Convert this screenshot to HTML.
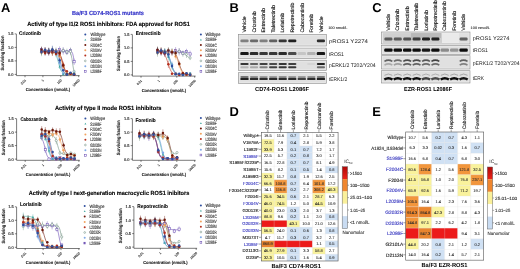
<!DOCTYPE html><html><head><meta charset="utf-8"><style>html,body{margin:0;padding:0;background:#fff;overflow:hidden;}svg{display:block}text{font-family:'Liberation Sans', Arial, Helvetica, sans-serif;text-rendering:geometricPrecision;}</style></head><body>
<svg width="520" height="269" viewBox="0 0 520 269">
<defs><filter id="bl" x="-20%" y="-50%" width="140%" height="200%"><feGaussianBlur stdDeviation="0.6"/></filter><filter id="bl2" x="-20%" y="-50%" width="140%" height="200%"><feGaussianBlur stdDeviation="0.35"/></filter></defs>
<rect width="520" height="269" fill="#fff"/>
<text x="1.00" y="11.80" font-size="12.9" font-weight="bold" fill="#000" text-anchor="start">A</text>
<text x="72.00" y="14.60" font-size="5.9" font-weight="bold" fill="#3434c8" text-anchor="start" textLength="72" lengthAdjust="spacingAndGlyphs" stroke="#3434c8" stroke-width="0.15">Ba/F3 CD74-ROS1 mutants</text>
<text x="27.30" y="26.00" font-size="6.0" font-weight="bold" fill="#000" text-anchor="start" textLength="162.5" lengthAdjust="spacingAndGlyphs" stroke="#000" stroke-width="0.12">Activity of type I1/2 ROS1 inhibitors: FDA approved for ROS1</text>
<text x="55.00" y="109.60" font-size="6.0" font-weight="bold" fill="#000" text-anchor="start" textLength="106.5" lengthAdjust="spacingAndGlyphs" stroke="#000" stroke-width="0.12">Activity of type II mode ROS1 inhibitors</text>
<text x="28.80" y="195.40" font-size="6.0" font-weight="bold" fill="#000" text-anchor="start" textLength="160.5" lengthAdjust="spacingAndGlyphs" stroke="#000" stroke-width="0.12">Activity of type I next-generation macrocyclic ROS1 inibitors</text>
<text x="19.00" y="34.80" font-size="5.3" font-weight="bold" fill="#000" text-anchor="start" textLength="22" lengthAdjust="spacingAndGlyphs" stroke="#000" stroke-width="0.08">Crizotinib</text>
<path d="M16.4 34.099999999999994 V75.6 H79.6" fill="none" stroke="#333" stroke-width="0.65"/>
<path d="M14.7 74.40H16.4" stroke="#111" stroke-width="0.55"/>
<text x="13.40" y="75.80" font-size="3.9" font-weight="normal" fill="#222" text-anchor="end" stroke="#222" stroke-width="0.15">0.0</text>
<path d="M14.7 60.90H16.4" stroke="#111" stroke-width="0.55"/>
<text x="13.40" y="62.30" font-size="3.9" font-weight="normal" fill="#222" text-anchor="end" stroke="#222" stroke-width="0.15">0.5</text>
<path d="M14.7 47.40H16.4" stroke="#111" stroke-width="0.55"/>
<text x="13.40" y="48.80" font-size="3.9" font-weight="normal" fill="#222" text-anchor="end" stroke="#222" stroke-width="0.15">1.0</text>
<path d="M14.7 33.90H16.4" stroke="#111" stroke-width="0.55"/>
<text x="13.40" y="35.30" font-size="3.9" font-weight="normal" fill="#222" text-anchor="end" stroke="#222" stroke-width="0.15">1.5</text>
<text transform="translate(4.40,53.10) rotate(-90)" font-size="4.6" font-weight="bold" text-anchor="middle" fill="#111" stroke="#111" stroke-width="0.1" textLength="35" lengthAdjust="spacingAndGlyphs">Surviving fraction</text>
<path d="M25.00 75.6V77.19999999999999" stroke="#111" stroke-width="0.55"/>
<text transform="translate(26.20,80.6) rotate(-45)" font-size="3.1" text-anchor="end" fill="#333" stroke="#333" stroke-width="0.1">0.01</text>
<path d="M42.90 75.6V77.19999999999999" stroke="#111" stroke-width="0.55"/>
<text transform="translate(44.10,80.6) rotate(-45)" font-size="3.1" text-anchor="end" fill="#333" stroke="#333" stroke-width="0.1">1</text>
<path d="M60.80 75.6V77.19999999999999" stroke="#111" stroke-width="0.55"/>
<text transform="translate(62.00,80.6) rotate(-45)" font-size="3.1" text-anchor="end" fill="#333" stroke="#333" stroke-width="0.1">100</text>
<path d="M78.70 75.6V77.19999999999999" stroke="#111" stroke-width="0.55"/>
<text transform="translate(79.90,80.6) rotate(-45)" font-size="3.1" text-anchor="end" fill="#333" stroke="#333" stroke-width="0.1">10000</text>
<text x="47.90" y="91.00" font-size="4.4" font-weight="bold" fill="#111" text-anchor="middle" textLength="44.5" lengthAdjust="spacingAndGlyphs" stroke="#111" stroke-width="0.08">Concentration (nmol/L)</text>
<path d="M41.5 50.6 L42.3 50.6 L43.1 50.6 L43.9 50.6 L44.7 50.6 L45.5 50.6 L46.3 50.6 L47.1 50.6 L47.9 50.6 L48.7 50.6 L49.5 50.7 L50.3 50.7 L51.1 50.7 L51.9 50.7 L52.7 50.8 L53.5 50.9 L54.3 51.0 L55.1 51.3 L55.9 51.7 L56.7 52.4 L57.5 53.4 L58.3 55.0 L59.1 57.3 L59.9 60.1 L60.7 63.2 L61.5 66.2 L62.3 68.7 L63.1 70.6 L63.9 71.9 L64.7 72.8 L65.5 73.3 L66.3 73.6 L67.1 73.8 L67.9 74.0 L68.7 74.0 L69.5 74.1 L70.3 74.1 L71.1 74.1 L71.9 74.1 L72.7 74.1 L73.5 74.1 L74.1 74.1" fill="none" stroke="#2f4f9f" stroke-width="0.6"/>
<path d="M41.5 51.2 L42.3 51.2 L43.1 51.2 L43.9 51.2 L44.7 51.2 L45.5 51.2 L46.3 51.2 L47.1 51.2 L47.9 51.2 L48.7 51.2 L49.5 51.2 L50.3 51.3 L51.1 51.3 L51.9 51.5 L52.7 51.7 L53.5 52.0 L54.3 52.5 L55.1 53.3 L55.9 54.6 L56.7 56.5 L57.5 59.0 L58.3 61.9 L59.1 64.9 L59.9 67.7 L60.7 69.8 L61.5 71.4 L62.3 72.4 L63.1 73.1 L63.9 73.5 L64.7 73.8 L65.5 73.9 L66.3 74.0 L67.1 74.1 L67.9 74.1 L68.7 74.1 L69.5 74.1 L70.3 74.1 L71.1 74.1 L71.9 74.1 L72.7 74.1 L73.5 74.1 L74.1 74.1" fill="none" stroke="#3fa7a0" stroke-width="0.6"/>
<path d="M41.5 51.2 L42.3 51.2 L43.1 51.2 L43.9 51.2 L44.7 51.2 L45.5 51.2 L46.3 51.2 L47.1 51.2 L47.9 51.2 L48.7 51.2 L49.5 51.2 L50.3 51.2 L51.1 51.2 L51.9 51.2 L52.7 51.2 L53.5 51.2 L54.3 51.3 L55.1 51.3 L55.9 51.5 L56.7 51.7 L57.5 52.0 L58.3 52.5 L59.1 53.3 L59.9 54.6 L60.7 56.5 L61.5 59.0 L62.3 61.9 L63.1 64.9 L63.9 67.7 L64.7 69.8 L65.5 71.4 L66.3 72.4 L67.1 73.1 L67.9 73.5 L68.7 73.8 L69.5 73.9 L70.3 74.0 L71.1 74.1 L71.9 74.1 L72.7 74.1 L73.5 74.1 L74.1 74.1" fill="none" stroke="#6e1a0c" stroke-width="0.6"/>
<path d="M41.5 51.7 L42.3 51.7 L43.1 51.7 L43.9 51.7 L44.7 51.7 L45.5 51.7 L46.3 51.7 L47.1 51.7 L47.9 51.7 L48.7 51.7 L49.5 51.7 L50.3 51.7 L51.1 51.7 L51.9 51.7 L52.7 51.8 L53.5 51.8 L54.3 51.9 L55.1 51.9 L55.9 52.1 L56.7 52.4 L57.5 52.8 L58.3 53.5 L59.1 54.6 L59.9 56.2 L60.7 58.4 L61.5 61.1 L62.3 64.0 L63.1 66.9 L63.9 69.2 L64.7 71.0 L65.5 72.1 L66.3 72.9 L67.1 73.4 L67.9 73.7 L68.7 73.9 L69.5 74.0 L70.3 74.0 L71.1 74.1 L71.9 74.1 L72.7 74.1 L73.5 74.1 L74.1 74.1" fill="none" stroke="#f2a35e" stroke-width="0.6"/>
<path d="M41.5 52.3 L42.3 52.3 L43.1 52.3 L43.9 52.3 L44.7 52.3 L45.5 52.3 L46.3 52.3 L47.1 52.3 L47.9 52.3 L48.7 52.3 L49.5 52.3 L50.3 52.3 L51.1 52.3 L51.9 52.3 L52.7 52.3 L53.5 52.3 L54.3 52.3 L55.1 52.4 L55.9 52.5 L56.7 52.6 L57.5 52.8 L58.3 53.2 L59.1 53.8 L59.9 54.7 L60.7 56.1 L61.5 58.1 L62.3 60.7 L63.1 63.6 L63.9 66.4 L64.7 68.8 L65.5 70.7 L66.3 71.9 L67.1 72.8 L67.9 73.3 L68.7 73.7 L69.5 73.8 L70.3 74.0 L71.1 74.0 L71.9 74.1 L72.7 74.1 L73.5 74.1 L74.1 74.1" fill="none" stroke="#b5301e" stroke-width="0.6"/>
<path d="M41.5 51.2 L42.3 51.2 L43.1 51.2 L43.9 51.2 L44.7 51.2 L45.5 51.2 L46.3 51.2 L47.1 51.2 L47.9 51.2 L48.7 51.2 L49.5 51.2 L50.3 51.2 L51.1 51.2 L51.9 51.2 L52.7 51.2 L53.5 51.2 L54.3 51.2 L55.1 51.2 L55.9 51.2 L56.7 51.2 L57.5 51.2 L58.3 51.2 L59.1 51.2 L59.9 51.2 L60.7 51.2 L61.5 51.2 L62.3 51.2 L63.1 51.2 L63.9 51.2 L64.7 51.2 L65.5 51.2 L66.3 51.2 L67.1 51.2 L67.9 51.3 L68.7 51.4 L69.5 51.7 L70.3 52.6 L71.1 54.6 L71.9 58.5 L72.7 64.1 L73.5 69.0 L74.1 71.4" fill="none" stroke="#6f9080" stroke-width="0.6"/>
<path d="M41.5 50.6 L42.3 50.6 L43.1 50.6 L43.9 50.6 L44.7 50.6 L45.5 50.6 L46.3 50.6 L47.1 50.6 L47.9 50.7 L48.7 50.7 L49.5 50.7 L50.3 50.7 L51.1 50.7 L51.9 50.8 L52.7 50.9 L53.5 51.1 L54.3 51.4 L55.1 51.8 L55.9 52.6 L56.7 53.8 L57.5 55.5 L58.3 57.9 L59.1 60.8 L59.9 63.9 L60.7 66.8 L61.5 69.2 L62.3 71.0 L63.1 72.2 L63.9 72.9 L64.7 73.4 L65.5 73.7 L66.3 73.9 L67.1 74.0 L67.9 74.0 L68.7 74.1 L69.5 74.1 L70.3 74.1 L71.1 74.1 L71.9 74.1 L72.7 74.1 L73.5 74.1 L74.1 74.1" fill="none" stroke="#7ea8e6" stroke-width="0.6"/>
<path d="M41.5 50.9 L42.3 50.9 L43.1 50.9 L43.9 50.9 L44.7 50.9 L45.5 50.9 L46.3 50.9 L47.1 50.9 L47.9 50.9 L48.7 50.9 L49.5 50.9 L50.3 50.9 L51.1 50.9 L51.9 50.9 L52.7 50.9 L53.5 50.9 L54.3 50.9 L55.1 50.9 L55.9 50.9 L56.7 50.9 L57.5 50.9 L58.3 50.9 L59.1 50.9 L59.9 50.9 L60.7 50.9 L61.5 50.9 L62.3 50.9 L63.1 50.9 L63.9 50.9 L64.7 50.9 L65.5 50.9 L66.3 50.9 L67.1 50.9 L67.9 50.9 L68.7 50.9 L69.5 51.0 L70.3 51.1 L71.1 51.3 L71.9 52.0 L72.7 53.7 L73.5 57.2 L74.1 61.1" fill="none" stroke="#6b4eb3" stroke-width="0.6"/>
<path d="M41.5 46.9V52.3" stroke="#6b4eb3" stroke-width="0.4"/>
<rect x="40.40" y="48.46" width="2.20" height="2.20" fill="#fff" stroke="#6b4eb3" stroke-width="0.55"/>
<path d="M45.1 47.7V54.1" stroke="#6b4eb3" stroke-width="0.4"/>
<rect x="44.02" y="49.81" width="2.20" height="2.20" fill="#fff" stroke="#6b4eb3" stroke-width="0.55"/>
<path d="M48.7 48.6V56.0" stroke="#6b4eb3" stroke-width="0.4"/>
<rect x="47.64" y="51.16" width="2.20" height="2.20" fill="#fff" stroke="#6b4eb3" stroke-width="0.55"/>
<path d="M52.4 48.0V52.4" stroke="#6b4eb3" stroke-width="0.4"/>
<rect x="51.27" y="49.14" width="2.20" height="2.20" fill="#fff" stroke="#6b4eb3" stroke-width="0.55"/>
<path d="M56.0 48.9V54.3" stroke="#6b4eb3" stroke-width="0.4"/>
<rect x="54.89" y="50.49" width="2.20" height="2.20" fill="#fff" stroke="#6b4eb3" stroke-width="0.55"/>
<path d="M59.6 46.4V52.8" stroke="#6b4eb3" stroke-width="0.4"/>
<rect x="58.51" y="48.46" width="2.20" height="2.20" fill="#fff" stroke="#6b4eb3" stroke-width="0.55"/>
<path d="M63.2 47.2V54.6" stroke="#6b4eb3" stroke-width="0.4"/>
<rect x="62.13" y="49.81" width="2.20" height="2.20" fill="#fff" stroke="#6b4eb3" stroke-width="0.55"/>
<path d="M66.9 50.1V54.5" stroke="#6b4eb3" stroke-width="0.4"/>
<rect x="65.76" y="51.16" width="2.20" height="2.20" fill="#fff" stroke="#6b4eb3" stroke-width="0.55"/>
<path d="M70.5 47.7V53.1" stroke="#6b4eb3" stroke-width="0.4"/>
<rect x="69.38" y="49.33" width="2.20" height="2.20" fill="#fff" stroke="#6b4eb3" stroke-width="0.55"/>
<path d="M74.1 58.6V65.0" stroke="#6b4eb3" stroke-width="0.4"/>
<rect x="73.00" y="60.65" width="2.20" height="2.20" fill="#fff" stroke="#6b4eb3" stroke-width="0.55"/>
<path d="M41.5 48.8V56.2" stroke="#6f9080" stroke-width="0.4"/>
<circle cx="41.50" cy="52.53" r="1.10" fill="#fff" stroke="#6f9080" stroke-width="0.55"/>
<path d="M45.1 48.3V52.7" stroke="#6f9080" stroke-width="0.4"/>
<circle cx="45.12" cy="50.51" r="1.10" fill="#fff" stroke="#6f9080" stroke-width="0.55"/>
<path d="M48.7 49.2V54.6" stroke="#6f9080" stroke-width="0.4"/>
<circle cx="48.74" cy="51.86" r="1.10" fill="#fff" stroke="#6f9080" stroke-width="0.55"/>
<path d="M52.4 46.6V53.0" stroke="#6f9080" stroke-width="0.4"/>
<circle cx="52.37" cy="49.83" r="1.10" fill="#fff" stroke="#6f9080" stroke-width="0.55"/>
<path d="M56.0 47.5V54.9" stroke="#6f9080" stroke-width="0.4"/>
<circle cx="55.99" cy="51.18" r="1.10" fill="#fff" stroke="#6f9080" stroke-width="0.55"/>
<path d="M59.6 50.3V54.7" stroke="#6f9080" stroke-width="0.4"/>
<circle cx="59.61" cy="52.53" r="1.10" fill="#fff" stroke="#6f9080" stroke-width="0.55"/>
<path d="M63.2 47.8V53.2" stroke="#6f9080" stroke-width="0.4"/>
<circle cx="63.23" cy="50.51" r="1.10" fill="#fff" stroke="#6f9080" stroke-width="0.55"/>
<path d="M66.9 48.7V55.1" stroke="#6f9080" stroke-width="0.4"/>
<circle cx="66.86" cy="51.87" r="1.10" fill="#fff" stroke="#6f9080" stroke-width="0.55"/>
<path d="M70.5 47.8V55.2" stroke="#6f9080" stroke-width="0.4"/>
<circle cx="70.48" cy="51.53" r="1.10" fill="#fff" stroke="#6f9080" stroke-width="0.55"/>
<circle cx="74.10" cy="71.39" r="1.10" fill="#fff" stroke="#6f9080" stroke-width="0.55"/>
<path d="M41.5 47.4V53.8" stroke="#7ea8e6" stroke-width="0.4"/>
<circle cx="41.50" cy="50.64" r="1.25" fill="#7ea8e6"/>
<path d="M45.1 48.3V55.7" stroke="#7ea8e6" stroke-width="0.4"/>
<circle cx="45.12" cy="51.99" r="1.25" fill="#7ea8e6"/>
<path d="M48.7 47.8V52.2" stroke="#7ea8e6" stroke-width="0.4"/>
<circle cx="48.74" cy="49.98" r="1.25" fill="#7ea8e6"/>
<path d="M52.4 48.8V54.2" stroke="#7ea8e6" stroke-width="0.4"/>
<circle cx="52.37" cy="51.52" r="1.25" fill="#7ea8e6"/>
<path d="M56.0 48.2V54.6" stroke="#7ea8e6" stroke-width="0.4"/>
<circle cx="55.99" cy="51.35" r="1.25" fill="#7ea8e6"/>
<path d="M59.6 59.1V66.5" stroke="#7ea8e6" stroke-width="0.4"/>
<circle cx="59.61" cy="62.82" r="1.25" fill="#7ea8e6"/>
<circle cx="63.23" cy="73.68" r="1.25" fill="#7ea8e6"/>
<circle cx="66.86" cy="73.28" r="1.25" fill="#7ea8e6"/>
<circle cx="70.48" cy="74.40" r="1.25" fill="#7ea8e6"/>
<circle cx="74.10" cy="72.78" r="1.25" fill="#7ea8e6"/>
<path d="M41.5 49.7V55.1" stroke="#f2a35e" stroke-width="0.4"/>
<circle cx="41.50" cy="52.40" r="1.25" fill="#f2a35e"/>
<path d="M45.1 47.2V53.6" stroke="#f2a35e" stroke-width="0.4"/>
<circle cx="45.12" cy="50.37" r="1.25" fill="#f2a35e"/>
<path d="M48.7 48.0V55.4" stroke="#f2a35e" stroke-width="0.4"/>
<circle cx="48.74" cy="51.72" r="1.25" fill="#f2a35e"/>
<path d="M52.4 50.9V55.3" stroke="#f2a35e" stroke-width="0.4"/>
<circle cx="52.37" cy="53.11" r="1.25" fill="#f2a35e"/>
<path d="M56.0 48.7V54.1" stroke="#f2a35e" stroke-width="0.4"/>
<circle cx="55.99" cy="51.45" r="1.25" fill="#f2a35e"/>
<path d="M59.6 53.0V59.4" stroke="#f2a35e" stroke-width="0.4"/>
<circle cx="59.61" cy="56.18" r="1.25" fill="#f2a35e"/>
<path d="M63.2 62.2V69.6" stroke="#f2a35e" stroke-width="0.4"/>
<circle cx="63.23" cy="65.94" r="1.25" fill="#f2a35e"/>
<circle cx="66.86" cy="73.28" r="1.25" fill="#f2a35e"/>
<circle cx="70.48" cy="74.40" r="1.25" fill="#f2a35e"/>
<circle cx="74.10" cy="73.45" r="1.25" fill="#f2a35e"/>
<path d="M41.5 47.5V54.9" stroke="#3fa7a0" stroke-width="0.4"/>
<path d="M41.50 49.88L42.70 52.08L40.30 52.08Z" fill="#3fa7a0"/>
<path d="M45.1 50.3V54.7" stroke="#3fa7a0" stroke-width="0.4"/>
<path d="M45.12 51.23L46.32 53.43L43.92 53.43Z" fill="#3fa7a0"/>
<path d="M48.7 47.8V53.2" stroke="#3fa7a0" stroke-width="0.4"/>
<path d="M48.74 49.24L49.94 51.44L47.54 51.44Z" fill="#3fa7a0"/>
<path d="M52.4 49.0V55.4" stroke="#3fa7a0" stroke-width="0.4"/>
<path d="M52.37 50.93L53.57 53.13L51.17 53.13Z" fill="#3fa7a0"/>
<path d="M56.0 49.8V57.2" stroke="#3fa7a0" stroke-width="0.4"/>
<path d="M55.99 52.15L57.19 54.35L54.79 54.35Z" fill="#3fa7a0"/>
<path d="M59.6 64.5V68.9" stroke="#3fa7a0" stroke-width="0.4"/>
<path d="M59.61 65.42L60.81 67.62L58.41 67.62Z" fill="#3fa7a0"/>
<path d="M63.23 73.10L64.43 75.30L62.03 75.30Z" fill="#3fa7a0"/>
<path d="M66.86 72.07L68.06 74.27L65.66 74.27Z" fill="#3fa7a0"/>
<path d="M70.48 73.10L71.68 75.30L69.28 75.30Z" fill="#3fa7a0"/>
<path d="M74.10 71.48L75.30 73.68L72.90 73.68Z" fill="#3fa7a0"/>
<path d="M41.5 49.4V53.8" stroke="#b5301e" stroke-width="0.4"/>
<circle cx="41.50" cy="51.59" r="1.25" fill="#b5301e"/>
<path d="M45.1 50.2V55.6" stroke="#b5301e" stroke-width="0.4"/>
<circle cx="45.12" cy="52.94" r="1.25" fill="#b5301e"/>
<path d="M48.7 47.7V54.1" stroke="#b5301e" stroke-width="0.4"/>
<circle cx="48.74" cy="50.91" r="1.25" fill="#b5301e"/>
<path d="M52.4 48.6V56.0" stroke="#b5301e" stroke-width="0.4"/>
<circle cx="52.37" cy="52.28" r="1.25" fill="#b5301e"/>
<path d="M56.0 51.6V56.0" stroke="#b5301e" stroke-width="0.4"/>
<circle cx="55.99" cy="53.81" r="1.25" fill="#b5301e"/>
<path d="M59.6 51.0V56.4" stroke="#b5301e" stroke-width="0.4"/>
<circle cx="59.61" cy="53.65" r="1.25" fill="#b5301e"/>
<path d="M63.2 61.5V67.9" stroke="#b5301e" stroke-width="0.4"/>
<circle cx="63.23" cy="64.72" r="1.25" fill="#b5301e"/>
<circle cx="66.86" cy="71.23" r="1.25" fill="#b5301e"/>
<circle cx="70.48" cy="73.98" r="1.25" fill="#b5301e"/>
<circle cx="74.10" cy="74.40" r="1.25" fill="#b5301e"/>
<path d="M41.5 46.6V53.0" stroke="#6e1a0c" stroke-width="0.4"/>
<circle cx="41.50" cy="49.83" r="1.25" fill="#6e1a0c"/>
<path d="M45.1 47.5V54.9" stroke="#6e1a0c" stroke-width="0.4"/>
<circle cx="45.12" cy="51.18" r="1.25" fill="#6e1a0c"/>
<path d="M48.7 50.3V54.7" stroke="#6e1a0c" stroke-width="0.4"/>
<circle cx="48.74" cy="52.53" r="1.25" fill="#6e1a0c"/>
<path d="M52.4 47.8V53.2" stroke="#6e1a0c" stroke-width="0.4"/>
<circle cx="52.37" cy="50.53" r="1.25" fill="#6e1a0c"/>
<path d="M56.0 49.0V55.4" stroke="#6e1a0c" stroke-width="0.4"/>
<circle cx="55.99" cy="52.15" r="1.25" fill="#6e1a0c"/>
<path d="M59.6 49.0V56.4" stroke="#6e1a0c" stroke-width="0.4"/>
<circle cx="59.61" cy="52.75" r="1.25" fill="#6e1a0c"/>
<path d="M63.2 63.2V67.6" stroke="#6e1a0c" stroke-width="0.4"/>
<circle cx="63.23" cy="65.41" r="1.25" fill="#6e1a0c"/>
<circle cx="66.86" cy="74.29" r="1.25" fill="#6e1a0c"/>
<circle cx="70.48" cy="73.34" r="1.25" fill="#6e1a0c"/>
<circle cx="74.10" cy="74.40" r="1.25" fill="#6e1a0c"/>
<path d="M41.5 49.8V54.2" stroke="#2f4f9f" stroke-width="0.4"/>
<circle cx="41.50" cy="51.99" r="1.25" fill="#2f4f9f"/>
<path d="M45.1 47.3V52.7" stroke="#2f4f9f" stroke-width="0.4"/>
<circle cx="45.12" cy="49.97" r="1.25" fill="#2f4f9f"/>
<path d="M48.7 48.1V54.5" stroke="#2f4f9f" stroke-width="0.4"/>
<circle cx="48.74" cy="51.32" r="1.25" fill="#2f4f9f"/>
<path d="M52.4 45.7V53.1" stroke="#2f4f9f" stroke-width="0.4"/>
<circle cx="52.37" cy="49.39" r="1.25" fill="#2f4f9f"/>
<path d="M56.0 49.5V53.9" stroke="#2f4f9f" stroke-width="0.4"/>
<circle cx="55.99" cy="51.75" r="1.25" fill="#2f4f9f"/>
<path d="M59.6 57.7V63.1" stroke="#2f4f9f" stroke-width="0.4"/>
<circle cx="59.61" cy="60.35" r="1.25" fill="#2f4f9f"/>
<circle cx="63.23" cy="70.19" r="1.25" fill="#2f4f9f"/>
<circle cx="66.86" cy="74.40" r="1.25" fill="#2f4f9f"/>
<circle cx="70.48" cy="72.75" r="1.25" fill="#2f4f9f"/>
<circle cx="74.10" cy="74.13" r="1.25" fill="#2f4f9f"/>
<circle cx="85.30" cy="34.40" r="1.00" fill="#2f4f9f"/>
<text x="90.40" y="36.10" font-size="4.8" font-weight="normal" fill="#2a2a2a" text-anchor="start" textLength="15.04" lengthAdjust="spacingAndGlyphs" stroke="#2a2a2a" stroke-width="0.12">Wildtype</text>
<path d="M85.30 38.66L86.26 40.42L84.34 40.42Z" fill="#3fa7a0"/>
<text x="90.40" y="41.40" font-size="4.8" font-weight="normal" fill="#2a2a2a" text-anchor="start" textLength="11.28" lengthAdjust="spacingAndGlyphs" stroke="#2a2a2a" stroke-width="0.12">S1986F</text>
<circle cx="85.30" cy="45.00" r="1.00" fill="#6e1a0c"/>
<text x="90.40" y="46.70" font-size="4.8" font-weight="normal" fill="#2a2a2a" text-anchor="start" textLength="11.28" lengthAdjust="spacingAndGlyphs" stroke="#2a2a2a" stroke-width="0.12">F2004C</text>
<circle cx="85.30" cy="50.30" r="1.00" fill="#f2a35e"/>
<text x="90.40" y="52.00" font-size="4.8" font-weight="normal" fill="#2a2a2a" text-anchor="start" textLength="11.28" lengthAdjust="spacingAndGlyphs" stroke="#2a2a2a" stroke-width="0.12">F2004V</text>
<circle cx="85.30" cy="55.60" r="1.00" fill="#b5301e"/>
<text x="90.40" y="57.30" font-size="4.8" font-weight="normal" fill="#2a2a2a" text-anchor="start" textLength="11.28" lengthAdjust="spacingAndGlyphs" stroke="#2a2a2a" stroke-width="0.12">L2026M</text>
<circle cx="85.30" cy="60.90" r="0.88" fill="#fff" stroke="#6f9080" stroke-width="0.55"/>
<text x="90.40" y="62.60" font-size="4.8" font-weight="normal" fill="#2a2a2a" text-anchor="start" textLength="11.28" lengthAdjust="spacingAndGlyphs" stroke="#2a2a2a" stroke-width="0.12">G2032R</text>
<circle cx="85.30" cy="66.20" r="1.00" fill="#7ea8e6"/>
<text x="90.40" y="67.90" font-size="4.8" font-weight="normal" fill="#2a2a2a" text-anchor="start" textLength="11.28" lengthAdjust="spacingAndGlyphs" stroke="#2a2a2a" stroke-width="0.12">D2033N</text>
<rect x="84.42" y="70.62" width="1.76" height="1.76" fill="#fff" stroke="#6b4eb3" stroke-width="0.55"/>
<text x="90.40" y="73.20" font-size="4.8" font-weight="normal" fill="#2a2a2a" text-anchor="start" textLength="11.28" lengthAdjust="spacingAndGlyphs" stroke="#2a2a2a" stroke-width="0.12">L2086F</text>
<text x="135.80" y="35.20" font-size="5.3" font-weight="bold" fill="#000" text-anchor="start" textLength="24.8" lengthAdjust="spacingAndGlyphs" stroke="#000" stroke-width="0.08">Entrectinib</text>
<path d="M132.4 34.599999999999994 V76.1 H195.60000000000002" fill="none" stroke="#333" stroke-width="0.65"/>
<path d="M130.70000000000002 74.90H132.4" stroke="#111" stroke-width="0.55"/>
<text x="129.40" y="76.30" font-size="3.9" font-weight="normal" fill="#222" text-anchor="end" stroke="#222" stroke-width="0.15">0.0</text>
<path d="M130.70000000000002 61.40H132.4" stroke="#111" stroke-width="0.55"/>
<text x="129.40" y="62.80" font-size="3.9" font-weight="normal" fill="#222" text-anchor="end" stroke="#222" stroke-width="0.15">0.5</text>
<path d="M130.70000000000002 47.90H132.4" stroke="#111" stroke-width="0.55"/>
<text x="129.40" y="49.30" font-size="3.9" font-weight="normal" fill="#222" text-anchor="end" stroke="#222" stroke-width="0.15">1.0</text>
<path d="M130.70000000000002 34.40H132.4" stroke="#111" stroke-width="0.55"/>
<text x="129.40" y="35.80" font-size="3.9" font-weight="normal" fill="#222" text-anchor="end" stroke="#222" stroke-width="0.15">1.5</text>
<text transform="translate(120.40,53.60) rotate(-90)" font-size="4.6" font-weight="bold" text-anchor="middle" fill="#111" stroke="#111" stroke-width="0.1" textLength="35" lengthAdjust="spacingAndGlyphs">Surviving fraction</text>
<path d="M141.00 76.1V77.69999999999999" stroke="#111" stroke-width="0.55"/>
<text transform="translate(142.20,81.1) rotate(-45)" font-size="3.1" text-anchor="end" fill="#333" stroke="#333" stroke-width="0.1">0.01</text>
<path d="M158.90 76.1V77.69999999999999" stroke="#111" stroke-width="0.55"/>
<text transform="translate(160.10,81.1) rotate(-45)" font-size="3.1" text-anchor="end" fill="#333" stroke="#333" stroke-width="0.1">1</text>
<path d="M176.80 76.1V77.69999999999999" stroke="#111" stroke-width="0.55"/>
<text transform="translate(178.00,81.1) rotate(-45)" font-size="3.1" text-anchor="end" fill="#333" stroke="#333" stroke-width="0.1">100</text>
<path d="M194.70 76.1V77.69999999999999" stroke="#111" stroke-width="0.55"/>
<text transform="translate(195.90,81.1) rotate(-45)" font-size="3.1" text-anchor="end" fill="#333" stroke="#333" stroke-width="0.1">10000</text>
<text x="163.90" y="91.50" font-size="4.4" font-weight="bold" fill="#111" text-anchor="middle" textLength="44.5" lengthAdjust="spacingAndGlyphs" stroke="#111" stroke-width="0.08">Concentration (nmol/L)</text>
<path d="M157.5 51.2 L158.3 51.2 L159.1 51.2 L159.9 51.2 L160.7 51.2 L161.5 51.3 L162.3 51.3 L163.1 51.4 L163.9 51.6 L164.7 51.8 L165.5 52.2 L166.3 52.7 L167.1 53.6 L167.9 54.7 L168.7 56.3 L169.5 58.3 L170.3 60.6 L171.1 63.2 L171.9 65.8 L172.7 68.1 L173.5 69.9 L174.3 71.4 L175.1 72.4 L175.9 73.2 L176.7 73.7 L177.5 74.0 L178.3 74.2 L179.1 74.4 L179.9 74.5 L180.7 74.5 L181.5 74.6 L182.3 74.6 L183.1 74.6 L183.9 74.6 L184.7 74.6 L185.5 74.6 L186.3 74.6 L187.1 74.6 L187.9 74.6 L188.7 74.6 L189.5 74.6 L190.1 74.6" fill="none" stroke="#2f4f9f" stroke-width="0.6"/>
<path d="M157.5 50.6 L158.3 50.6 L159.1 50.6 L159.9 50.7 L160.7 50.7 L161.5 50.8 L162.3 50.8 L163.1 51.0 L163.9 51.2 L164.7 51.5 L165.5 52.0 L166.3 52.7 L167.1 53.8 L167.9 55.2 L168.7 57.1 L169.5 59.4 L170.3 61.9 L171.1 64.6 L171.9 67.1 L172.7 69.2 L173.5 70.8 L174.3 72.0 L175.1 72.9 L175.9 73.5 L176.7 73.9 L177.5 74.1 L178.3 74.3 L179.1 74.4 L179.9 74.5 L180.7 74.5 L181.5 74.6 L182.3 74.6 L183.1 74.6 L183.9 74.6 L184.7 74.6 L185.5 74.6 L186.3 74.6 L187.1 74.6 L187.9 74.6 L188.7 74.6 L189.5 74.6 L190.1 74.6" fill="none" stroke="#3fa7a0" stroke-width="0.6"/>
<path d="M157.5 51.1 L158.3 51.1 L159.1 51.1 L159.9 51.1 L160.7 51.1 L161.5 51.1 L162.3 51.1 L163.1 51.1 L163.9 51.1 L164.7 51.1 L165.5 51.2 L166.3 51.2 L167.1 51.2 L167.9 51.2 L168.7 51.2 L169.5 51.3 L170.3 51.3 L171.1 51.4 L171.9 51.6 L172.7 51.8 L173.5 52.2 L174.3 52.7 L175.1 53.6 L175.9 54.7 L176.7 56.3 L177.5 58.3 L178.3 60.6 L179.1 63.2 L179.9 65.8 L180.7 68.1 L181.5 69.9 L182.3 71.4 L183.1 72.4 L183.9 73.2 L184.7 73.7 L185.5 74.0 L186.3 74.2 L187.1 74.4 L187.9 74.5 L188.7 74.5 L189.5 74.6 L190.1 74.6" fill="none" stroke="#6e1a0c" stroke-width="0.6"/>
<path d="M157.5 52.0 L158.3 52.0 L159.1 52.0 L159.9 52.0 L160.7 52.0 L161.5 52.0 L162.3 52.0 L163.1 52.0 L163.9 52.0 L164.7 52.0 L165.5 52.0 L166.3 52.0 L167.1 52.0 L167.9 52.0 L168.7 52.0 L169.5 52.1 L170.3 52.2 L171.1 52.3 L171.9 52.5 L172.7 52.8 L173.5 53.3 L174.3 54.0 L175.1 54.9 L175.9 56.3 L176.7 58.0 L177.5 60.2 L178.3 62.7 L179.1 65.2 L179.9 67.5 L180.7 69.5 L181.5 71.0 L182.3 72.2 L183.1 73.0 L183.9 73.6 L184.7 73.9 L185.5 74.2 L186.3 74.3 L187.1 74.4 L187.9 74.5 L188.7 74.6 L189.5 74.6 L190.1 74.6" fill="none" stroke="#f2a35e" stroke-width="0.6"/>
<path d="M157.5 51.7 L158.3 51.8 L159.1 51.8 L159.9 51.9 L160.7 52.1 L161.5 52.3 L162.3 52.6 L163.1 53.1 L163.9 53.8 L164.7 54.8 L165.5 56.3 L166.3 58.1 L167.1 60.3 L167.9 62.8 L168.7 65.4 L169.5 67.7 L170.3 69.6 L171.1 71.2 L171.9 72.3 L172.7 73.1 L173.5 73.6 L174.3 74.0 L175.1 74.2 L175.9 74.3 L176.7 74.4 L177.5 74.5 L178.3 74.6 L179.1 74.6 L179.9 74.6 L180.7 74.6 L181.5 74.6 L182.3 74.6 L183.1 74.6 L183.9 74.6 L184.7 74.6 L185.5 74.6 L186.3 74.6 L187.1 74.6 L187.9 74.6 L188.7 74.6 L189.5 74.6 L190.1 74.6" fill="none" stroke="#b5301e" stroke-width="0.6"/>
<path d="M157.5 51.7 L158.3 51.7 L159.1 51.7 L159.9 51.7 L160.7 51.7 L161.5 51.7 L162.3 51.7 L163.1 51.7 L163.9 51.7 L164.7 51.7 L165.5 51.7 L166.3 51.7 L167.1 51.7 L167.9 51.7 L168.7 51.7 L169.5 51.7 L170.3 51.7 L171.1 51.7 L171.9 51.7 L172.7 51.7 L173.5 51.7 L174.3 51.7 L175.1 51.7 L175.9 51.7 L176.7 51.7 L177.5 51.8 L178.3 51.8 L179.1 51.9 L179.9 52.0 L180.7 52.1 L181.5 52.3 L182.3 52.6 L183.1 53.0 L183.9 53.5 L184.7 54.1 L185.5 54.8 L186.3 55.5 L187.1 56.1 L187.9 56.7 L188.7 57.3 L189.5 57.7 L190.1 57.9" fill="none" stroke="#6f9080" stroke-width="0.6"/>
<path d="M157.5 50.6 L158.3 50.6 L159.1 50.6 L159.9 50.7 L160.7 50.7 L161.5 50.7 L162.3 50.8 L163.1 50.9 L163.9 51.1 L164.7 51.3 L165.5 51.7 L166.3 52.2 L167.1 53.1 L167.9 54.2 L168.7 55.8 L169.5 57.9 L170.3 60.3 L171.1 62.9 L171.9 65.6 L172.7 67.9 L173.5 69.8 L174.3 71.3 L175.1 72.4 L175.9 73.1 L176.7 73.7 L177.5 74.0 L178.3 74.2 L179.1 74.4 L179.9 74.5 L180.7 74.5 L181.5 74.6 L182.3 74.6 L183.1 74.6 L183.9 74.6 L184.7 74.6 L185.5 74.6 L186.3 74.6 L187.1 74.6 L187.9 74.6 L188.7 74.6 L189.5 74.6 L190.1 74.6" fill="none" stroke="#7ea8e6" stroke-width="0.6"/>
<path d="M157.5 51.7 L158.3 51.7 L159.1 51.7 L159.9 51.7 L160.7 51.7 L161.5 51.7 L162.3 51.7 L163.1 51.7 L163.9 51.7 L164.7 51.7 L165.5 51.7 L166.3 51.7 L167.1 51.7 L167.9 51.7 L168.7 51.7 L169.5 51.7 L170.3 51.7 L171.1 51.7 L171.9 51.7 L172.7 51.7 L173.5 51.7 L174.3 51.7 L175.1 51.7 L175.9 51.7 L176.7 51.7 L177.5 51.7 L178.3 51.7 L179.1 51.7 L179.9 51.7 L180.7 51.8 L181.5 51.8 L182.3 51.8 L183.1 51.9 L183.9 51.9 L184.7 52.0 L185.5 52.1 L186.3 52.2 L187.1 52.3 L187.9 52.5 L188.7 52.7 L189.5 53.0 L190.1 53.3" fill="none" stroke="#6b4eb3" stroke-width="0.6"/>
<path d="M157.5 47.6V53.0" stroke="#6b4eb3" stroke-width="0.4"/>
<rect x="156.40" y="49.23" width="2.20" height="2.20" fill="#fff" stroke="#6b4eb3" stroke-width="0.55"/>
<path d="M161.1 48.5V54.9" stroke="#6b4eb3" stroke-width="0.4"/>
<rect x="160.02" y="50.58" width="2.20" height="2.20" fill="#fff" stroke="#6b4eb3" stroke-width="0.55"/>
<path d="M164.7 49.3V56.7" stroke="#6b4eb3" stroke-width="0.4"/>
<rect x="163.64" y="51.93" width="2.20" height="2.20" fill="#fff" stroke="#6b4eb3" stroke-width="0.55"/>
<path d="M168.4 48.8V53.2" stroke="#6b4eb3" stroke-width="0.4"/>
<rect x="167.27" y="49.91" width="2.20" height="2.20" fill="#fff" stroke="#6b4eb3" stroke-width="0.55"/>
<path d="M172.0 49.7V55.1" stroke="#6b4eb3" stroke-width="0.4"/>
<rect x="170.89" y="51.26" width="2.20" height="2.20" fill="#fff" stroke="#6b4eb3" stroke-width="0.55"/>
<path d="M175.6 47.1V53.5" stroke="#6b4eb3" stroke-width="0.4"/>
<rect x="174.51" y="49.25" width="2.20" height="2.20" fill="#fff" stroke="#6b4eb3" stroke-width="0.55"/>
<path d="M179.2 48.0V55.4" stroke="#6b4eb3" stroke-width="0.4"/>
<rect x="178.13" y="50.63" width="2.20" height="2.20" fill="#fff" stroke="#6b4eb3" stroke-width="0.55"/>
<path d="M182.9 51.0V55.4" stroke="#6b4eb3" stroke-width="0.4"/>
<rect x="181.76" y="52.10" width="2.20" height="2.20" fill="#fff" stroke="#6b4eb3" stroke-width="0.55"/>
<path d="M186.5 48.8V54.2" stroke="#6b4eb3" stroke-width="0.4"/>
<rect x="185.38" y="50.44" width="2.20" height="2.20" fill="#fff" stroke="#6b4eb3" stroke-width="0.55"/>
<path d="M190.1 50.7V57.1" stroke="#6b4eb3" stroke-width="0.4"/>
<rect x="189.00" y="52.84" width="2.20" height="2.20" fill="#fff" stroke="#6b4eb3" stroke-width="0.55"/>
<path d="M157.5 49.3V56.7" stroke="#6f9080" stroke-width="0.4"/>
<circle cx="157.50" cy="53.03" r="1.10" fill="#fff" stroke="#6f9080" stroke-width="0.55"/>
<path d="M161.1 48.8V53.2" stroke="#6f9080" stroke-width="0.4"/>
<circle cx="161.12" cy="51.01" r="1.10" fill="#fff" stroke="#6f9080" stroke-width="0.55"/>
<path d="M164.7 49.7V55.1" stroke="#6f9080" stroke-width="0.4"/>
<circle cx="164.74" cy="52.36" r="1.10" fill="#fff" stroke="#6f9080" stroke-width="0.55"/>
<path d="M168.4 47.1V53.5" stroke="#6f9080" stroke-width="0.4"/>
<circle cx="168.37" cy="50.33" r="1.10" fill="#fff" stroke="#6f9080" stroke-width="0.55"/>
<path d="M172.0 48.0V55.4" stroke="#6f9080" stroke-width="0.4"/>
<circle cx="171.99" cy="51.69" r="1.10" fill="#fff" stroke="#6f9080" stroke-width="0.55"/>
<path d="M175.6 50.9V55.3" stroke="#6f9080" stroke-width="0.4"/>
<circle cx="175.61" cy="53.07" r="1.10" fill="#fff" stroke="#6f9080" stroke-width="0.55"/>
<path d="M179.2 48.5V53.9" stroke="#6f9080" stroke-width="0.4"/>
<circle cx="179.23" cy="51.24" r="1.10" fill="#fff" stroke="#6f9080" stroke-width="0.55"/>
<path d="M182.9 50.4V56.8" stroke="#6f9080" stroke-width="0.4"/>
<circle cx="182.86" cy="53.56" r="1.10" fill="#fff" stroke="#6f9080" stroke-width="0.55"/>
<path d="M186.5 50.6V58.0" stroke="#6f9080" stroke-width="0.4"/>
<circle cx="186.48" cy="54.26" r="1.10" fill="#fff" stroke="#6f9080" stroke-width="0.55"/>
<path d="M190.1 55.7V60.1" stroke="#6f9080" stroke-width="0.4"/>
<circle cx="190.10" cy="57.90" r="1.10" fill="#fff" stroke="#6f9080" stroke-width="0.55"/>
<path d="M157.5 47.4V53.8" stroke="#7ea8e6" stroke-width="0.4"/>
<circle cx="157.50" cy="50.61" r="1.25" fill="#7ea8e6"/>
<path d="M161.1 48.3V55.7" stroke="#7ea8e6" stroke-width="0.4"/>
<circle cx="161.12" cy="52.05" r="1.25" fill="#7ea8e6"/>
<path d="M164.7 48.4V52.8" stroke="#7ea8e6" stroke-width="0.4"/>
<circle cx="164.74" cy="50.65" r="1.25" fill="#7ea8e6"/>
<path d="M168.4 53.1V58.5" stroke="#7ea8e6" stroke-width="0.4"/>
<circle cx="168.37" cy="55.79" r="1.25" fill="#7ea8e6"/>
<path d="M172.0 61.3V67.7" stroke="#7ea8e6" stroke-width="0.4"/>
<circle cx="171.99" cy="64.48" r="1.25" fill="#7ea8e6"/>
<circle cx="175.61" cy="72.91" r="1.25" fill="#7ea8e6"/>
<circle cx="179.23" cy="74.90" r="1.25" fill="#7ea8e6"/>
<circle cx="182.86" cy="73.92" r="1.25" fill="#7ea8e6"/>
<circle cx="186.48" cy="74.90" r="1.25" fill="#7ea8e6"/>
<circle cx="190.10" cy="73.28" r="1.25" fill="#7ea8e6"/>
<path d="M157.5 49.9V55.3" stroke="#f2a35e" stroke-width="0.4"/>
<circle cx="157.50" cy="52.63" r="1.25" fill="#f2a35e"/>
<path d="M161.1 47.4V53.8" stroke="#f2a35e" stroke-width="0.4"/>
<circle cx="161.12" cy="50.60" r="1.25" fill="#f2a35e"/>
<path d="M164.7 48.3V55.7" stroke="#f2a35e" stroke-width="0.4"/>
<circle cx="164.74" cy="51.96" r="1.25" fill="#f2a35e"/>
<path d="M168.4 51.2V55.6" stroke="#f2a35e" stroke-width="0.4"/>
<circle cx="168.37" cy="53.38" r="1.25" fill="#f2a35e"/>
<path d="M172.0 49.2V54.6" stroke="#f2a35e" stroke-width="0.4"/>
<circle cx="171.99" cy="51.87" r="1.25" fill="#f2a35e"/>
<path d="M175.6 53.2V59.6" stroke="#f2a35e" stroke-width="0.4"/>
<circle cx="175.61" cy="56.42" r="1.25" fill="#f2a35e"/>
<path d="M179.2 60.5V67.9" stroke="#f2a35e" stroke-width="0.4"/>
<circle cx="179.23" cy="64.22" r="1.25" fill="#f2a35e"/>
<circle cx="182.86" cy="72.78" r="1.25" fill="#f2a35e"/>
<circle cx="186.48" cy="74.90" r="1.25" fill="#f2a35e"/>
<circle cx="190.10" cy="73.92" r="1.25" fill="#f2a35e"/>
<path d="M157.5 46.9V54.3" stroke="#3fa7a0" stroke-width="0.4"/>
<path d="M157.50 49.32L158.70 51.52L156.30 51.52Z" fill="#3fa7a0"/>
<path d="M161.1 49.9V54.3" stroke="#3fa7a0" stroke-width="0.4"/>
<path d="M161.12 50.78L162.32 52.98L159.92 52.98Z" fill="#3fa7a0"/>
<path d="M164.7 48.2V53.6" stroke="#3fa7a0" stroke-width="0.4"/>
<path d="M164.74 49.57L165.94 51.77L163.54 51.77Z" fill="#3fa7a0"/>
<path d="M168.4 53.7V60.1" stroke="#3fa7a0" stroke-width="0.4"/>
<path d="M168.37 55.60L169.57 57.80L167.17 57.80Z" fill="#3fa7a0"/>
<path d="M172.0 62.3V69.7" stroke="#3fa7a0" stroke-width="0.4"/>
<path d="M171.99 64.67L173.19 66.87L170.79 66.87Z" fill="#3fa7a0"/>
<path d="M175.61 72.00L176.81 74.20L174.41 74.20Z" fill="#3fa7a0"/>
<path d="M179.23 73.60L180.43 75.80L178.03 75.80Z" fill="#3fa7a0"/>
<path d="M182.86 72.63L184.06 74.83L181.66 74.83Z" fill="#3fa7a0"/>
<path d="M186.48 73.60L187.68 75.80L185.28 75.80Z" fill="#3fa7a0"/>
<path d="M190.10 71.98L191.30 74.18L188.90 74.18Z" fill="#3fa7a0"/>
<path d="M157.5 48.9V53.3" stroke="#b5301e" stroke-width="0.4"/>
<circle cx="157.50" cy="51.07" r="1.25" fill="#b5301e"/>
<path d="M161.1 50.1V55.5" stroke="#b5301e" stroke-width="0.4"/>
<circle cx="161.12" cy="52.85" r="1.25" fill="#b5301e"/>
<path d="M164.7 50.4V56.8" stroke="#b5301e" stroke-width="0.4"/>
<circle cx="164.74" cy="53.56" r="1.25" fill="#b5301e"/>
<path d="M168.4 60.6V68.0" stroke="#b5301e" stroke-width="0.4"/>
<circle cx="168.37" cy="64.32" r="1.25" fill="#b5301e"/>
<circle cx="171.99" cy="73.72" r="1.25" fill="#b5301e"/>
<circle cx="175.61" cy="73.63" r="1.25" fill="#b5301e"/>
<circle cx="179.23" cy="74.90" r="1.25" fill="#b5301e"/>
<circle cx="182.86" cy="73.27" r="1.25" fill="#b5301e"/>
<circle cx="186.48" cy="74.63" r="1.25" fill="#b5301e"/>
<circle cx="190.10" cy="74.90" r="1.25" fill="#b5301e"/>
<path d="M157.5 46.6V53.0" stroke="#6e1a0c" stroke-width="0.4"/>
<circle cx="157.50" cy="49.79" r="1.25" fill="#6e1a0c"/>
<path d="M161.1 47.4V54.8" stroke="#6e1a0c" stroke-width="0.4"/>
<circle cx="161.12" cy="51.14" r="1.25" fill="#6e1a0c"/>
<path d="M164.7 50.3V54.7" stroke="#6e1a0c" stroke-width="0.4"/>
<circle cx="164.74" cy="52.50" r="1.25" fill="#6e1a0c"/>
<path d="M168.4 47.8V53.2" stroke="#6e1a0c" stroke-width="0.4"/>
<circle cx="168.37" cy="50.53" r="1.25" fill="#6e1a0c"/>
<path d="M172.0 49.1V55.5" stroke="#6e1a0c" stroke-width="0.4"/>
<circle cx="171.99" cy="52.28" r="1.25" fill="#6e1a0c"/>
<path d="M175.6 49.2V56.6" stroke="#6e1a0c" stroke-width="0.4"/>
<circle cx="175.61" cy="52.89" r="1.25" fill="#6e1a0c"/>
<path d="M179.2 61.4V65.8" stroke="#6e1a0c" stroke-width="0.4"/>
<circle cx="179.23" cy="63.65" r="1.25" fill="#6e1a0c"/>
<circle cx="182.86" cy="73.51" r="1.25" fill="#6e1a0c"/>
<circle cx="186.48" cy="73.59" r="1.25" fill="#6e1a0c"/>
<circle cx="190.10" cy="74.90" r="1.25" fill="#6e1a0c"/>
<path d="M157.5 50.3V54.7" stroke="#2f4f9f" stroke-width="0.4"/>
<circle cx="157.50" cy="52.50" r="1.25" fill="#2f4f9f"/>
<path d="M161.1 47.9V53.3" stroke="#2f4f9f" stroke-width="0.4"/>
<circle cx="161.12" cy="50.56" r="1.25" fill="#2f4f9f"/>
<path d="M164.7 49.3V55.7" stroke="#2f4f9f" stroke-width="0.4"/>
<circle cx="164.74" cy="52.52" r="1.25" fill="#2f4f9f"/>
<path d="M168.4 50.5V57.9" stroke="#2f4f9f" stroke-width="0.4"/>
<circle cx="168.37" cy="54.21" r="1.25" fill="#2f4f9f"/>
<path d="M172.0 63.8V68.2" stroke="#2f4f9f" stroke-width="0.4"/>
<circle cx="171.99" cy="66.03" r="1.25" fill="#2f4f9f"/>
<circle cx="175.61" cy="74.30" r="1.25" fill="#2f4f9f"/>
<circle cx="179.23" cy="73.72" r="1.25" fill="#2f4f9f"/>
<circle cx="182.86" cy="74.90" r="1.25" fill="#2f4f9f"/>
<circle cx="186.48" cy="73.28" r="1.25" fill="#2f4f9f"/>
<circle cx="190.10" cy="74.63" r="1.25" fill="#2f4f9f"/>
<circle cx="200.90" cy="34.40" r="1.00" fill="#2f4f9f"/>
<text x="205.40" y="36.10" font-size="4.8" font-weight="normal" fill="#2a2a2a" text-anchor="start" textLength="15.04" lengthAdjust="spacingAndGlyphs" stroke="#2a2a2a" stroke-width="0.12">Wildtype</text>
<path d="M200.90 38.66L201.86 40.42L199.94 40.42Z" fill="#3fa7a0"/>
<text x="205.40" y="41.40" font-size="4.8" font-weight="normal" fill="#2a2a2a" text-anchor="start" textLength="11.28" lengthAdjust="spacingAndGlyphs" stroke="#2a2a2a" stroke-width="0.12">S1986F</text>
<circle cx="200.90" cy="45.00" r="1.00" fill="#6e1a0c"/>
<text x="205.40" y="46.70" font-size="4.8" font-weight="normal" fill="#2a2a2a" text-anchor="start" textLength="11.28" lengthAdjust="spacingAndGlyphs" stroke="#2a2a2a" stroke-width="0.12">F2004C</text>
<circle cx="200.90" cy="50.30" r="1.00" fill="#f2a35e"/>
<text x="205.40" y="52.00" font-size="4.8" font-weight="normal" fill="#2a2a2a" text-anchor="start" textLength="11.28" lengthAdjust="spacingAndGlyphs" stroke="#2a2a2a" stroke-width="0.12">F2004V</text>
<circle cx="200.90" cy="55.60" r="1.00" fill="#b5301e"/>
<text x="205.40" y="57.30" font-size="4.8" font-weight="normal" fill="#2a2a2a" text-anchor="start" textLength="11.28" lengthAdjust="spacingAndGlyphs" stroke="#2a2a2a" stroke-width="0.12">L2026M</text>
<circle cx="200.90" cy="60.90" r="0.88" fill="#fff" stroke="#6f9080" stroke-width="0.55"/>
<text x="205.40" y="62.60" font-size="4.8" font-weight="normal" fill="#2a2a2a" text-anchor="start" textLength="11.28" lengthAdjust="spacingAndGlyphs" stroke="#2a2a2a" stroke-width="0.12">G2032R</text>
<circle cx="200.90" cy="66.20" r="1.00" fill="#7ea8e6"/>
<text x="205.40" y="67.90" font-size="4.8" font-weight="normal" fill="#2a2a2a" text-anchor="start" textLength="11.28" lengthAdjust="spacingAndGlyphs" stroke="#2a2a2a" stroke-width="0.12">D2033N</text>
<rect x="200.02" y="70.62" width="1.76" height="1.76" fill="#fff" stroke="#6b4eb3" stroke-width="0.55"/>
<text x="205.40" y="73.20" font-size="4.8" font-weight="normal" fill="#2a2a2a" text-anchor="start" textLength="11.28" lengthAdjust="spacingAndGlyphs" stroke="#2a2a2a" stroke-width="0.12">L2086F</text>
<text x="20.50" y="120.60" font-size="5.3" font-weight="bold" fill="#000" text-anchor="start" textLength="27" lengthAdjust="spacingAndGlyphs" stroke="#000" stroke-width="0.08">Cabozantinib</text>
<path d="M16.6 118.80000000000001 V160.3 H79.80000000000001" fill="none" stroke="#333" stroke-width="0.65"/>
<path d="M14.900000000000002 159.10H16.6" stroke="#111" stroke-width="0.55"/>
<text x="13.60" y="160.50" font-size="3.9" font-weight="normal" fill="#222" text-anchor="end" stroke="#222" stroke-width="0.15">0.0</text>
<path d="M14.900000000000002 145.60H16.6" stroke="#111" stroke-width="0.55"/>
<text x="13.60" y="147.00" font-size="3.9" font-weight="normal" fill="#222" text-anchor="end" stroke="#222" stroke-width="0.15">0.5</text>
<path d="M14.900000000000002 132.10H16.6" stroke="#111" stroke-width="0.55"/>
<text x="13.60" y="133.50" font-size="3.9" font-weight="normal" fill="#222" text-anchor="end" stroke="#222" stroke-width="0.15">1.0</text>
<path d="M14.900000000000002 118.60H16.6" stroke="#111" stroke-width="0.55"/>
<text x="13.60" y="120.00" font-size="3.9" font-weight="normal" fill="#222" text-anchor="end" stroke="#222" stroke-width="0.15">1.5</text>
<text transform="translate(4.60,137.80) rotate(-90)" font-size="4.6" font-weight="bold" text-anchor="middle" fill="#111" stroke="#111" stroke-width="0.1" textLength="35" lengthAdjust="spacingAndGlyphs">Surviving fraction</text>
<path d="M25.20 160.3V161.9" stroke="#111" stroke-width="0.55"/>
<text transform="translate(26.40,165.3) rotate(-45)" font-size="3.1" text-anchor="end" fill="#333" stroke="#333" stroke-width="0.1">0.01</text>
<path d="M43.10 160.3V161.9" stroke="#111" stroke-width="0.55"/>
<text transform="translate(44.30,165.3) rotate(-45)" font-size="3.1" text-anchor="end" fill="#333" stroke="#333" stroke-width="0.1">1</text>
<path d="M61.00 160.3V161.9" stroke="#111" stroke-width="0.55"/>
<text transform="translate(62.20,165.3) rotate(-45)" font-size="3.1" text-anchor="end" fill="#333" stroke="#333" stroke-width="0.1">100</text>
<path d="M78.90 160.3V161.9" stroke="#111" stroke-width="0.55"/>
<text transform="translate(80.10,165.3) rotate(-45)" font-size="3.1" text-anchor="end" fill="#333" stroke="#333" stroke-width="0.1">10000</text>
<text x="48.10" y="175.70" font-size="4.4" font-weight="bold" fill="#111" text-anchor="middle" textLength="44.5" lengthAdjust="spacingAndGlyphs" stroke="#111" stroke-width="0.08">Concentration (nmol/L)</text>
<path d="M41.7 134.3 L42.5 134.3 L43.3 134.3 L44.1 134.4 L44.9 134.5 L45.7 134.7 L46.5 135.0 L47.3 135.6 L48.1 136.6 L48.9 138.3 L49.7 140.9 L50.5 144.2 L51.3 148.0 L52.1 151.5 L52.9 154.2 L53.7 156.1 L54.5 157.3 L55.3 158.0 L56.1 158.4 L56.9 158.6 L57.7 158.7 L58.5 158.8 L59.3 158.8 L60.1 158.8 L60.9 158.8 L61.7 158.8 L62.5 158.8 L63.3 158.8 L64.1 158.8 L64.9 158.8 L65.7 158.8 L66.5 158.8 L67.3 158.8 L68.1 158.8 L68.9 158.8 L69.7 158.8 L70.5 158.8 L71.3 158.8 L72.1 158.8 L72.9 158.8 L73.7 158.8 L74.5 158.8 L74.5 158.8" fill="none" stroke="#2f4f9f" stroke-width="0.6"/>
<path d="M41.7 135.0 L42.5 135.1 L43.3 135.4 L44.1 135.9 L44.9 136.8 L45.7 138.3 L46.5 140.6 L47.3 143.7 L48.1 147.3 L48.9 150.8 L49.7 153.7 L50.5 155.8 L51.3 157.1 L52.1 157.8 L52.9 158.3 L53.7 158.5 L54.5 158.7 L55.3 158.7 L56.1 158.8 L56.9 158.8 L57.7 158.8 L58.5 158.8 L59.3 158.8 L60.1 158.8 L60.9 158.8 L61.7 158.8 L62.5 158.8 L63.3 158.8 L64.1 158.8 L64.9 158.8 L65.7 158.8 L66.5 158.8 L67.3 158.8 L68.1 158.8 L68.9 158.8 L69.7 158.8 L70.5 158.8 L71.3 158.8 L72.1 158.8 L72.9 158.8 L73.7 158.8 L74.5 158.8 L74.5 158.8" fill="none" stroke="#3fa7a0" stroke-width="0.6"/>
<path d="M41.7 130.8 L42.5 130.8 L43.3 130.8 L44.1 130.8 L44.9 130.8 L45.7 130.8 L46.5 130.8 L47.3 130.8 L48.1 130.8 L48.9 130.8 L49.7 130.8 L50.5 130.8 L51.3 130.8 L52.1 130.8 L52.9 130.8 L53.7 130.8 L54.5 130.8 L55.3 130.8 L56.1 130.9 L56.9 131.1 L57.7 131.3 L58.5 131.7 L59.3 132.3 L60.1 133.4 L60.9 135.1 L61.7 137.6 L62.5 140.6 L63.3 144.0 L64.1 147.3 L64.9 149.9 L65.7 151.7 L66.5 153.0 L67.3 153.7 L68.1 154.2 L68.9 154.4 L69.7 154.6 L70.5 154.7 L71.3 154.7 L72.1 154.7 L72.9 154.8 L73.7 154.8 L74.5 154.8 L74.5 154.8" fill="none" stroke="#6e1a0c" stroke-width="0.6"/>
<path d="M41.7 133.5 L42.5 133.5 L43.3 133.5 L44.1 133.5 L44.9 133.5 L45.7 133.5 L46.5 133.5 L47.3 133.5 L48.1 133.5 L48.9 133.5 L49.7 133.5 L50.5 133.5 L51.3 133.5 L52.1 133.5 L52.9 133.5 L53.7 133.5 L54.5 133.6 L55.3 133.7 L56.1 133.9 L56.9 134.3 L57.7 134.8 L58.5 135.8 L59.3 137.3 L60.1 139.5 L60.9 142.3 L61.7 145.5 L62.5 148.5 L63.3 151.0 L64.1 152.8 L64.9 154.0 L65.7 154.8 L66.5 155.2 L67.3 155.5 L68.1 155.7 L68.9 155.7 L69.7 155.8 L70.5 155.8 L71.3 155.8 L72.1 155.8 L72.9 155.9 L73.7 155.9 L74.5 155.9 L74.5 155.9" fill="none" stroke="#f2a35e" stroke-width="0.6"/>
<path d="M41.7 134.8 L42.5 134.9 L43.3 134.9 L44.1 135.1 L44.9 135.3 L45.7 135.6 L46.5 136.3 L47.3 137.5 L48.1 139.3 L48.9 142.0 L49.7 145.4 L50.5 149.1 L51.3 152.4 L52.1 154.8 L52.9 156.5 L53.7 157.5 L54.5 158.1 L55.3 158.4 L56.1 158.6 L56.9 158.7 L57.7 158.8 L58.5 158.8 L59.3 158.8 L60.1 158.8 L60.9 158.8 L61.7 158.8 L62.5 158.8 L63.3 158.8 L64.1 158.8 L64.9 158.8 L65.7 158.8 L66.5 158.8 L67.3 158.8 L68.1 158.8 L68.9 158.8 L69.7 158.8 L70.5 158.8 L71.3 158.8 L72.1 158.8 L72.9 158.8 L73.7 158.8 L74.5 158.8 L74.5 158.8" fill="none" stroke="#b5301e" stroke-width="0.6"/>
<path d="M41.7 135.3 L42.5 135.3 L43.3 135.3 L44.1 135.3 L44.9 135.3 L45.7 135.3 L46.5 135.3 L47.3 135.3 L48.1 135.4 L48.9 135.4 L49.7 135.4 L50.5 135.4 L51.3 135.5 L52.1 135.6 L52.9 135.9 L53.7 136.3 L54.5 137.1 L55.3 138.3 L56.1 140.1 L56.9 142.6 L57.7 145.5 L58.5 148.3 L59.3 150.5 L60.1 152.0 L60.9 153.0 L61.7 153.5 L62.5 153.8 L63.3 154.0 L64.1 154.1 L64.9 154.2 L65.7 154.2 L66.5 154.2 L67.3 154.2 L68.1 154.2 L68.9 154.2 L69.7 154.2 L70.5 154.2 L71.3 154.2 L72.1 154.2 L72.9 154.2 L73.7 154.2 L74.5 154.2 L74.5 154.2" fill="none" stroke="#6f9080" stroke-width="0.6"/>
<path d="M41.7 133.6 L42.5 133.7 L43.3 133.9 L44.1 134.3 L44.9 134.9 L45.7 136.1 L46.5 137.9 L47.3 140.7 L48.1 144.2 L48.9 148.1 L49.7 151.6 L50.5 154.3 L51.3 156.2 L52.1 157.3 L52.9 158.0 L53.7 158.4 L54.5 158.6 L55.3 158.7 L56.1 158.8 L56.9 158.8 L57.7 158.8 L58.5 158.8 L59.3 158.8 L60.1 158.8 L60.9 158.8 L61.7 158.8 L62.5 158.8 L63.3 158.8 L64.1 158.8 L64.9 158.8 L65.7 158.8 L66.5 158.8 L67.3 158.8 L68.1 158.8 L68.9 158.8 L69.7 158.8 L70.5 158.8 L71.3 158.8 L72.1 158.8 L72.9 158.8 L73.7 158.8 L74.5 158.8 L74.5 158.8" fill="none" stroke="#7ea8e6" stroke-width="0.6"/>
<path d="M41.7 138.8 L42.5 139.9 L43.3 141.7 L44.1 144.3 L44.9 147.7 L45.7 151.2 L46.5 154.1 L47.3 156.1 L48.1 157.3 L48.9 158.0 L49.7 158.4 L50.5 158.6 L51.3 158.7 L52.1 158.8 L52.9 158.8 L53.7 158.8 L54.5 158.8 L55.3 158.8 L56.1 158.8 L56.9 158.8 L57.7 158.8 L58.5 158.8 L59.3 158.8 L60.1 158.8 L60.9 158.8 L61.7 158.8 L62.5 158.8 L63.3 158.8 L64.1 158.8 L64.9 158.8 L65.7 158.8 L66.5 158.8 L67.3 158.8 L68.1 158.8 L68.9 158.8 L69.7 158.8 L70.5 158.8 L71.3 158.8 L72.1 158.8 L72.9 158.8 L73.7 158.8 L74.5 158.8 L74.5 158.8" fill="none" stroke="#6b4eb3" stroke-width="0.6"/>
<path d="M41.7 134.7V140.1" stroke="#6b4eb3" stroke-width="0.4"/>
<rect x="40.60" y="136.33" width="2.20" height="2.20" fill="#fff" stroke="#6b4eb3" stroke-width="0.55"/>
<path d="M45.3 146.5V152.9" stroke="#6b4eb3" stroke-width="0.4"/>
<rect x="44.24" y="148.59" width="2.20" height="2.20" fill="#fff" stroke="#6b4eb3" stroke-width="0.55"/>
<rect x="47.89" y="158.00" width="2.20" height="2.20" fill="#fff" stroke="#6b4eb3" stroke-width="0.55"/>
<rect x="51.53" y="157.02" width="2.20" height="2.20" fill="#fff" stroke="#6b4eb3" stroke-width="0.55"/>
<rect x="55.18" y="158.00" width="2.20" height="2.20" fill="#fff" stroke="#6b4eb3" stroke-width="0.55"/>
<rect x="58.82" y="156.38" width="2.20" height="2.20" fill="#fff" stroke="#6b4eb3" stroke-width="0.55"/>
<rect x="62.47" y="157.73" width="2.20" height="2.20" fill="#fff" stroke="#6b4eb3" stroke-width="0.55"/>
<rect x="66.11" y="158.00" width="2.20" height="2.20" fill="#fff" stroke="#6b4eb3" stroke-width="0.55"/>
<rect x="69.76" y="157.05" width="2.20" height="2.20" fill="#fff" stroke="#6b4eb3" stroke-width="0.55"/>
<rect x="73.40" y="158.00" width="2.20" height="2.20" fill="#fff" stroke="#6b4eb3" stroke-width="0.55"/>
<path d="M41.7 133.0V140.4" stroke="#6f9080" stroke-width="0.4"/>
<circle cx="41.70" cy="136.69" r="1.10" fill="#fff" stroke="#6f9080" stroke-width="0.55"/>
<path d="M45.3 132.5V136.9" stroke="#6f9080" stroke-width="0.4"/>
<circle cx="45.34" cy="134.67" r="1.10" fill="#fff" stroke="#6f9080" stroke-width="0.55"/>
<path d="M49.0 133.3V138.7" stroke="#6f9080" stroke-width="0.4"/>
<circle cx="48.99" cy="136.04" r="1.10" fill="#fff" stroke="#6f9080" stroke-width="0.55"/>
<path d="M52.6 131.2V137.6" stroke="#6f9080" stroke-width="0.4"/>
<circle cx="52.63" cy="134.43" r="1.10" fill="#fff" stroke="#6f9080" stroke-width="0.55"/>
<path d="M56.3 136.9V144.3" stroke="#6f9080" stroke-width="0.4"/>
<circle cx="56.28" cy="140.65" r="1.10" fill="#fff" stroke="#6f9080" stroke-width="0.55"/>
<path d="M59.9 150.9V155.3" stroke="#6f9080" stroke-width="0.4"/>
<circle cx="59.92" cy="153.05" r="1.10" fill="#fff" stroke="#6f9080" stroke-width="0.55"/>
<circle cx="63.57" cy="153.39" r="1.10" fill="#fff" stroke="#6f9080" stroke-width="0.55"/>
<circle cx="67.21" cy="154.90" r="1.10" fill="#fff" stroke="#6f9080" stroke-width="0.55"/>
<circle cx="70.86" cy="152.89" r="1.10" fill="#fff" stroke="#6f9080" stroke-width="0.55"/>
<circle cx="74.50" cy="154.24" r="1.10" fill="#fff" stroke="#6f9080" stroke-width="0.55"/>
<path d="M41.7 130.4V136.8" stroke="#7ea8e6" stroke-width="0.4"/>
<circle cx="41.70" cy="133.59" r="1.25" fill="#7ea8e6"/>
<path d="M45.3 133.2V140.6" stroke="#7ea8e6" stroke-width="0.4"/>
<circle cx="45.34" cy="136.86" r="1.25" fill="#7ea8e6"/>
<path d="M49.0 145.6V150.0" stroke="#7ea8e6" stroke-width="0.4"/>
<circle cx="48.99" cy="147.82" r="1.25" fill="#7ea8e6"/>
<circle cx="52.63" cy="158.49" r="1.25" fill="#7ea8e6"/>
<circle cx="56.28" cy="157.42" r="1.25" fill="#7ea8e6"/>
<circle cx="59.92" cy="158.83" r="1.25" fill="#7ea8e6"/>
<circle cx="63.57" cy="159.10" r="1.25" fill="#7ea8e6"/>
<circle cx="67.21" cy="158.15" r="1.25" fill="#7ea8e6"/>
<circle cx="70.86" cy="159.10" r="1.25" fill="#7ea8e6"/>
<circle cx="74.50" cy="157.48" r="1.25" fill="#7ea8e6"/>
<path d="M41.7 131.4V136.8" stroke="#f2a35e" stroke-width="0.4"/>
<circle cx="41.70" cy="134.13" r="1.25" fill="#f2a35e"/>
<path d="M45.3 128.9V135.3" stroke="#f2a35e" stroke-width="0.4"/>
<circle cx="45.34" cy="132.10" r="1.25" fill="#f2a35e"/>
<path d="M49.0 129.8V137.2" stroke="#f2a35e" stroke-width="0.4"/>
<circle cx="48.99" cy="133.45" r="1.25" fill="#f2a35e"/>
<path d="M52.6 132.6V137.0" stroke="#f2a35e" stroke-width="0.4"/>
<circle cx="52.63" cy="134.84" r="1.25" fill="#f2a35e"/>
<path d="M56.3 130.6V136.0" stroke="#f2a35e" stroke-width="0.4"/>
<circle cx="56.28" cy="133.30" r="1.25" fill="#f2a35e"/>
<path d="M59.9 136.4V142.8" stroke="#f2a35e" stroke-width="0.4"/>
<circle cx="59.92" cy="139.61" r="1.25" fill="#f2a35e"/>
<path d="M63.6 146.6V154.0" stroke="#f2a35e" stroke-width="0.4"/>
<circle cx="63.57" cy="150.34" r="1.25" fill="#f2a35e"/>
<circle cx="67.21" cy="155.49" r="1.25" fill="#f2a35e"/>
<circle cx="70.86" cy="157.18" r="1.25" fill="#f2a35e"/>
<circle cx="74.50" cy="155.18" r="1.25" fill="#f2a35e"/>
<path d="M41.7 131.3V138.7" stroke="#3fa7a0" stroke-width="0.4"/>
<path d="M41.70 133.69L42.90 135.89L40.50 135.89Z" fill="#3fa7a0"/>
<path d="M45.3 136.7V141.1" stroke="#3fa7a0" stroke-width="0.4"/>
<path d="M45.34 137.61L46.54 139.81L44.14 139.81Z" fill="#3fa7a0"/>
<path d="M49.0 147.8V153.2" stroke="#3fa7a0" stroke-width="0.4"/>
<path d="M48.99 149.20L50.19 151.40L47.79 151.40Z" fill="#3fa7a0"/>
<path d="M52.63 157.54L53.83 159.74L51.43 159.74Z" fill="#3fa7a0"/>
<path d="M56.28 156.14L57.48 158.34L55.08 158.34Z" fill="#3fa7a0"/>
<path d="M59.92 157.53L61.12 159.73L58.72 159.73Z" fill="#3fa7a0"/>
<path d="M63.57 157.80L64.77 160.00L62.37 160.00Z" fill="#3fa7a0"/>
<path d="M67.21 156.85L68.41 159.05L66.01 159.05Z" fill="#3fa7a0"/>
<path d="M70.86 157.80L72.06 160.00L69.66 160.00Z" fill="#3fa7a0"/>
<path d="M74.50 156.18L75.70 158.38L73.30 158.38Z" fill="#3fa7a0"/>
<path d="M41.7 132.0V136.4" stroke="#b5301e" stroke-width="0.4"/>
<circle cx="41.70" cy="134.17" r="1.25" fill="#b5301e"/>
<path d="M45.3 133.4V138.8" stroke="#b5301e" stroke-width="0.4"/>
<circle cx="45.34" cy="136.13" r="1.25" fill="#b5301e"/>
<path d="M49.0 137.8V144.2" stroke="#b5301e" stroke-width="0.4"/>
<circle cx="48.99" cy="141.01" r="1.25" fill="#b5301e"/>
<circle cx="52.63" cy="156.03" r="1.25" fill="#b5301e"/>
<circle cx="56.28" cy="159.10" r="1.25" fill="#b5301e"/>
<circle cx="59.92" cy="158.14" r="1.25" fill="#b5301e"/>
<circle cx="63.57" cy="159.10" r="1.25" fill="#b5301e"/>
<circle cx="67.21" cy="157.48" r="1.25" fill="#b5301e"/>
<circle cx="70.86" cy="158.83" r="1.25" fill="#b5301e"/>
<circle cx="74.50" cy="159.10" r="1.25" fill="#b5301e"/>
<path d="M41.7 126.2V132.6" stroke="#6e1a0c" stroke-width="0.4"/>
<circle cx="41.70" cy="129.40" r="1.25" fill="#6e1a0c"/>
<path d="M45.3 127.1V134.5" stroke="#6e1a0c" stroke-width="0.4"/>
<circle cx="45.34" cy="130.75" r="1.25" fill="#6e1a0c"/>
<path d="M49.0 129.9V134.3" stroke="#6e1a0c" stroke-width="0.4"/>
<circle cx="48.99" cy="132.10" r="1.25" fill="#6e1a0c"/>
<path d="M52.6 127.4V132.8" stroke="#6e1a0c" stroke-width="0.4"/>
<circle cx="52.63" cy="130.09" r="1.25" fill="#6e1a0c"/>
<path d="M56.3 128.4V134.8" stroke="#6e1a0c" stroke-width="0.4"/>
<circle cx="56.28" cy="131.62" r="1.25" fill="#6e1a0c"/>
<path d="M59.9 128.1V135.5" stroke="#6e1a0c" stroke-width="0.4"/>
<circle cx="59.92" cy="131.80" r="1.25" fill="#6e1a0c"/>
<path d="M63.6 143.0V147.4" stroke="#6e1a0c" stroke-width="0.4"/>
<circle cx="63.57" cy="145.16" r="1.25" fill="#6e1a0c"/>
<circle cx="67.21" cy="155.00" r="1.25" fill="#6e1a0c"/>
<circle cx="70.86" cy="154.02" r="1.25" fill="#6e1a0c"/>
<circle cx="74.50" cy="155.45" r="1.25" fill="#6e1a0c"/>
<path d="M41.7 133.4V137.8" stroke="#2f4f9f" stroke-width="0.4"/>
<circle cx="41.70" cy="135.63" r="1.25" fill="#2f4f9f"/>
<path d="M45.3 131.2V136.6" stroke="#2f4f9f" stroke-width="0.4"/>
<circle cx="45.34" cy="133.90" r="1.25" fill="#2f4f9f"/>
<path d="M49.0 136.0V142.4" stroke="#2f4f9f" stroke-width="0.4"/>
<circle cx="48.99" cy="139.25" r="1.25" fill="#2f4f9f"/>
<circle cx="52.63" cy="152.04" r="1.25" fill="#2f4f9f"/>
<circle cx="56.28" cy="158.41" r="1.25" fill="#2f4f9f"/>
<circle cx="59.92" cy="159.10" r="1.25" fill="#2f4f9f"/>
<circle cx="63.57" cy="158.15" r="1.25" fill="#2f4f9f"/>
<circle cx="67.21" cy="159.10" r="1.25" fill="#2f4f9f"/>
<circle cx="70.86" cy="157.48" r="1.25" fill="#2f4f9f"/>
<circle cx="74.50" cy="158.83" r="1.25" fill="#2f4f9f"/>
<circle cx="85.40" cy="118.50" r="1.00" fill="#2f4f9f"/>
<text x="90.20" y="120.20" font-size="4.8" font-weight="normal" fill="#2a2a2a" text-anchor="start" textLength="15.04" lengthAdjust="spacingAndGlyphs" stroke="#2a2a2a" stroke-width="0.12">Wildtype</text>
<path d="M85.40 122.76L86.36 124.52L84.44 124.52Z" fill="#3fa7a0"/>
<text x="90.20" y="125.50" font-size="4.8" font-weight="normal" fill="#2a2a2a" text-anchor="start" textLength="11.28" lengthAdjust="spacingAndGlyphs" stroke="#2a2a2a" stroke-width="0.12">S1986F</text>
<circle cx="85.40" cy="129.10" r="1.00" fill="#6e1a0c"/>
<text x="90.20" y="130.80" font-size="4.8" font-weight="normal" fill="#2a2a2a" text-anchor="start" textLength="11.28" lengthAdjust="spacingAndGlyphs" stroke="#2a2a2a" stroke-width="0.12">F2004C</text>
<circle cx="85.40" cy="134.40" r="1.00" fill="#f2a35e"/>
<text x="90.20" y="136.10" font-size="4.8" font-weight="normal" fill="#2a2a2a" text-anchor="start" textLength="11.28" lengthAdjust="spacingAndGlyphs" stroke="#2a2a2a" stroke-width="0.12">F2004V</text>
<circle cx="85.40" cy="139.70" r="1.00" fill="#b5301e"/>
<text x="90.20" y="141.40" font-size="4.8" font-weight="normal" fill="#2a2a2a" text-anchor="start" textLength="11.28" lengthAdjust="spacingAndGlyphs" stroke="#2a2a2a" stroke-width="0.12">L2026M</text>
<circle cx="85.40" cy="145.00" r="0.88" fill="#fff" stroke="#6f9080" stroke-width="0.55"/>
<text x="90.20" y="146.70" font-size="4.8" font-weight="normal" fill="#2a2a2a" text-anchor="start" textLength="11.28" lengthAdjust="spacingAndGlyphs" stroke="#2a2a2a" stroke-width="0.12">G2032R</text>
<circle cx="85.40" cy="150.30" r="1.00" fill="#7ea8e6"/>
<text x="90.20" y="152.00" font-size="4.8" font-weight="normal" fill="#2a2a2a" text-anchor="start" textLength="11.28" lengthAdjust="spacingAndGlyphs" stroke="#2a2a2a" stroke-width="0.12">D2033N</text>
<rect x="84.52" y="154.72" width="1.76" height="1.76" fill="#fff" stroke="#6b4eb3" stroke-width="0.55"/>
<text x="90.20" y="157.30" font-size="4.8" font-weight="normal" fill="#2a2a2a" text-anchor="start" textLength="11.28" lengthAdjust="spacingAndGlyphs" stroke="#2a2a2a" stroke-width="0.12">L2086F</text>
<text x="135.40" y="121.50" font-size="5.3" font-weight="bold" fill="#000" text-anchor="start" textLength="20.4" lengthAdjust="spacingAndGlyphs" stroke="#000" stroke-width="0.08">Foretinib</text>
<path d="M132.4 118.80000000000001 V160.3 H195.60000000000002" fill="none" stroke="#333" stroke-width="0.65"/>
<path d="M130.70000000000002 159.10H132.4" stroke="#111" stroke-width="0.55"/>
<text x="129.40" y="160.50" font-size="3.9" font-weight="normal" fill="#222" text-anchor="end" stroke="#222" stroke-width="0.15">0.0</text>
<path d="M130.70000000000002 145.60H132.4" stroke="#111" stroke-width="0.55"/>
<text x="129.40" y="147.00" font-size="3.9" font-weight="normal" fill="#222" text-anchor="end" stroke="#222" stroke-width="0.15">0.5</text>
<path d="M130.70000000000002 132.10H132.4" stroke="#111" stroke-width="0.55"/>
<text x="129.40" y="133.50" font-size="3.9" font-weight="normal" fill="#222" text-anchor="end" stroke="#222" stroke-width="0.15">1.0</text>
<path d="M130.70000000000002 118.60H132.4" stroke="#111" stroke-width="0.55"/>
<text x="129.40" y="120.00" font-size="3.9" font-weight="normal" fill="#222" text-anchor="end" stroke="#222" stroke-width="0.15">1.5</text>
<text transform="translate(120.40,137.80) rotate(-90)" font-size="4.6" font-weight="bold" text-anchor="middle" fill="#111" stroke="#111" stroke-width="0.1" textLength="35" lengthAdjust="spacingAndGlyphs">Surviving fraction</text>
<path d="M141.00 160.3V161.9" stroke="#111" stroke-width="0.55"/>
<text transform="translate(142.20,165.3) rotate(-45)" font-size="3.1" text-anchor="end" fill="#333" stroke="#333" stroke-width="0.1">0.01</text>
<path d="M158.90 160.3V161.9" stroke="#111" stroke-width="0.55"/>
<text transform="translate(160.10,165.3) rotate(-45)" font-size="3.1" text-anchor="end" fill="#333" stroke="#333" stroke-width="0.1">1</text>
<path d="M176.80 160.3V161.9" stroke="#111" stroke-width="0.55"/>
<text transform="translate(178.00,165.3) rotate(-45)" font-size="3.1" text-anchor="end" fill="#333" stroke="#333" stroke-width="0.1">100</text>
<path d="M194.70 160.3V161.9" stroke="#111" stroke-width="0.55"/>
<text transform="translate(195.90,165.3) rotate(-45)" font-size="3.1" text-anchor="end" fill="#333" stroke="#333" stroke-width="0.1">10000</text>
<text x="163.90" y="175.70" font-size="4.4" font-weight="bold" fill="#111" text-anchor="middle" textLength="44.5" lengthAdjust="spacingAndGlyphs" stroke="#111" stroke-width="0.08">Concentration (nmol/L)</text>
<path d="M139.5 134.8 L140.3 134.8 L141.1 134.8 L141.9 134.8 L142.7 134.8 L143.5 134.8 L144.3 134.8 L145.1 134.8 L145.9 134.8 L146.7 134.8 L147.5 134.8 L148.3 134.8 L149.1 134.8 L149.9 134.9 L150.7 134.9 L151.5 135.0 L152.3 135.2 L153.1 135.6 L153.9 136.2 L154.7 137.3 L155.5 139.0 L156.3 141.6 L157.1 145.0 L157.9 148.6 L158.7 152.0 L159.5 154.6 L160.3 156.3 L161.1 157.4 L161.9 158.0 L162.7 158.4 L163.5 158.6 L164.3 158.7 L165.1 158.8 L165.9 158.8 L166.7 158.8 L167.5 158.8 L168.3 158.8 L169.1 158.8 L169.9 158.8 L170.7 158.8 L171.5 158.8 L172.3 158.8 L173.1 158.8 L173.9 158.8 L174.7 158.8 L175.5 158.8 L176.3 158.8 L177.0 158.8" fill="none" stroke="#2f4f9f" stroke-width="0.6"/>
<path d="M139.5 135.3 L140.3 135.3 L141.1 135.3 L141.9 135.3 L142.7 135.3 L143.5 135.3 L144.3 135.3 L145.1 135.3 L145.9 135.3 L146.7 135.3 L147.5 135.3 L148.3 135.3 L149.1 135.3 L149.9 135.3 L150.7 135.3 L151.5 135.4 L152.3 135.4 L153.1 135.4 L153.9 135.4 L154.7 135.5 L155.5 135.7 L156.3 136.0 L157.1 136.5 L157.9 137.3 L158.7 138.8 L159.5 141.0 L160.3 144.0 L161.1 147.5 L161.9 151.0 L162.7 153.8 L163.5 155.8 L164.3 157.1 L165.1 157.9 L165.9 158.3 L166.7 158.5 L167.5 158.7 L168.3 158.7 L169.1 158.8 L169.9 158.8 L170.7 158.8 L171.5 158.8 L172.3 158.8 L173.1 158.8 L173.9 158.8 L174.7 158.8 L175.5 158.8 L176.3 158.8 L177.0 158.8" fill="none" stroke="#3fa7a0" stroke-width="0.6"/>
<path d="M139.5 134.3 L140.3 134.3 L141.1 134.3 L141.9 134.3 L142.7 134.3 L143.5 134.3 L144.3 134.3 L145.1 134.3 L145.9 134.3 L146.7 134.3 L147.5 134.3 L148.3 134.3 L149.1 134.3 L149.9 134.3 L150.7 134.3 L151.5 134.3 L152.3 134.3 L153.1 134.3 L153.9 134.3 L154.7 134.3 L155.5 134.3 L156.3 134.3 L157.1 134.3 L157.9 134.3 L158.7 134.3 L159.5 134.3 L160.3 134.3 L161.1 134.3 L161.9 134.3 L162.7 134.4 L163.5 134.5 L164.3 134.7 L165.1 135.0 L165.9 135.5 L166.7 136.3 L167.5 137.7 L168.3 139.7 L169.1 142.4 L169.9 145.7 L170.7 149.0 L171.5 152.0 L172.3 154.2 L173.1 155.7 L173.9 156.6 L174.7 157.2 L175.5 157.6 L176.3 157.8 L177.0 157.9" fill="none" stroke="#6e1a0c" stroke-width="0.6"/>
<path d="M139.5 135.9 L140.3 135.9 L141.1 135.9 L141.9 135.9 L142.7 135.9 L143.5 135.9 L144.3 135.9 L145.1 135.9 L145.9 135.9 L146.7 135.9 L147.5 135.9 L148.3 135.9 L149.1 135.9 L149.9 135.9 L150.7 135.9 L151.5 135.9 L152.3 135.9 L153.1 135.9 L153.9 135.9 L154.7 135.9 L155.5 135.9 L156.3 135.9 L157.1 135.9 L157.9 135.9 L158.7 135.9 L159.5 135.9 L160.3 135.9 L161.1 135.9 L161.9 136.0 L162.7 136.1 L163.5 136.2 L164.3 136.4 L165.1 136.8 L165.9 137.5 L166.7 138.6 L167.5 140.2 L168.3 142.6 L169.1 145.5 L169.9 148.7 L170.7 151.6 L171.5 154.0 L172.3 155.6 L173.1 156.7 L173.9 157.4 L174.7 157.8 L175.5 158.0 L176.3 158.1 L177.0 158.2" fill="none" stroke="#f2a35e" stroke-width="0.6"/>
<path d="M139.5 135.3 L140.3 135.3 L141.1 135.3 L141.9 135.3 L142.7 135.3 L143.5 135.3 L144.3 135.3 L145.1 135.3 L145.9 135.3 L146.7 135.3 L147.5 135.4 L148.3 135.4 L149.1 135.4 L149.9 135.4 L150.7 135.5 L151.5 135.6 L152.3 135.8 L153.1 136.1 L153.9 136.7 L154.7 137.8 L155.5 139.5 L156.3 142.0 L157.1 145.3 L157.9 148.9 L158.7 152.2 L159.5 154.7 L160.3 156.4 L161.1 157.4 L161.9 158.1 L162.7 158.4 L163.5 158.6 L164.3 158.7 L165.1 158.8 L165.9 158.8 L166.7 158.8 L167.5 158.8 L168.3 158.8 L169.1 158.8 L169.9 158.8 L170.7 158.8 L171.5 158.8 L172.3 158.8 L173.1 158.8 L173.9 158.8 L174.7 158.8 L175.5 158.8 L176.3 158.8 L177.0 158.8" fill="none" stroke="#b5301e" stroke-width="0.6"/>
<path d="M139.5 135.9 L140.3 135.9 L141.1 135.9 L141.9 135.9 L142.7 135.9 L143.5 135.9 L144.3 135.9 L145.1 135.9 L145.9 135.9 L146.7 135.9 L147.5 135.9 L148.3 135.9 L149.1 135.9 L149.9 135.9 L150.7 135.9 L151.5 135.9 L152.3 135.9 L153.1 135.9 L153.9 135.9 L154.7 135.9 L155.5 135.9 L156.3 135.9 L157.1 135.9 L157.9 135.9 L158.7 135.9 L159.5 135.9 L160.3 135.9 L161.1 135.9 L161.9 136.0 L162.7 136.1 L163.5 136.2 L164.3 136.5 L165.1 136.9 L165.9 137.7 L166.7 138.8 L167.5 140.5 L168.3 142.7 L169.1 145.2 L169.9 147.7 L170.7 149.8 L171.5 151.4 L172.3 152.4 L173.1 153.1 L173.9 153.4 L174.7 153.7 L175.5 153.8 L176.3 153.9 L177.0 153.9" fill="none" stroke="#6f9080" stroke-width="0.6"/>
<path d="M139.5 134.8 L140.3 134.8 L141.1 134.8 L141.9 134.8 L142.7 134.8 L143.5 134.8 L144.3 134.8 L145.1 134.8 L145.9 134.8 L146.7 134.8 L147.5 134.8 L148.3 134.8 L149.1 134.8 L149.9 134.8 L150.7 134.8 L151.5 134.8 L152.3 134.8 L153.1 134.8 L153.9 134.9 L154.7 134.9 L155.5 135.0 L156.3 135.2 L157.1 135.6 L157.9 136.2 L158.7 137.3 L159.5 139.0 L160.3 141.6 L161.1 145.0 L161.9 148.6 L162.7 152.0 L163.5 154.6 L164.3 156.3 L165.1 157.4 L165.9 158.0 L166.7 158.4 L167.5 158.6 L168.3 158.7 L169.1 158.8 L169.9 158.8 L170.7 158.8 L171.5 158.8 L172.3 158.8 L173.1 158.8 L173.9 158.8 L174.7 158.8 L175.5 158.8 L176.3 158.8 L177.0 158.8" fill="none" stroke="#7ea8e6" stroke-width="0.6"/>
<path d="M139.5 135.9 L140.3 135.9 L141.1 135.9 L141.9 135.9 L142.7 135.9 L143.5 135.9 L144.3 135.9 L145.1 135.9 L145.9 135.9 L146.7 135.9 L147.5 135.9 L148.3 135.9 L149.1 135.9 L149.9 135.9 L150.7 136.0 L151.5 136.1 L152.3 136.3 L153.1 136.6 L153.9 137.2 L154.7 138.3 L155.5 139.9 L156.3 142.4 L157.1 145.6 L157.9 149.1 L158.7 152.3 L159.5 154.8 L160.3 156.4 L161.1 157.5 L161.9 158.1 L162.7 158.4 L163.5 158.6 L164.3 158.7 L165.1 158.8 L165.9 158.8 L166.7 158.8 L167.5 158.8 L168.3 158.8 L169.1 158.8 L169.9 158.8 L170.7 158.8 L171.5 158.8 L172.3 158.8 L173.1 158.8 L173.9 158.8 L174.7 158.8 L175.5 158.8 L176.3 158.8 L177.0 158.8" fill="none" stroke="#6b4eb3" stroke-width="0.6"/>
<path d="M139.5 131.8V137.2" stroke="#6b4eb3" stroke-width="0.4"/>
<rect x="138.40" y="133.43" width="2.20" height="2.20" fill="#fff" stroke="#6b4eb3" stroke-width="0.55"/>
<path d="M144.2 132.7V139.1" stroke="#6b4eb3" stroke-width="0.4"/>
<rect x="143.09" y="134.78" width="2.20" height="2.20" fill="#fff" stroke="#6b4eb3" stroke-width="0.55"/>
<path d="M148.9 133.6V141.0" stroke="#6b4eb3" stroke-width="0.4"/>
<rect x="147.78" y="136.16" width="2.20" height="2.20" fill="#fff" stroke="#6b4eb3" stroke-width="0.55"/>
<path d="M153.6 134.1V138.5" stroke="#6b4eb3" stroke-width="0.4"/>
<rect x="152.46" y="135.16" width="2.20" height="2.20" fill="#fff" stroke="#6b4eb3" stroke-width="0.55"/>
<path d="M158.2 148.6V154.0" stroke="#6b4eb3" stroke-width="0.4"/>
<rect x="157.15" y="150.15" width="2.20" height="2.20" fill="#fff" stroke="#6b4eb3" stroke-width="0.55"/>
<rect x="161.84" y="156.04" width="2.20" height="2.20" fill="#fff" stroke="#6b4eb3" stroke-width="0.55"/>
<rect x="166.53" y="157.72" width="2.20" height="2.20" fill="#fff" stroke="#6b4eb3" stroke-width="0.55"/>
<rect x="171.21" y="158.00" width="2.20" height="2.20" fill="#fff" stroke="#6b4eb3" stroke-width="0.55"/>
<rect x="175.90" y="157.05" width="2.20" height="2.20" fill="#fff" stroke="#6b4eb3" stroke-width="0.55"/>
<path d="M139.5 133.5V140.9" stroke="#6f9080" stroke-width="0.4"/>
<circle cx="139.50" cy="137.23" r="1.10" fill="#fff" stroke="#6f9080" stroke-width="0.55"/>
<path d="M144.2 133.0V137.4" stroke="#6f9080" stroke-width="0.4"/>
<circle cx="144.19" cy="135.21" r="1.10" fill="#fff" stroke="#6f9080" stroke-width="0.55"/>
<path d="M148.9 133.9V139.3" stroke="#6f9080" stroke-width="0.4"/>
<circle cx="148.88" cy="136.56" r="1.10" fill="#fff" stroke="#6f9080" stroke-width="0.55"/>
<path d="M153.6 131.3V137.7" stroke="#6f9080" stroke-width="0.4"/>
<circle cx="153.56" cy="134.53" r="1.10" fill="#fff" stroke="#6f9080" stroke-width="0.55"/>
<path d="M158.2 132.2V139.6" stroke="#6f9080" stroke-width="0.4"/>
<circle cx="158.25" cy="135.89" r="1.10" fill="#fff" stroke="#6f9080" stroke-width="0.55"/>
<path d="M162.9 135.3V139.7" stroke="#6f9080" stroke-width="0.4"/>
<circle cx="162.94" cy="137.47" r="1.10" fill="#fff" stroke="#6f9080" stroke-width="0.55"/>
<path d="M167.6 137.4V142.8" stroke="#6f9080" stroke-width="0.4"/>
<circle cx="167.62" cy="140.13" r="1.10" fill="#fff" stroke="#6f9080" stroke-width="0.55"/>
<circle cx="172.31" cy="153.09" r="1.10" fill="#fff" stroke="#6f9080" stroke-width="0.55"/>
<circle cx="177.00" cy="152.56" r="1.10" fill="#fff" stroke="#6f9080" stroke-width="0.55"/>
<path d="M139.5 131.6V138.0" stroke="#7ea8e6" stroke-width="0.4"/>
<circle cx="139.50" cy="134.80" r="1.25" fill="#7ea8e6"/>
<path d="M144.2 132.5V139.9" stroke="#7ea8e6" stroke-width="0.4"/>
<circle cx="144.19" cy="136.15" r="1.25" fill="#7ea8e6"/>
<path d="M148.9 131.9V136.3" stroke="#7ea8e6" stroke-width="0.4"/>
<circle cx="148.88" cy="134.13" r="1.25" fill="#7ea8e6"/>
<path d="M153.6 132.8V138.2" stroke="#7ea8e6" stroke-width="0.4"/>
<circle cx="153.56" cy="135.53" r="1.25" fill="#7ea8e6"/>
<path d="M158.2 132.1V138.5" stroke="#7ea8e6" stroke-width="0.4"/>
<circle cx="158.25" cy="135.27" r="1.25" fill="#7ea8e6"/>
<circle cx="162.94" cy="152.85" r="1.25" fill="#7ea8e6"/>
<circle cx="167.62" cy="159.10" r="1.25" fill="#7ea8e6"/>
<circle cx="172.31" cy="158.15" r="1.25" fill="#7ea8e6"/>
<circle cx="177.00" cy="159.10" r="1.25" fill="#7ea8e6"/>
<path d="M139.5 133.9V139.3" stroke="#f2a35e" stroke-width="0.4"/>
<circle cx="139.50" cy="136.56" r="1.25" fill="#f2a35e"/>
<path d="M144.2 131.3V137.7" stroke="#f2a35e" stroke-width="0.4"/>
<circle cx="144.19" cy="134.53" r="1.25" fill="#f2a35e"/>
<path d="M148.9 132.2V139.6" stroke="#f2a35e" stroke-width="0.4"/>
<circle cx="148.88" cy="135.88" r="1.25" fill="#f2a35e"/>
<path d="M153.6 135.0V139.4" stroke="#f2a35e" stroke-width="0.4"/>
<circle cx="153.56" cy="137.23" r="1.25" fill="#f2a35e"/>
<path d="M158.2 132.5V137.9" stroke="#f2a35e" stroke-width="0.4"/>
<circle cx="158.25" cy="135.21" r="1.25" fill="#f2a35e"/>
<path d="M162.9 133.6V140.0" stroke="#f2a35e" stroke-width="0.4"/>
<circle cx="162.94" cy="136.76" r="1.25" fill="#f2a35e"/>
<path d="M167.6 135.5V142.9" stroke="#f2a35e" stroke-width="0.4"/>
<circle cx="167.62" cy="139.18" r="1.25" fill="#f2a35e"/>
<circle cx="172.31" cy="155.64" r="1.25" fill="#f2a35e"/>
<circle cx="177.00" cy="159.10" r="1.25" fill="#f2a35e"/>
<path d="M139.5 131.6V139.0" stroke="#3fa7a0" stroke-width="0.4"/>
<path d="M139.50 134.04L140.70 136.24L138.30 136.24Z" fill="#3fa7a0"/>
<path d="M144.2 134.5V138.9" stroke="#3fa7a0" stroke-width="0.4"/>
<path d="M144.19 135.39L145.39 137.59L142.99 137.59Z" fill="#3fa7a0"/>
<path d="M148.9 132.0V137.4" stroke="#3fa7a0" stroke-width="0.4"/>
<path d="M148.88 133.37L150.07 135.57L147.68 135.57Z" fill="#3fa7a0"/>
<path d="M153.6 132.9V139.3" stroke="#3fa7a0" stroke-width="0.4"/>
<path d="M153.56 134.79L154.76 136.99L152.36 136.99Z" fill="#3fa7a0"/>
<path d="M158.2 132.8V140.2" stroke="#3fa7a0" stroke-width="0.4"/>
<path d="M158.25 135.22L159.45 137.42L157.05 137.42Z" fill="#3fa7a0"/>
<path d="M162.94 153.21L164.14 155.41L161.74 155.41Z" fill="#3fa7a0"/>
<path d="M167.62 157.80L168.82 160.00L166.43 160.00Z" fill="#3fa7a0"/>
<path d="M172.31 156.85L173.51 159.05L171.11 159.05Z" fill="#3fa7a0"/>
<path d="M177.00 157.80L178.20 160.00L175.80 160.00Z" fill="#3fa7a0"/>
<path d="M139.5 132.5V136.9" stroke="#b5301e" stroke-width="0.4"/>
<circle cx="139.50" cy="134.67" r="1.25" fill="#b5301e"/>
<path d="M144.2 133.3V138.7" stroke="#b5301e" stroke-width="0.4"/>
<circle cx="144.19" cy="136.02" r="1.25" fill="#b5301e"/>
<path d="M148.9 130.8V137.2" stroke="#b5301e" stroke-width="0.4"/>
<circle cx="148.88" cy="134.02" r="1.25" fill="#b5301e"/>
<path d="M153.6 132.7V140.1" stroke="#b5301e" stroke-width="0.4"/>
<circle cx="153.56" cy="136.42" r="1.25" fill="#b5301e"/>
<path d="M158.2 149.5V153.9" stroke="#b5301e" stroke-width="0.4"/>
<circle cx="158.25" cy="151.73" r="1.25" fill="#b5301e"/>
<circle cx="162.94" cy="157.80" r="1.25" fill="#b5301e"/>
<circle cx="167.62" cy="159.10" r="1.25" fill="#b5301e"/>
<circle cx="172.31" cy="157.48" r="1.25" fill="#b5301e"/>
<circle cx="177.00" cy="158.83" r="1.25" fill="#b5301e"/>
<path d="M139.5 129.7V136.1" stroke="#6e1a0c" stroke-width="0.4"/>
<circle cx="139.50" cy="132.91" r="1.25" fill="#6e1a0c"/>
<path d="M144.2 130.6V138.0" stroke="#6e1a0c" stroke-width="0.4"/>
<circle cx="144.19" cy="134.26" r="1.25" fill="#6e1a0c"/>
<path d="M148.9 133.4V137.8" stroke="#6e1a0c" stroke-width="0.4"/>
<circle cx="148.88" cy="135.61" r="1.25" fill="#6e1a0c"/>
<path d="M153.6 130.9V136.3" stroke="#6e1a0c" stroke-width="0.4"/>
<circle cx="153.56" cy="133.59" r="1.25" fill="#6e1a0c"/>
<path d="M158.2 131.7V138.1" stroke="#6e1a0c" stroke-width="0.4"/>
<circle cx="158.25" cy="134.94" r="1.25" fill="#6e1a0c"/>
<path d="M162.9 129.4V136.8" stroke="#6e1a0c" stroke-width="0.4"/>
<circle cx="162.94" cy="133.06" r="1.25" fill="#6e1a0c"/>
<path d="M167.6 135.7V140.1" stroke="#6e1a0c" stroke-width="0.4"/>
<circle cx="167.62" cy="137.94" r="1.25" fill="#6e1a0c"/>
<circle cx="172.31" cy="155.55" r="1.25" fill="#6e1a0c"/>
<circle cx="177.00" cy="157.19" r="1.25" fill="#6e1a0c"/>
<path d="M139.5 134.0V138.4" stroke="#2f4f9f" stroke-width="0.4"/>
<circle cx="139.50" cy="136.15" r="1.25" fill="#2f4f9f"/>
<path d="M144.2 131.4V136.8" stroke="#2f4f9f" stroke-width="0.4"/>
<circle cx="144.19" cy="134.13" r="1.25" fill="#2f4f9f"/>
<path d="M148.9 132.3V138.7" stroke="#2f4f9f" stroke-width="0.4"/>
<circle cx="148.88" cy="135.51" r="1.25" fill="#2f4f9f"/>
<path d="M153.6 130.9V138.3" stroke="#2f4f9f" stroke-width="0.4"/>
<circle cx="153.56" cy="134.56" r="1.25" fill="#2f4f9f"/>
<path d="M158.2 148.0V152.4" stroke="#2f4f9f" stroke-width="0.4"/>
<circle cx="158.25" cy="150.19" r="1.25" fill="#2f4f9f"/>
<circle cx="162.94" cy="159.10" r="1.25" fill="#2f4f9f"/>
<circle cx="167.62" cy="158.15" r="1.25" fill="#2f4f9f"/>
<circle cx="172.31" cy="159.10" r="1.25" fill="#2f4f9f"/>
<circle cx="177.00" cy="157.48" r="1.25" fill="#2f4f9f"/>
<circle cx="200.90" cy="117.90" r="1.00" fill="#2f4f9f"/>
<text x="205.40" y="119.60" font-size="4.8" font-weight="normal" fill="#2a2a2a" text-anchor="start" textLength="15.04" lengthAdjust="spacingAndGlyphs" stroke="#2a2a2a" stroke-width="0.12">Wildtype</text>
<path d="M200.90 122.16L201.86 123.92L199.94 123.92Z" fill="#3fa7a0"/>
<text x="205.40" y="124.90" font-size="4.8" font-weight="normal" fill="#2a2a2a" text-anchor="start" textLength="11.28" lengthAdjust="spacingAndGlyphs" stroke="#2a2a2a" stroke-width="0.12">S1986F</text>
<circle cx="200.90" cy="128.50" r="1.00" fill="#6e1a0c"/>
<text x="205.40" y="130.20" font-size="4.8" font-weight="normal" fill="#2a2a2a" text-anchor="start" textLength="11.28" lengthAdjust="spacingAndGlyphs" stroke="#2a2a2a" stroke-width="0.12">F2004C</text>
<circle cx="200.90" cy="133.80" r="1.00" fill="#f2a35e"/>
<text x="205.40" y="135.50" font-size="4.8" font-weight="normal" fill="#2a2a2a" text-anchor="start" textLength="11.28" lengthAdjust="spacingAndGlyphs" stroke="#2a2a2a" stroke-width="0.12">F2004V</text>
<circle cx="200.90" cy="139.10" r="1.00" fill="#b5301e"/>
<text x="205.40" y="140.80" font-size="4.8" font-weight="normal" fill="#2a2a2a" text-anchor="start" textLength="11.28" lengthAdjust="spacingAndGlyphs" stroke="#2a2a2a" stroke-width="0.12">L2026M</text>
<circle cx="200.90" cy="144.40" r="0.88" fill="#fff" stroke="#6f9080" stroke-width="0.55"/>
<text x="205.40" y="146.10" font-size="4.8" font-weight="normal" fill="#2a2a2a" text-anchor="start" textLength="11.28" lengthAdjust="spacingAndGlyphs" stroke="#2a2a2a" stroke-width="0.12">G2032R</text>
<circle cx="200.90" cy="149.70" r="1.00" fill="#7ea8e6"/>
<text x="205.40" y="151.40" font-size="4.8" font-weight="normal" fill="#2a2a2a" text-anchor="start" textLength="11.28" lengthAdjust="spacingAndGlyphs" stroke="#2a2a2a" stroke-width="0.12">D2033N</text>
<rect x="200.02" y="154.12" width="1.76" height="1.76" fill="#fff" stroke="#6b4eb3" stroke-width="0.55"/>
<text x="205.40" y="156.70" font-size="4.8" font-weight="normal" fill="#2a2a2a" text-anchor="start" textLength="11.28" lengthAdjust="spacingAndGlyphs" stroke="#2a2a2a" stroke-width="0.12">L2086F</text>
<text x="20.00" y="206.10" font-size="5.3" font-weight="bold" fill="#000" text-anchor="start" textLength="21.7" lengthAdjust="spacingAndGlyphs" stroke="#000" stroke-width="0.08">Lorlatinib</text>
<path d="M16.6 207.0 V248.5 H79.80000000000001" fill="none" stroke="#333" stroke-width="0.65"/>
<path d="M14.900000000000002 247.30H16.6" stroke="#111" stroke-width="0.55"/>
<text x="13.60" y="248.70" font-size="3.9" font-weight="normal" fill="#222" text-anchor="end" stroke="#222" stroke-width="0.15">0.0</text>
<path d="M14.900000000000002 233.80H16.6" stroke="#111" stroke-width="0.55"/>
<text x="13.60" y="235.20" font-size="3.9" font-weight="normal" fill="#222" text-anchor="end" stroke="#222" stroke-width="0.15">0.5</text>
<path d="M14.900000000000002 220.30H16.6" stroke="#111" stroke-width="0.55"/>
<text x="13.60" y="221.70" font-size="3.9" font-weight="normal" fill="#222" text-anchor="end" stroke="#222" stroke-width="0.15">1.0</text>
<path d="M14.900000000000002 206.80H16.6" stroke="#111" stroke-width="0.55"/>
<text x="13.60" y="208.20" font-size="3.9" font-weight="normal" fill="#222" text-anchor="end" stroke="#222" stroke-width="0.15">1.5</text>
<text transform="translate(4.60,226.00) rotate(-90)" font-size="4.6" font-weight="bold" text-anchor="middle" fill="#111" stroke="#111" stroke-width="0.1" textLength="35" lengthAdjust="spacingAndGlyphs">Surviving fraction</text>
<path d="M25.20 248.5V250.1" stroke="#111" stroke-width="0.55"/>
<text transform="translate(26.40,253.5) rotate(-45)" font-size="3.1" text-anchor="end" fill="#333" stroke="#333" stroke-width="0.1">0.01</text>
<path d="M43.10 248.5V250.1" stroke="#111" stroke-width="0.55"/>
<text transform="translate(44.30,253.5) rotate(-45)" font-size="3.1" text-anchor="end" fill="#333" stroke="#333" stroke-width="0.1">1</text>
<path d="M61.00 248.5V250.1" stroke="#111" stroke-width="0.55"/>
<text transform="translate(62.20,253.5) rotate(-45)" font-size="3.1" text-anchor="end" fill="#333" stroke="#333" stroke-width="0.1">100</text>
<path d="M78.90 248.5V250.1" stroke="#111" stroke-width="0.55"/>
<text transform="translate(80.10,253.5) rotate(-45)" font-size="3.1" text-anchor="end" fill="#333" stroke="#333" stroke-width="0.1">10000</text>
<text x="48.10" y="263.90" font-size="4.4" font-weight="bold" fill="#111" text-anchor="middle" textLength="44.5" lengthAdjust="spacingAndGlyphs" stroke="#111" stroke-width="0.08">Concentration (nmol/L)</text>
<path d="M23.3 223.6 L24.1 223.6 L24.9 223.6 L25.7 223.6 L26.5 223.6 L27.3 223.6 L28.1 223.7 L28.9 223.7 L29.7 223.8 L30.5 224.0 L31.3 224.2 L32.1 224.5 L32.9 225.0 L33.7 225.8 L34.5 226.8 L35.3 228.1 L36.1 229.9 L36.9 232.0 L37.7 234.4 L38.5 236.8 L39.3 239.2 L40.1 241.2 L40.9 242.8 L41.7 244.1 L42.5 245.0 L43.3 245.7 L44.1 246.1 L44.9 246.4 L45.7 246.6 L46.5 246.8 L47.3 246.9 L48.1 246.9 L48.9 247.0 L49.7 247.0 L50.5 247.0 L51.3 247.0 L52.1 247.0 L52.9 247.0 L53.7 247.0 L54.5 247.0 L55.3 247.0 L56.1 247.0 L56.9 247.0 L57.7 247.0 L58.5 247.0 L59.3 247.0 L60.1 247.0 L60.9 247.0 L61.7 247.0 L61.7 247.0" fill="none" stroke="#2f4f9f" stroke-width="0.6"/>
<path d="M23.3 216.3 L24.1 216.3 L24.9 216.3 L25.7 216.3 L26.5 216.3 L27.3 216.3 L28.1 216.4 L28.9 216.4 L29.7 216.5 L30.5 216.7 L31.3 216.9 L32.1 217.3 L32.9 217.8 L33.7 218.5 L34.5 219.6 L35.3 221.1 L36.1 223.0 L36.9 225.5 L37.7 228.4 L38.5 231.6 L39.3 234.8 L40.1 237.8 L40.9 240.2 L41.7 242.2 L42.5 243.7 L43.3 244.8 L44.1 245.5 L44.9 246.0 L45.7 246.3 L46.5 246.6 L47.3 246.7 L48.1 246.8 L48.9 246.9 L49.7 246.9 L50.5 247.0 L51.3 247.0 L52.1 247.0 L52.9 247.0 L53.7 247.0 L54.5 247.0 L55.3 247.0 L56.1 247.0 L56.9 247.0 L57.7 247.0 L58.5 247.0 L59.3 247.0 L60.1 247.0 L60.9 247.0 L61.7 247.0 L61.7 247.0" fill="none" stroke="#3fa7a0" stroke-width="0.6"/>
<path d="M23.3 219.0 L24.1 219.0 L24.9 219.0 L25.7 219.0 L26.5 219.0 L27.3 219.0 L28.1 219.0 L28.9 219.0 L29.7 219.0 L30.5 219.0 L31.3 219.0 L32.1 219.0 L32.9 219.1 L33.7 219.1 L34.5 219.2 L35.3 219.3 L36.1 219.5 L36.9 219.8 L37.7 220.2 L38.5 220.8 L39.3 221.7 L40.1 223.0 L40.9 224.6 L41.7 226.8 L42.5 229.4 L43.3 232.3 L44.1 235.2 L44.9 237.9 L45.7 240.3 L46.5 242.2 L47.3 243.7 L48.1 244.7 L48.9 245.5 L49.7 246.0 L50.5 246.3 L51.3 246.6 L52.1 246.7 L52.9 246.8 L53.7 246.9 L54.5 246.9 L55.3 247.0 L56.1 247.0 L56.9 247.0 L57.7 247.0 L58.5 247.0 L59.3 247.0 L60.1 247.0 L60.9 247.0 L61.7 247.0 L61.7 247.0" fill="none" stroke="#6e1a0c" stroke-width="0.6"/>
<path d="M23.3 221.7 L24.1 221.7 L24.9 221.7 L25.7 221.7 L26.5 221.7 L27.3 221.7 L28.1 221.7 L28.9 221.7 L29.7 221.8 L30.5 221.8 L31.3 221.9 L32.1 222.0 L32.9 222.2 L33.7 222.5 L34.5 223.0 L35.3 223.6 L36.1 224.5 L36.9 225.8 L37.7 227.5 L38.5 229.6 L39.3 232.0 L40.1 234.7 L40.9 237.3 L41.7 239.7 L42.5 241.7 L43.3 243.2 L44.1 244.4 L44.9 245.2 L45.7 245.8 L46.5 246.2 L47.3 246.5 L48.1 246.7 L48.9 246.8 L49.7 246.9 L50.5 246.9 L51.3 247.0 L52.1 247.0 L52.9 247.0 L53.7 247.0 L54.5 247.0 L55.3 247.0 L56.1 247.0 L56.9 247.0 L57.7 247.0 L58.5 247.0 L59.3 247.0 L60.1 247.0 L60.9 247.0 L61.7 247.0 L61.7 247.0" fill="none" stroke="#f2a35e" stroke-width="0.6"/>
<path d="M23.3 223.0 L24.1 223.0 L24.9 223.0 L25.7 223.0 L26.5 223.0 L27.3 223.1 L28.1 223.1 L28.9 223.1 L29.7 223.2 L30.5 223.3 L31.3 223.4 L32.1 223.6 L32.9 223.9 L33.7 224.4 L34.5 225.1 L35.3 226.0 L36.1 227.3 L36.9 229.0 L37.7 231.1 L38.5 233.4 L39.3 236.0 L40.1 238.4 L40.9 240.6 L41.7 242.4 L42.5 243.7 L43.3 244.8 L44.1 245.5 L44.9 246.0 L45.7 246.3 L46.5 246.6 L47.3 246.7 L48.1 246.8 L48.9 246.9 L49.7 246.9 L50.5 247.0 L51.3 247.0 L52.1 247.0 L52.9 247.0 L53.7 247.0 L54.5 247.0 L55.3 247.0 L56.1 247.0 L56.9 247.0 L57.7 247.0 L58.5 247.0 L59.3 247.0 L60.1 247.0 L60.9 247.0 L61.7 247.0 L61.7 247.0" fill="none" stroke="#b5301e" stroke-width="0.6"/>
<path d="M23.3 225.2 L24.1 225.2 L24.9 225.2 L25.7 225.2 L26.5 225.2 L27.3 225.2 L28.1 225.2 L28.9 225.2 L29.7 225.2 L30.5 225.2 L31.3 225.2 L32.1 225.2 L32.9 225.2 L33.7 225.2 L34.5 225.2 L35.3 225.2 L36.1 225.2 L36.9 225.2 L37.7 225.2 L38.5 225.2 L39.3 225.2 L40.1 225.2 L40.9 225.2 L41.7 225.2 L42.5 225.2 L43.3 225.2 L44.1 225.2 L44.9 225.2 L45.7 225.2 L46.5 225.2 L47.3 225.2 L48.1 225.2 L48.9 225.2 L49.7 225.2 L50.5 225.2 L51.3 225.2 L52.1 225.2 L52.9 225.2 L53.7 225.2 L54.5 225.2 L55.3 225.2 L56.1 225.3 L56.9 225.4 L57.7 225.7 L58.5 226.4 L59.3 227.8 L60.1 230.2 L60.9 233.9 L61.7 238.3 L61.7 238.3" fill="none" stroke="#6f9080" stroke-width="0.6"/>
<path d="M23.3 223.6 L24.1 223.6 L24.9 223.6 L25.7 223.6 L26.5 223.6 L27.3 223.6 L28.1 223.7 L28.9 223.8 L29.7 223.9 L30.5 224.1 L31.3 224.4 L32.1 224.8 L32.9 225.5 L33.7 226.3 L34.5 227.6 L35.3 229.2 L36.1 231.1 L36.9 233.4 L37.7 235.9 L38.5 238.3 L39.3 240.5 L40.1 242.3 L40.9 243.7 L41.7 244.7 L42.5 245.5 L43.3 246.0 L44.1 246.3 L44.9 246.6 L45.7 246.7 L46.5 246.8 L47.3 246.9 L48.1 246.9 L48.9 247.0 L49.7 247.0 L50.5 247.0 L51.3 247.0 L52.1 247.0 L52.9 247.0 L53.7 247.0 L54.5 247.0 L55.3 247.0 L56.1 247.0 L56.9 247.0 L57.7 247.0 L58.5 247.0 L59.3 247.0 L60.1 247.0 L60.9 247.0 L61.7 247.0 L61.7 247.0" fill="none" stroke="#7ea8e6" stroke-width="0.6"/>
<path d="M23.3 225.7 L24.1 225.7 L24.9 225.7 L25.7 225.7 L26.5 225.7 L27.3 225.7 L28.1 225.7 L28.9 225.7 L29.7 225.7 L30.5 225.7 L31.3 225.7 L32.1 225.7 L32.9 225.7 L33.7 225.7 L34.5 225.7 L35.3 225.7 L36.1 225.7 L36.9 225.7 L37.7 225.7 L38.5 225.7 L39.3 225.7 L40.1 225.7 L40.9 225.7 L41.7 225.7 L42.5 225.7 L43.3 225.7 L44.1 225.7 L44.9 225.7 L45.7 225.7 L46.5 225.7 L47.3 225.7 L48.1 225.7 L48.9 225.7 L49.7 225.7 L50.5 225.7 L51.3 225.7 L52.1 225.7 L52.9 225.7 L53.7 225.8 L54.5 225.9 L55.3 226.2 L56.1 226.8 L56.9 228.0 L57.7 230.3 L58.5 233.8 L59.3 238.0 L60.1 241.7 L60.9 244.3 L61.7 245.7 L61.7 245.7" fill="none" stroke="#6b4eb3" stroke-width="0.6"/>
<path d="M23.3 221.7V227.1" stroke="#6b4eb3" stroke-width="0.4"/>
<rect x="22.20" y="223.25" width="2.20" height="2.20" fill="#fff" stroke="#6b4eb3" stroke-width="0.55"/>
<path d="M28.1 222.5V228.9" stroke="#6b4eb3" stroke-width="0.4"/>
<rect x="27.00" y="224.60" width="2.20" height="2.20" fill="#fff" stroke="#6b4eb3" stroke-width="0.55"/>
<path d="M32.9 223.4V230.8" stroke="#6b4eb3" stroke-width="0.4"/>
<rect x="31.80" y="225.95" width="2.20" height="2.20" fill="#fff" stroke="#6b4eb3" stroke-width="0.55"/>
<path d="M37.7 222.8V227.2" stroke="#6b4eb3" stroke-width="0.4"/>
<rect x="36.60" y="223.93" width="2.20" height="2.20" fill="#fff" stroke="#6b4eb3" stroke-width="0.55"/>
<path d="M42.5 223.7V229.1" stroke="#6b4eb3" stroke-width="0.4"/>
<rect x="41.40" y="225.28" width="2.20" height="2.20" fill="#fff" stroke="#6b4eb3" stroke-width="0.55"/>
<path d="M47.3 221.2V227.6" stroke="#6b4eb3" stroke-width="0.4"/>
<rect x="46.20" y="223.25" width="2.20" height="2.20" fill="#fff" stroke="#6b4eb3" stroke-width="0.55"/>
<path d="M52.1 222.0V229.4" stroke="#6b4eb3" stroke-width="0.4"/>
<rect x="51.00" y="224.62" width="2.20" height="2.20" fill="#fff" stroke="#6b4eb3" stroke-width="0.55"/>
<path d="M56.9 227.2V231.6" stroke="#6b4eb3" stroke-width="0.4"/>
<rect x="55.80" y="228.28" width="2.20" height="2.20" fill="#fff" stroke="#6b4eb3" stroke-width="0.55"/>
<rect x="60.60" y="243.91" width="2.20" height="2.20" fill="#fff" stroke="#6b4eb3" stroke-width="0.55"/>
<path d="M23.3 222.8V230.2" stroke="#6f9080" stroke-width="0.4"/>
<circle cx="23.30" cy="226.51" r="1.10" fill="#fff" stroke="#6f9080" stroke-width="0.55"/>
<path d="M28.1 222.3V226.7" stroke="#6f9080" stroke-width="0.4"/>
<circle cx="28.10" cy="224.49" r="1.10" fill="#fff" stroke="#6f9080" stroke-width="0.55"/>
<path d="M32.9 223.1V228.5" stroke="#6f9080" stroke-width="0.4"/>
<circle cx="32.90" cy="225.84" r="1.10" fill="#fff" stroke="#6f9080" stroke-width="0.55"/>
<path d="M37.7 220.6V227.0" stroke="#6f9080" stroke-width="0.4"/>
<circle cx="37.70" cy="223.81" r="1.10" fill="#fff" stroke="#6f9080" stroke-width="0.55"/>
<path d="M42.5 221.5V228.9" stroke="#6f9080" stroke-width="0.4"/>
<circle cx="42.50" cy="225.16" r="1.10" fill="#fff" stroke="#6f9080" stroke-width="0.55"/>
<path d="M47.3 224.3V228.7" stroke="#6f9080" stroke-width="0.4"/>
<circle cx="47.30" cy="226.51" r="1.10" fill="#fff" stroke="#6f9080" stroke-width="0.55"/>
<path d="M52.1 221.8V227.2" stroke="#6f9080" stroke-width="0.4"/>
<circle cx="52.10" cy="224.49" r="1.10" fill="#fff" stroke="#6f9080" stroke-width="0.55"/>
<path d="M56.9 222.9V229.3" stroke="#6f9080" stroke-width="0.4"/>
<circle cx="56.90" cy="226.10" r="1.10" fill="#fff" stroke="#6f9080" stroke-width="0.55"/>
<path d="M61.7 233.2V240.6" stroke="#6f9080" stroke-width="0.4"/>
<circle cx="61.70" cy="236.90" r="1.10" fill="#fff" stroke="#6f9080" stroke-width="0.55"/>
<path d="M23.3 220.4V226.8" stroke="#7ea8e6" stroke-width="0.4"/>
<circle cx="23.30" cy="223.55" r="1.25" fill="#7ea8e6"/>
<path d="M28.1 221.4V228.8" stroke="#7ea8e6" stroke-width="0.4"/>
<circle cx="28.10" cy="225.06" r="1.25" fill="#7ea8e6"/>
<path d="M32.9 222.6V227.0" stroke="#7ea8e6" stroke-width="0.4"/>
<circle cx="32.90" cy="224.78" r="1.25" fill="#7ea8e6"/>
<path d="M37.7 233.9V239.3" stroke="#7ea8e6" stroke-width="0.4"/>
<circle cx="37.70" cy="236.58" r="1.25" fill="#7ea8e6"/>
<circle cx="42.50" cy="244.10" r="1.25" fill="#7ea8e6"/>
<circle cx="47.30" cy="246.90" r="1.25" fill="#7ea8e6"/>
<circle cx="52.10" cy="247.30" r="1.25" fill="#7ea8e6"/>
<circle cx="56.90" cy="246.35" r="1.25" fill="#7ea8e6"/>
<circle cx="61.70" cy="247.30" r="1.25" fill="#7ea8e6"/>
<path d="M23.3 219.6V225.0" stroke="#f2a35e" stroke-width="0.4"/>
<circle cx="23.30" cy="222.33" r="1.25" fill="#f2a35e"/>
<path d="M28.1 217.1V223.5" stroke="#f2a35e" stroke-width="0.4"/>
<circle cx="28.10" cy="220.35" r="1.25" fill="#f2a35e"/>
<path d="M32.9 218.5V225.9" stroke="#f2a35e" stroke-width="0.4"/>
<circle cx="32.90" cy="222.24" r="1.25" fill="#f2a35e"/>
<path d="M37.7 226.6V231.0" stroke="#f2a35e" stroke-width="0.4"/>
<circle cx="37.70" cy="228.83" r="1.25" fill="#f2a35e"/>
<circle cx="42.50" cy="240.99" r="1.25" fill="#f2a35e"/>
<circle cx="47.30" cy="247.17" r="1.25" fill="#f2a35e"/>
<circle cx="52.10" cy="245.64" r="1.25" fill="#f2a35e"/>
<circle cx="56.90" cy="247.03" r="1.25" fill="#f2a35e"/>
<circle cx="61.70" cy="247.30" r="1.25" fill="#f2a35e"/>
<path d="M23.3 212.6V220.0" stroke="#3fa7a0" stroke-width="0.4"/>
<path d="M23.30 214.96L24.50 217.16L22.10 217.16Z" fill="#3fa7a0"/>
<path d="M28.1 215.5V219.9" stroke="#3fa7a0" stroke-width="0.4"/>
<path d="M28.10 216.43L29.30 218.63L26.90 218.63Z" fill="#3fa7a0"/>
<path d="M32.9 214.4V219.8" stroke="#3fa7a0" stroke-width="0.4"/>
<path d="M32.90 215.81L34.10 218.01L31.70 218.01Z" fill="#3fa7a0"/>
<path d="M37.7 225.9V232.3" stroke="#3fa7a0" stroke-width="0.4"/>
<path d="M37.70 227.82L38.90 230.02L36.50 230.02Z" fill="#3fa7a0"/>
<path d="M42.50 241.04L43.70 243.24L41.30 243.24Z" fill="#3fa7a0"/>
<path d="M47.30 245.43L48.50 247.63L46.10 247.63Z" fill="#3fa7a0"/>
<path d="M52.10 246.00L53.30 248.20L50.90 248.20Z" fill="#3fa7a0"/>
<path d="M56.90 245.05L58.10 247.25L55.70 247.25Z" fill="#3fa7a0"/>
<path d="M61.70 246.00L62.90 248.20L60.50 248.20Z" fill="#3fa7a0"/>
<path d="M23.3 220.1V224.5" stroke="#b5301e" stroke-width="0.4"/>
<circle cx="23.30" cy="222.33" r="1.25" fill="#b5301e"/>
<path d="M28.1 221.1V226.5" stroke="#b5301e" stroke-width="0.4"/>
<circle cx="28.10" cy="223.75" r="1.25" fill="#b5301e"/>
<path d="M32.9 219.4V225.8" stroke="#b5301e" stroke-width="0.4"/>
<circle cx="32.90" cy="222.58" r="1.25" fill="#b5301e"/>
<path d="M37.7 227.4V234.8" stroke="#b5301e" stroke-width="0.4"/>
<circle cx="37.70" cy="231.06" r="1.25" fill="#b5301e"/>
<circle cx="42.50" cy="245.09" r="1.25" fill="#b5301e"/>
<circle cx="47.30" cy="246.05" r="1.25" fill="#b5301e"/>
<circle cx="52.10" cy="247.30" r="1.25" fill="#b5301e"/>
<circle cx="56.90" cy="245.68" r="1.25" fill="#b5301e"/>
<circle cx="61.70" cy="247.03" r="1.25" fill="#b5301e"/>
<path d="M23.3 214.4V220.8" stroke="#6e1a0c" stroke-width="0.4"/>
<circle cx="23.30" cy="217.60" r="1.25" fill="#6e1a0c"/>
<path d="M28.1 215.3V222.7" stroke="#6e1a0c" stroke-width="0.4"/>
<circle cx="28.10" cy="218.96" r="1.25" fill="#6e1a0c"/>
<path d="M32.9 218.2V222.6" stroke="#6e1a0c" stroke-width="0.4"/>
<circle cx="32.90" cy="220.41" r="1.25" fill="#6e1a0c"/>
<path d="M37.7 216.8V222.2" stroke="#6e1a0c" stroke-width="0.4"/>
<circle cx="37.70" cy="219.54" r="1.25" fill="#6e1a0c"/>
<path d="M42.5 226.9V233.3" stroke="#6e1a0c" stroke-width="0.4"/>
<circle cx="42.50" cy="230.05" r="1.25" fill="#6e1a0c"/>
<circle cx="47.30" cy="242.33" r="1.25" fill="#6e1a0c"/>
<circle cx="52.10" cy="246.73" r="1.25" fill="#6e1a0c"/>
<circle cx="56.90" cy="247.30" r="1.25" fill="#6e1a0c"/>
<circle cx="61.70" cy="246.35" r="1.25" fill="#6e1a0c"/>
<path d="M23.3 222.7V227.1" stroke="#2f4f9f" stroke-width="0.4"/>
<circle cx="23.30" cy="224.90" r="1.25" fill="#2f4f9f"/>
<path d="M28.1 220.3V225.7" stroke="#2f4f9f" stroke-width="0.4"/>
<circle cx="28.10" cy="222.99" r="1.25" fill="#2f4f9f"/>
<path d="M32.9 222.5V228.9" stroke="#2f4f9f" stroke-width="0.4"/>
<circle cx="32.90" cy="225.72" r="1.25" fill="#2f4f9f"/>
<path d="M37.7 229.3V236.7" stroke="#2f4f9f" stroke-width="0.4"/>
<circle cx="37.70" cy="233.01" r="1.25" fill="#2f4f9f"/>
<circle cx="42.50" cy="245.02" r="1.25" fill="#2f4f9f"/>
<circle cx="47.30" cy="247.30" r="1.25" fill="#2f4f9f"/>
<circle cx="52.10" cy="246.34" r="1.25" fill="#2f4f9f"/>
<circle cx="56.90" cy="247.30" r="1.25" fill="#2f4f9f"/>
<circle cx="61.70" cy="245.68" r="1.25" fill="#2f4f9f"/>
<circle cx="84.70" cy="206.00" r="1.00" fill="#2f4f9f"/>
<text x="89.50" y="207.70" font-size="4.8" font-weight="normal" fill="#2a2a2a" text-anchor="start" textLength="15.04" lengthAdjust="spacingAndGlyphs" stroke="#2a2a2a" stroke-width="0.12">Wildtype</text>
<path d="M84.70 210.26L85.66 212.02L83.74 212.02Z" fill="#3fa7a0"/>
<text x="89.50" y="213.00" font-size="4.8" font-weight="normal" fill="#2a2a2a" text-anchor="start" textLength="11.28" lengthAdjust="spacingAndGlyphs" stroke="#2a2a2a" stroke-width="0.12">S1986F</text>
<circle cx="84.70" cy="216.60" r="1.00" fill="#6e1a0c"/>
<text x="89.50" y="218.30" font-size="4.8" font-weight="normal" fill="#2a2a2a" text-anchor="start" textLength="11.28" lengthAdjust="spacingAndGlyphs" stroke="#2a2a2a" stroke-width="0.12">F2004C</text>
<circle cx="84.70" cy="221.90" r="1.00" fill="#f2a35e"/>
<text x="89.50" y="223.60" font-size="4.8" font-weight="normal" fill="#2a2a2a" text-anchor="start" textLength="11.28" lengthAdjust="spacingAndGlyphs" stroke="#2a2a2a" stroke-width="0.12">F2004V</text>
<circle cx="84.70" cy="227.20" r="1.00" fill="#b5301e"/>
<text x="89.50" y="228.90" font-size="4.8" font-weight="normal" fill="#2a2a2a" text-anchor="start" textLength="11.28" lengthAdjust="spacingAndGlyphs" stroke="#2a2a2a" stroke-width="0.12">L2026M</text>
<circle cx="84.70" cy="232.50" r="0.88" fill="#fff" stroke="#6f9080" stroke-width="0.55"/>
<text x="89.50" y="234.20" font-size="4.8" font-weight="normal" fill="#2a2a2a" text-anchor="start" textLength="11.28" lengthAdjust="spacingAndGlyphs" stroke="#2a2a2a" stroke-width="0.12">G2032R</text>
<circle cx="84.70" cy="237.80" r="1.00" fill="#7ea8e6"/>
<text x="89.50" y="239.50" font-size="4.8" font-weight="normal" fill="#2a2a2a" text-anchor="start" textLength="11.28" lengthAdjust="spacingAndGlyphs" stroke="#2a2a2a" stroke-width="0.12">D2033N</text>
<rect x="83.82" y="242.22" width="1.76" height="1.76" fill="#fff" stroke="#6b4eb3" stroke-width="0.55"/>
<text x="89.50" y="244.80" font-size="4.8" font-weight="normal" fill="#2a2a2a" text-anchor="start" textLength="11.28" lengthAdjust="spacingAndGlyphs" stroke="#2a2a2a" stroke-width="0.12">L2086F</text>
<text x="137.30" y="207.60" font-size="5.3" font-weight="bold" fill="#000" text-anchor="start" textLength="30.7" lengthAdjust="spacingAndGlyphs" stroke="#000" stroke-width="0.08">Repotrectinib</text>
<path d="M133.9 206.8 V248.3 H197.10000000000002" fill="none" stroke="#333" stroke-width="0.65"/>
<path d="M132.20000000000002 247.10H133.9" stroke="#111" stroke-width="0.55"/>
<text x="130.90" y="248.50" font-size="3.9" font-weight="normal" fill="#222" text-anchor="end" stroke="#222" stroke-width="0.15">0.0</text>
<path d="M132.20000000000002 233.60H133.9" stroke="#111" stroke-width="0.55"/>
<text x="130.90" y="235.00" font-size="3.9" font-weight="normal" fill="#222" text-anchor="end" stroke="#222" stroke-width="0.15">0.5</text>
<path d="M132.20000000000002 220.10H133.9" stroke="#111" stroke-width="0.55"/>
<text x="130.90" y="221.50" font-size="3.9" font-weight="normal" fill="#222" text-anchor="end" stroke="#222" stroke-width="0.15">1.0</text>
<path d="M132.20000000000002 206.60H133.9" stroke="#111" stroke-width="0.55"/>
<text x="130.90" y="208.00" font-size="3.9" font-weight="normal" fill="#222" text-anchor="end" stroke="#222" stroke-width="0.15">1.5</text>
<text transform="translate(121.90,225.80) rotate(-90)" font-size="4.6" font-weight="bold" text-anchor="middle" fill="#111" stroke="#111" stroke-width="0.1" textLength="35" lengthAdjust="spacingAndGlyphs">Surviving fraction</text>
<path d="M142.50 248.3V249.9" stroke="#111" stroke-width="0.55"/>
<text transform="translate(143.70,253.3) rotate(-45)" font-size="3.1" text-anchor="end" fill="#333" stroke="#333" stroke-width="0.1">0.01</text>
<path d="M160.40 248.3V249.9" stroke="#111" stroke-width="0.55"/>
<text transform="translate(161.60,253.3) rotate(-45)" font-size="3.1" text-anchor="end" fill="#333" stroke="#333" stroke-width="0.1">1</text>
<path d="M178.30 248.3V249.9" stroke="#111" stroke-width="0.55"/>
<text transform="translate(179.50,253.3) rotate(-45)" font-size="3.1" text-anchor="end" fill="#333" stroke="#333" stroke-width="0.1">100</text>
<path d="M196.20 248.3V249.9" stroke="#111" stroke-width="0.55"/>
<text transform="translate(197.40,253.3) rotate(-45)" font-size="3.1" text-anchor="end" fill="#333" stroke="#333" stroke-width="0.1">10000</text>
<text x="165.40" y="263.70" font-size="4.4" font-weight="bold" fill="#111" text-anchor="middle" textLength="44.5" lengthAdjust="spacingAndGlyphs" stroke="#111" stroke-width="0.08">Concentration (nmol/L)</text>
<path d="M140.5 222.3 L141.3 222.3 L142.1 222.3 L142.9 222.3 L143.7 222.3 L144.5 222.3 L145.3 222.3 L146.1 222.3 L146.9 222.3 L147.7 222.3 L148.5 222.3 L149.3 222.3 L150.1 222.3 L150.9 222.3 L151.7 222.3 L152.5 222.3 L153.3 222.3 L154.1 222.3 L154.9 222.3 L155.7 222.3 L156.5 222.3 L157.3 222.4 L158.1 222.4 L158.9 222.6 L159.7 222.9 L160.5 223.3 L161.3 224.2 L162.1 225.6 L162.9 227.8 L163.7 230.9 L164.5 234.5 L165.3 238.2 L166.1 241.3 L166.9 243.5 L167.7 244.9 L168.5 245.7 L169.3 246.2 L170.1 246.5 L170.9 246.7 L171.7 246.7 L172.5 246.8 L173.3 246.8 L174.1 246.8 L174.9 246.8 L175.7 246.8 L176.5 246.8 L177.3 246.8 L178.1 246.8 L178.9 246.8 L179.1 246.8" fill="none" stroke="#2f4f9f" stroke-width="0.6"/>
<path d="M140.5 222.8 L141.3 222.8 L142.1 222.8 L142.9 222.8 L143.7 222.8 L144.5 222.8 L145.3 222.8 L146.1 222.8 L146.9 222.8 L147.7 222.8 L148.5 222.8 L149.3 222.8 L150.1 222.8 L150.9 222.8 L151.7 222.8 L152.5 222.8 L153.3 222.8 L154.1 222.8 L154.9 222.9 L155.7 222.9 L156.5 223.0 L157.3 223.2 L158.1 223.6 L158.9 224.2 L159.7 225.3 L160.5 227.0 L161.3 229.6 L162.1 233.0 L162.9 236.6 L163.7 240.0 L164.5 242.6 L165.3 244.3 L166.1 245.4 L166.9 246.0 L167.7 246.4 L168.5 246.6 L169.3 246.7 L170.1 246.8 L170.9 246.8 L171.7 246.8 L172.5 246.8 L173.3 246.8 L174.1 246.8 L174.9 246.8 L175.7 246.8 L176.5 246.8 L177.3 246.8 L178.1 246.8 L178.9 246.8 L179.1 246.8" fill="none" stroke="#3fa7a0" stroke-width="0.6"/>
<path d="M140.5 220.1 L141.3 220.1 L142.1 220.1 L142.9 220.1 L143.7 220.1 L144.5 220.1 L145.3 220.1 L146.1 220.1 L146.9 220.1 L147.7 220.1 L148.5 220.1 L149.3 220.1 L150.1 220.1 L150.9 220.1 L151.7 220.1 L152.5 220.1 L153.3 220.1 L154.1 220.1 L154.9 220.1 L155.7 220.1 L156.5 220.1 L157.3 220.1 L158.1 220.1 L158.9 220.1 L159.7 220.1 L160.5 220.1 L161.3 220.2 L162.1 220.2 L162.9 220.3 L163.7 220.5 L164.5 220.9 L165.3 221.6 L166.1 222.7 L166.9 224.5 L167.7 227.3 L168.5 230.9 L169.3 235.0 L170.1 238.8 L170.9 241.8 L171.7 243.9 L172.5 245.1 L173.3 245.9 L174.1 246.3 L174.9 246.5 L175.7 246.7 L176.5 246.7 L177.3 246.8 L178.1 246.8 L178.9 246.8 L179.1 246.8" fill="none" stroke="#6e1a0c" stroke-width="0.6"/>
<path d="M140.5 222.8 L141.3 222.8 L142.1 222.8 L142.9 222.8 L143.7 222.8 L144.5 222.8 L145.3 222.8 L146.1 222.8 L146.9 222.8 L147.7 222.8 L148.5 222.8 L149.3 222.8 L150.1 222.8 L150.9 222.8 L151.7 222.8 L152.5 222.8 L153.3 222.8 L154.1 222.8 L154.9 222.8 L155.7 222.8 L156.5 222.8 L157.3 222.8 L158.1 222.8 L158.9 222.8 L159.7 222.8 L160.5 222.9 L161.3 222.9 L162.1 223.1 L162.9 223.3 L163.7 223.6 L164.5 224.3 L165.3 225.5 L166.1 227.3 L166.9 230.0 L167.7 233.4 L168.5 237.1 L169.3 240.4 L170.1 242.8 L170.9 244.5 L171.7 245.5 L172.5 246.1 L173.3 246.4 L174.1 246.6 L174.9 246.7 L175.7 246.8 L176.5 246.8 L177.3 246.8 L178.1 246.8 L178.9 246.8 L179.1 246.8" fill="none" stroke="#f2a35e" stroke-width="0.6"/>
<path d="M140.5 223.3 L141.3 223.3 L142.1 223.3 L142.9 223.3 L143.7 223.3 L144.5 223.3 L145.3 223.3 L146.1 223.3 L146.9 223.3 L147.7 223.3 L148.5 223.3 L149.3 223.3 L150.1 223.3 L150.9 223.3 L151.7 223.3 L152.5 223.3 L153.3 223.3 L154.1 223.3 L154.9 223.3 L155.7 223.4 L156.5 223.4 L157.3 223.4 L158.1 223.5 L158.9 223.6 L159.7 223.7 L160.5 224.1 L161.3 224.6 L162.1 225.6 L162.9 227.2 L163.7 229.7 L164.5 232.9 L165.3 236.4 L166.1 239.8 L166.9 242.4 L167.7 244.2 L168.5 245.3 L169.3 246.0 L170.1 246.4 L170.9 246.6 L171.7 246.7 L172.5 246.8 L173.3 246.8 L174.1 246.8 L174.9 246.8 L175.7 246.8 L176.5 246.8 L177.3 246.8 L178.1 246.8 L178.9 246.8 L179.1 246.8" fill="none" stroke="#b5301e" stroke-width="0.6"/>
<path d="M140.5 223.3 L141.3 223.3 L142.1 223.3 L142.9 223.3 L143.7 223.3 L144.5 223.3 L145.3 223.3 L146.1 223.3 L146.9 223.3 L147.7 223.3 L148.5 223.3 L149.3 223.3 L150.1 223.3 L150.9 223.3 L151.7 223.3 L152.5 223.3 L153.3 223.3 L154.1 223.3 L154.9 223.3 L155.7 223.3 L156.5 223.3 L157.3 223.3 L158.1 223.3 L158.9 223.4 L159.7 223.4 L160.5 223.4 L161.3 223.5 L162.1 223.5 L162.9 223.7 L163.7 224.0 L164.5 224.6 L165.3 225.5 L166.1 227.0 L166.9 229.2 L167.7 231.9 L168.5 234.9 L169.3 237.6 L170.1 239.6 L170.9 240.9 L171.7 241.7 L172.5 242.2 L173.3 242.5 L174.1 242.6 L174.9 242.7 L175.7 242.7 L176.5 242.8 L177.3 242.8 L178.1 242.8 L178.9 242.8 L179.1 242.8" fill="none" stroke="#6f9080" stroke-width="0.6"/>
<path d="M140.5 222.3 L141.3 222.3 L142.1 222.3 L142.9 222.3 L143.7 222.3 L144.5 222.3 L145.3 222.3 L146.1 222.3 L146.9 222.3 L147.7 222.3 L148.5 222.3 L149.3 222.3 L150.1 222.3 L150.9 222.3 L151.7 222.3 L152.5 222.3 L153.3 222.3 L154.1 222.3 L154.9 222.3 L155.7 222.4 L156.5 222.5 L157.3 222.7 L158.1 223.1 L158.9 223.7 L159.7 224.8 L160.5 226.6 L161.3 229.2 L162.1 232.7 L162.9 236.4 L163.7 239.8 L164.5 242.5 L165.3 244.3 L166.1 245.4 L166.9 246.0 L167.7 246.4 L168.5 246.6 L169.3 246.7 L170.1 246.8 L170.9 246.8 L171.7 246.8 L172.5 246.8 L173.3 246.8 L174.1 246.8 L174.9 246.8 L175.7 246.8 L176.5 246.8 L177.3 246.8 L178.1 246.8 L178.9 246.8 L179.1 246.8" fill="none" stroke="#7ea8e6" stroke-width="0.6"/>
<path d="M140.5 223.9 L141.3 223.9 L142.1 223.9 L142.9 223.9 L143.7 223.9 L144.5 223.9 L145.3 223.9 L146.1 223.9 L146.9 223.9 L147.7 223.9 L148.5 223.9 L149.3 223.9 L150.1 223.9 L150.9 223.9 L151.7 223.9 L152.5 223.9 L153.3 223.9 L154.1 223.9 L154.9 223.9 L155.7 223.9 L156.5 223.9 L157.3 223.9 L158.1 223.9 L158.9 223.9 L159.7 223.9 L160.5 224.0 L161.3 224.0 L162.1 224.1 L162.9 224.3 L163.7 224.6 L164.5 224.9 L165.3 225.4 L166.1 226.0 L166.9 226.8 L167.7 227.5 L168.5 228.1 L169.3 228.7 L170.1 229.1 L170.9 229.3 L171.7 229.5 L172.5 229.6 L173.3 229.7 L174.1 229.8 L174.9 229.8 L175.7 229.8 L176.5 229.8 L177.3 229.8 L178.1 229.8 L178.9 229.8 L179.1 229.8" fill="none" stroke="#6b4eb3" stroke-width="0.6"/>
<path d="M140.5 219.8V225.2" stroke="#6b4eb3" stroke-width="0.4"/>
<rect x="139.40" y="221.43" width="2.20" height="2.20" fill="#fff" stroke="#6b4eb3" stroke-width="0.55"/>
<path d="M145.3 220.7V227.1" stroke="#6b4eb3" stroke-width="0.4"/>
<rect x="144.22" y="222.78" width="2.20" height="2.20" fill="#fff" stroke="#6b4eb3" stroke-width="0.55"/>
<path d="M150.2 221.5V228.9" stroke="#6b4eb3" stroke-width="0.4"/>
<rect x="149.05" y="224.13" width="2.20" height="2.20" fill="#fff" stroke="#6b4eb3" stroke-width="0.55"/>
<path d="M155.0 221.0V225.4" stroke="#6b4eb3" stroke-width="0.4"/>
<rect x="153.88" y="222.11" width="2.20" height="2.20" fill="#fff" stroke="#6b4eb3" stroke-width="0.55"/>
<path d="M159.8 221.9V227.3" stroke="#6b4eb3" stroke-width="0.4"/>
<rect x="158.70" y="223.52" width="2.20" height="2.20" fill="#fff" stroke="#6b4eb3" stroke-width="0.55"/>
<path d="M164.6 220.4V226.8" stroke="#6b4eb3" stroke-width="0.4"/>
<rect x="163.53" y="222.53" width="2.20" height="2.20" fill="#fff" stroke="#6b4eb3" stroke-width="0.55"/>
<path d="M169.4 225.1V232.5" stroke="#6b4eb3" stroke-width="0.4"/>
<rect x="168.35" y="227.66" width="2.20" height="2.20" fill="#fff" stroke="#6b4eb3" stroke-width="0.55"/>
<path d="M174.3 228.9V233.3" stroke="#6b4eb3" stroke-width="0.4"/>
<rect x="173.17" y="230.01" width="2.20" height="2.20" fill="#fff" stroke="#6b4eb3" stroke-width="0.55"/>
<path d="M179.1 226.4V231.8" stroke="#6b4eb3" stroke-width="0.4"/>
<rect x="178.00" y="228.04" width="2.20" height="2.20" fill="#fff" stroke="#6b4eb3" stroke-width="0.55"/>
<path d="M140.5 221.0V228.4" stroke="#6f9080" stroke-width="0.4"/>
<circle cx="140.50" cy="224.69" r="1.10" fill="#fff" stroke="#6f9080" stroke-width="0.55"/>
<path d="M145.3 220.5V224.9" stroke="#6f9080" stroke-width="0.4"/>
<circle cx="145.32" cy="222.67" r="1.10" fill="#fff" stroke="#6f9080" stroke-width="0.55"/>
<path d="M150.2 221.3V226.7" stroke="#6f9080" stroke-width="0.4"/>
<circle cx="150.15" cy="224.02" r="1.10" fill="#fff" stroke="#6f9080" stroke-width="0.55"/>
<path d="M155.0 218.8V225.2" stroke="#6f9080" stroke-width="0.4"/>
<circle cx="154.97" cy="221.99" r="1.10" fill="#fff" stroke="#6f9080" stroke-width="0.55"/>
<path d="M159.8 219.7V227.1" stroke="#6f9080" stroke-width="0.4"/>
<circle cx="159.80" cy="223.38" r="1.10" fill="#fff" stroke="#6f9080" stroke-width="0.55"/>
<path d="M164.6 223.8V228.2" stroke="#6f9080" stroke-width="0.4"/>
<circle cx="164.62" cy="226.04" r="1.10" fill="#fff" stroke="#6f9080" stroke-width="0.55"/>
<path d="M169.4 234.6V240.0" stroke="#6f9080" stroke-width="0.4"/>
<circle cx="169.45" cy="237.31" r="1.10" fill="#fff" stroke="#6f9080" stroke-width="0.55"/>
<circle cx="174.27" cy="243.30" r="1.10" fill="#fff" stroke="#6f9080" stroke-width="0.55"/>
<circle cx="179.10" cy="241.43" r="1.10" fill="#fff" stroke="#6f9080" stroke-width="0.55"/>
<path d="M140.5 219.1V225.5" stroke="#7ea8e6" stroke-width="0.4"/>
<circle cx="140.50" cy="222.26" r="1.25" fill="#7ea8e6"/>
<path d="M145.3 219.9V227.3" stroke="#7ea8e6" stroke-width="0.4"/>
<circle cx="145.32" cy="223.61" r="1.25" fill="#7ea8e6"/>
<path d="M150.2 219.4V223.8" stroke="#7ea8e6" stroke-width="0.4"/>
<circle cx="150.15" cy="221.59" r="1.25" fill="#7ea8e6"/>
<path d="M155.0 220.3V225.7" stroke="#7ea8e6" stroke-width="0.4"/>
<circle cx="154.97" cy="223.01" r="1.25" fill="#7ea8e6"/>
<path d="M159.8 220.4V226.8" stroke="#7ea8e6" stroke-width="0.4"/>
<circle cx="159.80" cy="223.65" r="1.25" fill="#7ea8e6"/>
<circle cx="164.62" cy="242.82" r="1.25" fill="#7ea8e6"/>
<circle cx="169.45" cy="247.10" r="1.25" fill="#7ea8e6"/>
<circle cx="174.27" cy="246.15" r="1.25" fill="#7ea8e6"/>
<circle cx="179.10" cy="247.10" r="1.25" fill="#7ea8e6"/>
<path d="M140.5 220.8V226.2" stroke="#f2a35e" stroke-width="0.4"/>
<circle cx="140.50" cy="223.48" r="1.25" fill="#f2a35e"/>
<path d="M145.3 218.3V224.7" stroke="#f2a35e" stroke-width="0.4"/>
<circle cx="145.32" cy="221.45" r="1.25" fill="#f2a35e"/>
<path d="M150.2 219.1V226.5" stroke="#f2a35e" stroke-width="0.4"/>
<circle cx="150.15" cy="222.80" r="1.25" fill="#f2a35e"/>
<path d="M155.0 222.0V226.4" stroke="#f2a35e" stroke-width="0.4"/>
<circle cx="154.97" cy="224.15" r="1.25" fill="#f2a35e"/>
<path d="M159.8 219.5V224.9" stroke="#f2a35e" stroke-width="0.4"/>
<circle cx="159.80" cy="222.17" r="1.25" fill="#f2a35e"/>
<path d="M164.6 221.9V228.3" stroke="#f2a35e" stroke-width="0.4"/>
<circle cx="164.62" cy="225.14" r="1.25" fill="#f2a35e"/>
<circle cx="169.45" cy="239.55" r="1.25" fill="#f2a35e"/>
<circle cx="174.27" cy="246.64" r="1.25" fill="#f2a35e"/>
<circle cx="179.10" cy="247.10" r="1.25" fill="#f2a35e"/>
<path d="M140.5 219.1V226.5" stroke="#3fa7a0" stroke-width="0.4"/>
<path d="M140.50 221.50L141.70 223.70L139.30 223.70Z" fill="#3fa7a0"/>
<path d="M145.3 222.0V226.4" stroke="#3fa7a0" stroke-width="0.4"/>
<path d="M145.32 222.85L146.52 225.05L144.12 225.05Z" fill="#3fa7a0"/>
<path d="M150.2 219.4V224.8" stroke="#3fa7a0" stroke-width="0.4"/>
<path d="M150.15 220.83L151.35 223.03L148.95 223.03Z" fill="#3fa7a0"/>
<path d="M155.0 220.3V226.7" stroke="#3fa7a0" stroke-width="0.4"/>
<path d="M154.97 222.25L156.17 224.45L153.78 224.45Z" fill="#3fa7a0"/>
<path d="M159.8 220.4V227.8" stroke="#3fa7a0" stroke-width="0.4"/>
<path d="M159.80 222.83L161.00 225.03L158.60 225.03Z" fill="#3fa7a0"/>
<path d="M164.62 241.61L165.82 243.81L163.43 243.81Z" fill="#3fa7a0"/>
<path d="M169.45 245.80L170.65 248.00L168.25 248.00Z" fill="#3fa7a0"/>
<path d="M174.27 244.85L175.47 247.05L173.07 247.05Z" fill="#3fa7a0"/>
<path d="M179.10 245.80L180.30 248.00L177.90 248.00Z" fill="#3fa7a0"/>
<path d="M140.5 220.5V224.9" stroke="#b5301e" stroke-width="0.4"/>
<circle cx="140.50" cy="222.67" r="1.25" fill="#b5301e"/>
<path d="M145.3 221.3V226.7" stroke="#b5301e" stroke-width="0.4"/>
<circle cx="145.32" cy="224.02" r="1.25" fill="#b5301e"/>
<path d="M150.2 218.8V225.2" stroke="#b5301e" stroke-width="0.4"/>
<circle cx="150.15" cy="221.99" r="1.25" fill="#b5301e"/>
<path d="M155.0 219.7V227.1" stroke="#b5301e" stroke-width="0.4"/>
<circle cx="154.97" cy="223.35" r="1.25" fill="#b5301e"/>
<path d="M159.8 222.9V227.3" stroke="#b5301e" stroke-width="0.4"/>
<circle cx="159.80" cy="225.11" r="1.25" fill="#b5301e"/>
<path d="M164.6 230.0V235.4" stroke="#b5301e" stroke-width="0.4"/>
<circle cx="164.62" cy="232.73" r="1.25" fill="#b5301e"/>
<circle cx="169.45" cy="246.76" r="1.25" fill="#b5301e"/>
<circle cx="174.27" cy="245.46" r="1.25" fill="#b5301e"/>
<circle cx="179.10" cy="246.83" r="1.25" fill="#b5301e"/>
<path d="M140.5 215.6V222.0" stroke="#6e1a0c" stroke-width="0.4"/>
<circle cx="140.50" cy="218.75" r="1.25" fill="#6e1a0c"/>
<path d="M145.3 216.4V223.8" stroke="#6e1a0c" stroke-width="0.4"/>
<circle cx="145.32" cy="220.10" r="1.25" fill="#6e1a0c"/>
<path d="M150.2 219.3V223.7" stroke="#6e1a0c" stroke-width="0.4"/>
<circle cx="150.15" cy="221.45" r="1.25" fill="#6e1a0c"/>
<path d="M155.0 216.7V222.1" stroke="#6e1a0c" stroke-width="0.4"/>
<circle cx="154.97" cy="219.43" r="1.25" fill="#6e1a0c"/>
<path d="M159.8 217.6V224.0" stroke="#6e1a0c" stroke-width="0.4"/>
<circle cx="159.80" cy="220.80" r="1.25" fill="#6e1a0c"/>
<path d="M164.6 215.9V223.3" stroke="#6e1a0c" stroke-width="0.4"/>
<circle cx="164.62" cy="219.64" r="1.25" fill="#6e1a0c"/>
<path d="M169.4 233.6V238.0" stroke="#6e1a0c" stroke-width="0.4"/>
<circle cx="169.45" cy="235.76" r="1.25" fill="#6e1a0c"/>
<circle cx="174.27" cy="247.10" r="1.25" fill="#6e1a0c"/>
<circle cx="179.10" cy="246.14" r="1.25" fill="#6e1a0c"/>
<path d="M140.5 221.4V225.8" stroke="#2f4f9f" stroke-width="0.4"/>
<circle cx="140.50" cy="223.61" r="1.25" fill="#2f4f9f"/>
<path d="M145.3 218.9V224.3" stroke="#2f4f9f" stroke-width="0.4"/>
<circle cx="145.32" cy="221.59" r="1.25" fill="#2f4f9f"/>
<path d="M150.2 219.7V226.1" stroke="#2f4f9f" stroke-width="0.4"/>
<circle cx="150.15" cy="222.94" r="1.25" fill="#2f4f9f"/>
<path d="M155.0 217.2V224.6" stroke="#2f4f9f" stroke-width="0.4"/>
<circle cx="154.97" cy="220.93" r="1.25" fill="#2f4f9f"/>
<path d="M159.8 220.7V225.1" stroke="#2f4f9f" stroke-width="0.4"/>
<circle cx="159.80" cy="222.90" r="1.25" fill="#2f4f9f"/>
<path d="M164.6 233.8V239.2" stroke="#2f4f9f" stroke-width="0.4"/>
<circle cx="164.62" cy="236.49" r="1.25" fill="#2f4f9f"/>
<circle cx="169.45" cy="245.62" r="1.25" fill="#2f4f9f"/>
<circle cx="174.27" cy="247.10" r="1.25" fill="#2f4f9f"/>
<circle cx="179.10" cy="245.48" r="1.25" fill="#2f4f9f"/>
<circle cx="200.90" cy="205.50" r="1.00" fill="#2f4f9f"/>
<text x="205.40" y="207.20" font-size="4.8" font-weight="normal" fill="#2a2a2a" text-anchor="start" textLength="15.04" lengthAdjust="spacingAndGlyphs" stroke="#2a2a2a" stroke-width="0.12">Wildtype</text>
<path d="M200.90 209.76L201.86 211.52L199.94 211.52Z" fill="#3fa7a0"/>
<text x="205.40" y="212.50" font-size="4.8" font-weight="normal" fill="#2a2a2a" text-anchor="start" textLength="11.28" lengthAdjust="spacingAndGlyphs" stroke="#2a2a2a" stroke-width="0.12">S1986F</text>
<circle cx="200.90" cy="216.10" r="1.00" fill="#6e1a0c"/>
<text x="205.40" y="217.80" font-size="4.8" font-weight="normal" fill="#2a2a2a" text-anchor="start" textLength="11.28" lengthAdjust="spacingAndGlyphs" stroke="#2a2a2a" stroke-width="0.12">F2004C</text>
<circle cx="200.90" cy="221.40" r="1.00" fill="#f2a35e"/>
<text x="205.40" y="223.10" font-size="4.8" font-weight="normal" fill="#2a2a2a" text-anchor="start" textLength="11.28" lengthAdjust="spacingAndGlyphs" stroke="#2a2a2a" stroke-width="0.12">F2004V</text>
<circle cx="200.90" cy="226.70" r="1.00" fill="#b5301e"/>
<text x="205.40" y="228.40" font-size="4.8" font-weight="normal" fill="#2a2a2a" text-anchor="start" textLength="11.28" lengthAdjust="spacingAndGlyphs" stroke="#2a2a2a" stroke-width="0.12">L2026M</text>
<circle cx="200.90" cy="232.00" r="0.88" fill="#fff" stroke="#6f9080" stroke-width="0.55"/>
<text x="205.40" y="233.70" font-size="4.8" font-weight="normal" fill="#2a2a2a" text-anchor="start" textLength="11.28" lengthAdjust="spacingAndGlyphs" stroke="#2a2a2a" stroke-width="0.12">G2032R</text>
<circle cx="200.90" cy="237.30" r="1.00" fill="#7ea8e6"/>
<text x="205.40" y="239.00" font-size="4.8" font-weight="normal" fill="#2a2a2a" text-anchor="start" textLength="11.28" lengthAdjust="spacingAndGlyphs" stroke="#2a2a2a" stroke-width="0.12">D2033N</text>
<rect x="200.02" y="241.72" width="1.76" height="1.76" fill="#fff" stroke="#6b4eb3" stroke-width="0.55"/>
<text x="205.40" y="244.30" font-size="4.8" font-weight="normal" fill="#2a2a2a" text-anchor="start" textLength="11.28" lengthAdjust="spacingAndGlyphs" stroke="#2a2a2a" stroke-width="0.12">L2086F</text>
<text x="229.40" y="11.80" font-size="12.9" font-weight="bold" fill="#000" text-anchor="start">B</text>
<text transform="translate(246.20,32.6) rotate(-90)" font-size="5.1" fill="#111" stroke="#111" stroke-width="0.14" textLength="16.2" lengthAdjust="spacingAndGlyphs">Vehicle</text>
<text transform="translate(255.75,32.6) rotate(-90)" font-size="5.1" fill="#111" stroke="#111" stroke-width="0.14" textLength="21.3" lengthAdjust="spacingAndGlyphs">Crizotinib</text>
<text transform="translate(265.30,32.6) rotate(-90)" font-size="5.1" fill="#111" stroke="#111" stroke-width="0.14" textLength="24.4" lengthAdjust="spacingAndGlyphs">Entrectinib</text>
<text transform="translate(274.85,32.6) rotate(-90)" font-size="5.1" fill="#111" stroke="#111" stroke-width="0.14" textLength="27.5" lengthAdjust="spacingAndGlyphs">Taletrectinib</text>
<text transform="translate(284.40,32.6) rotate(-90)" font-size="5.1" fill="#111" stroke="#111" stroke-width="0.14" textLength="19.8" lengthAdjust="spacingAndGlyphs">Lorlatinib</text>
<text transform="translate(293.95,32.6) rotate(-90)" font-size="5.1" fill="#111" stroke="#111" stroke-width="0.14" textLength="29.8" lengthAdjust="spacingAndGlyphs">Repotrectinib</text>
<text transform="translate(303.50,32.6) rotate(-90)" font-size="5.1" fill="#111" stroke="#111" stroke-width="0.14" textLength="29.8" lengthAdjust="spacingAndGlyphs">Cabozantinib</text>
<text transform="translate(313.05,32.6) rotate(-90)" font-size="5.1" fill="#111" stroke="#111" stroke-width="0.14" textLength="18.9" lengthAdjust="spacingAndGlyphs">Foretinib</text>
<text transform="translate(322.60,32.6) rotate(-90)" font-size="5.1" fill="#111" stroke="#111" stroke-width="0.14" textLength="16.2" lengthAdjust="spacingAndGlyphs">Vehicle</text>
<text x="328.20" y="28.60" font-size="3.6" font-weight="normal" fill="#222" text-anchor="start" textLength="19.3" lengthAdjust="spacingAndGlyphs" stroke="#222" stroke-width="0.08">100 nmol/L</text>
<rect x="238.3" y="34.3" width="88.20" height="11.70" fill="#e0e0e0" stroke="#8c8c8c" stroke-width="0.6"/>
<rect x="239.3" y="35.3" width="86.20" height="9.70" fill="none" stroke="#ececec" stroke-width="0.5"/>
<rect x="240.40" y="39.50" width="8.20" height="2.80" rx="1.20" fill="#0c0c0c" opacity="0.45" filter="url(#bl)"/>
<rect x="249.95" y="39.50" width="8.20" height="2.80" rx="1.20" fill="#0c0c0c" opacity="0.55" filter="url(#bl)"/>
<rect x="259.50" y="39.50" width="8.20" height="2.80" rx="1.20" fill="#0c0c0c" opacity="0.45" filter="url(#bl)"/>
<rect x="269.05" y="39.50" width="8.20" height="2.80" rx="1.20" fill="#0c0c0c" opacity="0.60" filter="url(#bl)"/>
<rect x="278.60" y="39.50" width="8.20" height="2.80" rx="1.20" fill="#0c0c0c" opacity="0.80" filter="url(#bl)"/>
<rect x="288.15" y="39.50" width="8.20" height="2.80" rx="1.20" fill="#0c0c0c" opacity="0.90" filter="url(#bl)"/>
<rect x="316.80" y="39.50" width="8.20" height="2.80" rx="1.20" fill="#0c0c0c" opacity="0.85" filter="url(#bl)"/>
<rect x="238.3" y="48.1" width="88.20" height="10.50" fill="#e0e0e0" stroke="#8c8c8c" stroke-width="0.6"/>
<rect x="239.3" y="49.1" width="86.20" height="8.50" fill="none" stroke="#ececec" stroke-width="0.5"/>
<rect x="240.30" y="52.10" width="8.40" height="3.00" rx="1.20" fill="#0c0c0c" opacity="0.95" filter="url(#bl)"/>
<rect x="249.85" y="52.10" width="8.40" height="3.00" rx="1.20" fill="#0c0c0c" opacity="0.85" filter="url(#bl)"/>
<rect x="259.40" y="52.10" width="8.40" height="3.00" rx="1.20" fill="#0c0c0c" opacity="0.80" filter="url(#bl)"/>
<rect x="268.95" y="52.10" width="8.40" height="3.00" rx="1.20" fill="#0c0c0c" opacity="0.80" filter="url(#bl)"/>
<rect x="278.50" y="52.10" width="8.40" height="3.00" rx="1.20" fill="#0c0c0c" opacity="0.85" filter="url(#bl)"/>
<rect x="288.05" y="52.10" width="8.40" height="3.00" rx="1.20" fill="#0c0c0c" opacity="0.70" filter="url(#bl)"/>
<rect x="297.60" y="52.10" width="8.40" height="3.00" rx="1.20" fill="#0c0c0c" opacity="0.12" filter="url(#bl)"/>
<rect x="307.15" y="52.10" width="8.40" height="3.00" rx="1.20" fill="#0c0c0c" opacity="0.22" filter="url(#bl)"/>
<rect x="316.70" y="52.10" width="8.40" height="3.00" rx="1.20" fill="#0c0c0c" opacity="0.95" filter="url(#bl)"/>
<rect x="238.3" y="60.2" width="88.20" height="10.30" fill="#e0e0e0" stroke="#8c8c8c" stroke-width="0.6"/>
<rect x="239.3" y="61.2" width="86.20" height="8.30" fill="none" stroke="#ececec" stroke-width="0.5"/>
<rect x="240.40" y="63.00" width="8.20" height="2.00" rx="1.00" fill="#0c0c0c" opacity="0.80" filter="url(#bl)"/>
<rect x="249.95" y="63.00" width="8.20" height="2.00" rx="1.00" fill="#0c0c0c" opacity="0.60" filter="url(#bl)"/>
<rect x="259.50" y="63.00" width="8.20" height="2.00" rx="1.00" fill="#0c0c0c" opacity="0.75" filter="url(#bl)"/>
<rect x="269.05" y="63.00" width="8.20" height="2.00" rx="1.00" fill="#0c0c0c" opacity="0.70" filter="url(#bl)"/>
<rect x="278.60" y="63.00" width="8.20" height="2.00" rx="1.00" fill="#0c0c0c" opacity="0.80" filter="url(#bl)"/>
<rect x="288.15" y="63.00" width="8.20" height="2.00" rx="1.00" fill="#0c0c0c" opacity="0.75" filter="url(#bl)"/>
<rect x="307.25" y="63.00" width="8.20" height="2.00" rx="1.00" fill="#0c0c0c" opacity="0.05" filter="url(#bl)"/>
<rect x="316.80" y="63.00" width="8.20" height="2.00" rx="1.00" fill="#0c0c0c" opacity="0.90" filter="url(#bl)"/>
<rect x="240.40" y="66.30" width="8.20" height="2.00" rx="1.00" fill="#0c0c0c" opacity="0.20" filter="url(#bl)"/>
<rect x="249.95" y="66.30" width="8.20" height="2.00" rx="1.00" fill="#0c0c0c" opacity="0.25" filter="url(#bl)"/>
<rect x="259.50" y="66.30" width="8.20" height="2.00" rx="1.00" fill="#0c0c0c" opacity="0.45" filter="url(#bl)"/>
<rect x="269.05" y="66.30" width="8.20" height="2.00" rx="1.00" fill="#0c0c0c" opacity="0.75" filter="url(#bl)"/>
<rect x="278.60" y="66.30" width="8.20" height="2.00" rx="1.00" fill="#0c0c0c" opacity="0.80" filter="url(#bl)"/>
<rect x="288.15" y="66.30" width="8.20" height="2.00" rx="1.00" fill="#0c0c0c" opacity="0.80" filter="url(#bl)"/>
<rect x="316.80" y="66.30" width="8.20" height="2.00" rx="1.00" fill="#0c0c0c" opacity="0.55" filter="url(#bl)"/>
<rect x="238.3" y="72.7" width="88.20" height="10.60" fill="#e0e0e0" stroke="#8c8c8c" stroke-width="0.6"/>
<rect x="239.3" y="73.7" width="86.20" height="8.60" fill="none" stroke="#ececec" stroke-width="0.5"/>
<rect x="240.40" y="76.00" width="8.20" height="1.80" rx="0.90" fill="#0c0c0c" opacity="0.50" filter="url(#bl)"/>
<rect x="249.95" y="76.00" width="8.20" height="1.80" rx="0.90" fill="#0c0c0c" opacity="0.35" filter="url(#bl)"/>
<rect x="259.50" y="76.00" width="8.20" height="1.80" rx="0.90" fill="#0c0c0c" opacity="0.30" filter="url(#bl)"/>
<rect x="269.05" y="76.00" width="8.20" height="1.80" rx="0.90" fill="#0c0c0c" opacity="0.30" filter="url(#bl)"/>
<rect x="278.60" y="76.00" width="8.20" height="1.80" rx="0.90" fill="#0c0c0c" opacity="0.35" filter="url(#bl)"/>
<rect x="288.15" y="76.00" width="8.20" height="1.80" rx="0.90" fill="#0c0c0c" opacity="0.30" filter="url(#bl)"/>
<rect x="297.70" y="76.00" width="8.20" height="1.80" rx="0.90" fill="#0c0c0c" opacity="0.30" filter="url(#bl)"/>
<rect x="307.25" y="76.00" width="8.20" height="1.80" rx="0.90" fill="#0c0c0c" opacity="0.35" filter="url(#bl)"/>
<rect x="316.80" y="76.00" width="8.20" height="1.80" rx="0.90" fill="#0c0c0c" opacity="0.45" filter="url(#bl)"/>
<rect x="240.30" y="77.70" width="8.40" height="2.40" rx="1.20" fill="#0c0c0c" opacity="0.90" filter="url(#bl)"/>
<rect x="249.85" y="77.70" width="8.40" height="2.40" rx="1.20" fill="#0c0c0c" opacity="0.85" filter="url(#bl)"/>
<rect x="259.40" y="77.70" width="8.40" height="2.40" rx="1.20" fill="#0c0c0c" opacity="0.85" filter="url(#bl)"/>
<rect x="268.95" y="77.70" width="8.40" height="2.40" rx="1.20" fill="#0c0c0c" opacity="0.85" filter="url(#bl)"/>
<rect x="278.50" y="77.70" width="8.40" height="2.40" rx="1.20" fill="#0c0c0c" opacity="0.85" filter="url(#bl)"/>
<rect x="288.05" y="77.70" width="8.40" height="2.40" rx="1.20" fill="#0c0c0c" opacity="0.85" filter="url(#bl)"/>
<rect x="297.60" y="77.70" width="8.40" height="2.40" rx="1.20" fill="#0c0c0c" opacity="0.75" filter="url(#bl)"/>
<rect x="307.15" y="77.70" width="8.40" height="2.40" rx="1.20" fill="#0c0c0c" opacity="0.85" filter="url(#bl)"/>
<rect x="316.70" y="77.70" width="8.40" height="2.40" rx="1.20" fill="#0c0c0c" opacity="0.90" filter="url(#bl)"/>
<text x="328.90" y="43.00" font-size="5.3" font-weight="normal" fill="#1a1a1a" text-anchor="start" textLength="39" lengthAdjust="spacingAndGlyphs">pROS1 Y2274</text>
<text x="328.90" y="55.90" font-size="5.3" font-weight="normal" fill="#1a1a1a" text-anchor="start" textLength="15" lengthAdjust="spacingAndGlyphs">tROS1</text>
<text x="328.90" y="66.50" font-size="5.3" font-weight="normal" fill="#1a1a1a" text-anchor="start" textLength="46.7" lengthAdjust="spacingAndGlyphs">pERK1/2 T202/Y204</text>
<text x="328.90" y="80.50" font-size="5.3" font-weight="normal" fill="#1a1a1a" text-anchor="start" textLength="18.3" lengthAdjust="spacingAndGlyphs">tERK1/2</text>
<text x="255.00" y="91.00" font-size="5.7" font-weight="bold" fill="#000" text-anchor="start" textLength="54" lengthAdjust="spacingAndGlyphs">CD74-ROS1 L2086F</text>
<text x="372.20" y="11.80" font-size="12.9" font-weight="bold" fill="#000" text-anchor="start">C</text>
<text transform="translate(389.90,30.8) rotate(-90)" font-size="5.1" fill="#111" stroke="#111" stroke-width="0.14" textLength="17.1" lengthAdjust="spacingAndGlyphs">Vehicle</text>
<text transform="translate(399.30,30.8) rotate(-90)" font-size="5.1" fill="#111" stroke="#111" stroke-width="0.14" textLength="21.7" lengthAdjust="spacingAndGlyphs">Crizotinib</text>
<text transform="translate(408.70,30.8) rotate(-90)" font-size="5.1" fill="#111" stroke="#111" stroke-width="0.14" textLength="24.4" lengthAdjust="spacingAndGlyphs">Entrectinib</text>
<text transform="translate(418.10,30.8) rotate(-90)" font-size="5.1" fill="#111" stroke="#111" stroke-width="0.14" textLength="28" lengthAdjust="spacingAndGlyphs">Taletrectinib</text>
<text transform="translate(427.50,30.8) rotate(-90)" font-size="5.1" fill="#111" stroke="#111" stroke-width="0.14" textLength="20.7" lengthAdjust="spacingAndGlyphs">Lorlatinib</text>
<text transform="translate(436.90,30.8) rotate(-90)" font-size="5.1" fill="#111" stroke="#111" stroke-width="0.14" textLength="30.5" lengthAdjust="spacingAndGlyphs">Repotrectinib</text>
<text transform="translate(446.30,30.8) rotate(-90)" font-size="5.1" fill="#111" stroke="#111" stroke-width="0.14" textLength="29.5" lengthAdjust="spacingAndGlyphs">Cabozantinib</text>
<text transform="translate(455.70,30.8) rotate(-90)" font-size="5.1" fill="#111" stroke="#111" stroke-width="0.14" textLength="19.9" lengthAdjust="spacingAndGlyphs">Foretinib</text>
<text transform="translate(465.10,30.8) rotate(-90)" font-size="5.1" fill="#111" stroke="#111" stroke-width="0.14" textLength="17.1" lengthAdjust="spacingAndGlyphs">Vehicle</text>
<text x="470.60" y="28.60" font-size="3.6" font-weight="normal" fill="#222" text-anchor="start" textLength="19.3" lengthAdjust="spacingAndGlyphs" stroke="#222" stroke-width="0.08">100 nmol/L</text>
<rect x="381.6" y="32" width="88.40" height="12.00" fill="#e0e0e0" stroke="#8c8c8c" stroke-width="0.6"/>
<rect x="382.6" y="33" width="86.40" height="10.00" fill="none" stroke="#ececec" stroke-width="0.5"/>
<rect x="383" y="33" width="59" height="10" fill="#000" opacity="0.07" filter="url(#bl)"/>
<rect x="411" y="33" width="30" height="5" fill="#000" opacity="0.10" filter="url(#bl)"/>
<rect x="442" y="33" width="17" height="10" fill="#fff" opacity="0.35" filter="url(#bl)"/>
<rect x="384.40" y="37.60" width="8.00" height="2.80" rx="1.20" fill="#0c0c0c" opacity="0.60" filter="url(#bl)"/>
<rect x="393.80" y="37.60" width="8.00" height="2.80" rx="1.20" fill="#0c0c0c" opacity="0.60" filter="url(#bl)"/>
<rect x="403.20" y="37.60" width="8.00" height="2.80" rx="1.20" fill="#0c0c0c" opacity="0.65" filter="url(#bl)"/>
<rect x="412.60" y="37.60" width="8.00" height="2.80" rx="1.20" fill="#0c0c0c" opacity="0.75" filter="url(#bl)"/>
<rect x="422.00" y="37.60" width="8.00" height="2.80" rx="1.20" fill="#0c0c0c" opacity="0.90" filter="url(#bl)"/>
<rect x="431.40" y="37.60" width="8.00" height="2.80" rx="1.20" fill="#0c0c0c" opacity="0.90" filter="url(#bl)"/>
<rect x="459.60" y="37.60" width="8.00" height="2.80" rx="1.20" fill="#0c0c0c" opacity="0.60" filter="url(#bl)"/>
<rect x="381.6" y="45.5" width="88.40" height="9.10" fill="#e0e0e0" stroke="#8c8c8c" stroke-width="0.6"/>
<rect x="382.6" y="46.5" width="86.40" height="7.10" fill="none" stroke="#ececec" stroke-width="0.5"/>
<rect x="384.20" y="48.60" width="8.40" height="3.20" rx="1.20" fill="#0c0c0c" opacity="1.00" filter="url(#bl)"/>
<rect x="393.60" y="48.60" width="8.40" height="3.20" rx="1.20" fill="#0c0c0c" opacity="1.00" filter="url(#bl)"/>
<rect x="403.00" y="48.60" width="8.40" height="3.20" rx="1.20" fill="#0c0c0c" opacity="1.00" filter="url(#bl)"/>
<rect x="412.40" y="48.60" width="8.40" height="3.20" rx="1.20" fill="#0c0c0c" opacity="1.00" filter="url(#bl)"/>
<rect x="421.80" y="48.60" width="8.40" height="3.20" rx="1.20" fill="#0c0c0c" opacity="0.95" filter="url(#bl)"/>
<rect x="431.20" y="48.60" width="8.40" height="3.20" rx="1.20" fill="#0c0c0c" opacity="1.00" filter="url(#bl)"/>
<rect x="440.60" y="48.60" width="8.40" height="3.20" rx="1.20" fill="#0c0c0c" opacity="0.40" filter="url(#bl)"/>
<rect x="450.00" y="48.60" width="8.40" height="3.20" rx="1.20" fill="#0c0c0c" opacity="0.35" filter="url(#bl)"/>
<rect x="459.40" y="48.60" width="8.40" height="3.20" rx="1.20" fill="#0c0c0c" opacity="1.00" filter="url(#bl)"/>
<rect x="381.6" y="55.7" width="88.40" height="13.30" fill="#e0e0e0" stroke="#8c8c8c" stroke-width="0.6"/>
<rect x="382.6" y="56.7" width="86.40" height="11.30" fill="none" stroke="#ececec" stroke-width="0.5"/>
<path d="M384.50 61.40Q388.40 58.80 392.30 61.40" fill="none" stroke="#0c0c0c" stroke-width="1.60" opacity="0.60" filter="url(#bl2)"/>
<path d="M393.90 61.40Q397.80 58.80 401.70 61.40" fill="none" stroke="#0c0c0c" stroke-width="1.60" opacity="0.55" filter="url(#bl2)"/>
<path d="M403.30 61.40Q407.20 58.80 411.10 61.40" fill="none" stroke="#0c0c0c" stroke-width="1.60" opacity="0.70" filter="url(#bl2)"/>
<path d="M412.70 61.40Q416.60 58.80 420.50 61.40" fill="none" stroke="#0c0c0c" stroke-width="1.60" opacity="0.70" filter="url(#bl2)"/>
<path d="M422.10 61.40Q426.00 58.80 429.90 61.40" fill="none" stroke="#0c0c0c" stroke-width="1.60" opacity="0.65" filter="url(#bl2)"/>
<path d="M431.50 61.40Q435.40 58.80 439.30 61.40" fill="none" stroke="#0c0c0c" stroke-width="1.60" opacity="0.75" filter="url(#bl2)"/>
<path d="M459.70 61.40Q463.60 58.80 467.50 61.40" fill="none" stroke="#0c0c0c" stroke-width="1.60" opacity="0.60" filter="url(#bl2)"/>
<path d="M384.50 65.20Q388.40 62.60 392.30 65.20" fill="none" stroke="#0c0c0c" stroke-width="1.60" opacity="0.25" filter="url(#bl2)"/>
<path d="M393.90 65.20Q397.80 62.60 401.70 65.20" fill="none" stroke="#0c0c0c" stroke-width="1.60" opacity="0.30" filter="url(#bl2)"/>
<path d="M403.30 65.20Q407.20 62.60 411.10 65.20" fill="none" stroke="#0c0c0c" stroke-width="1.60" opacity="0.60" filter="url(#bl2)"/>
<path d="M412.70 65.20Q416.60 62.60 420.50 65.20" fill="none" stroke="#0c0c0c" stroke-width="1.60" opacity="0.60" filter="url(#bl2)"/>
<path d="M422.10 65.20Q426.00 62.60 429.90 65.20" fill="none" stroke="#0c0c0c" stroke-width="1.60" opacity="0.55" filter="url(#bl2)"/>
<path d="M431.50 65.20Q435.40 62.60 439.30 65.20" fill="none" stroke="#0c0c0c" stroke-width="1.60" opacity="0.55" filter="url(#bl2)"/>
<path d="M459.70 65.20Q463.60 62.60 467.50 65.20" fill="none" stroke="#0c0c0c" stroke-width="1.60" opacity="0.45" filter="url(#bl2)"/>
<rect x="381.6" y="70.7" width="88.40" height="12.30" fill="#e0e0e0" stroke="#8c8c8c" stroke-width="0.6"/>
<rect x="382.6" y="71.7" width="86.40" height="10.30" fill="none" stroke="#ececec" stroke-width="0.5"/>
<path d="M384.50 75.30Q388.40 72.70 392.30 75.30" fill="none" stroke="#0c0c0c" stroke-width="0.90" opacity="0.30" filter="url(#bl2)"/>
<path d="M393.90 75.30Q397.80 72.70 401.70 75.30" fill="none" stroke="#0c0c0c" stroke-width="0.90" opacity="0.30" filter="url(#bl2)"/>
<path d="M403.30 75.30Q407.20 72.70 411.10 75.30" fill="none" stroke="#0c0c0c" stroke-width="0.90" opacity="0.30" filter="url(#bl2)"/>
<path d="M412.70 75.30Q416.60 72.70 420.50 75.30" fill="none" stroke="#0c0c0c" stroke-width="0.90" opacity="0.30" filter="url(#bl2)"/>
<path d="M422.10 75.30Q426.00 72.70 429.90 75.30" fill="none" stroke="#0c0c0c" stroke-width="0.90" opacity="0.25" filter="url(#bl2)"/>
<path d="M431.50 75.30Q435.40 72.70 439.30 75.30" fill="none" stroke="#0c0c0c" stroke-width="0.90" opacity="0.25" filter="url(#bl2)"/>
<path d="M440.90 75.30Q444.80 72.70 448.70 75.30" fill="none" stroke="#0c0c0c" stroke-width="0.90" opacity="0.30" filter="url(#bl2)"/>
<path d="M450.30 75.30Q454.20 72.70 458.10 75.30" fill="none" stroke="#0c0c0c" stroke-width="0.90" opacity="0.30" filter="url(#bl2)"/>
<path d="M459.70 75.30Q463.60 72.70 467.50 75.30" fill="none" stroke="#0c0c0c" stroke-width="0.90" opacity="0.30" filter="url(#bl2)"/>
<path d="M384.30 79.60Q388.40 77.00 392.50 79.60" fill="none" stroke="#0c0c0c" stroke-width="2.40" opacity="1.00" filter="url(#bl2)"/>
<path d="M393.70 79.60Q397.80 77.00 401.90 79.60" fill="none" stroke="#0c0c0c" stroke-width="2.40" opacity="1.00" filter="url(#bl2)"/>
<path d="M403.10 79.60Q407.20 77.00 411.30 79.60" fill="none" stroke="#0c0c0c" stroke-width="2.40" opacity="1.00" filter="url(#bl2)"/>
<path d="M412.50 79.60Q416.60 77.00 420.70 79.60" fill="none" stroke="#0c0c0c" stroke-width="2.40" opacity="1.00" filter="url(#bl2)"/>
<path d="M421.90 79.60Q426.00 77.00 430.10 79.60" fill="none" stroke="#0c0c0c" stroke-width="2.40" opacity="0.75" filter="url(#bl2)"/>
<path d="M431.30 79.60Q435.40 77.00 439.50 79.60" fill="none" stroke="#0c0c0c" stroke-width="2.40" opacity="0.70" filter="url(#bl2)"/>
<path d="M440.70 79.60Q444.80 77.00 448.90 79.60" fill="none" stroke="#0c0c0c" stroke-width="2.40" opacity="1.00" filter="url(#bl2)"/>
<path d="M450.10 79.60Q454.20 77.00 458.30 79.60" fill="none" stroke="#0c0c0c" stroke-width="2.40" opacity="1.00" filter="url(#bl2)"/>
<path d="M459.50 79.60Q463.60 77.00 467.70 79.60" fill="none" stroke="#0c0c0c" stroke-width="2.40" opacity="0.95" filter="url(#bl2)"/>
<text x="472.70" y="39.50" font-size="5.3" font-weight="normal" fill="#1a1a1a" text-anchor="start" textLength="36.7" lengthAdjust="spacingAndGlyphs">pROS1 Y2274</text>
<text x="472.70" y="52.20" font-size="5.3" font-weight="normal" fill="#1a1a1a" text-anchor="start" textLength="15.1" lengthAdjust="spacingAndGlyphs">tROS1</text>
<text x="472.70" y="64.80" font-size="5.3" font-weight="normal" fill="#1a1a1a" text-anchor="start" textLength="46.8" lengthAdjust="spacingAndGlyphs">pERK1/2 T202/Y204</text>
<text x="472.70" y="79.70" font-size="5.3" font-weight="normal" fill="#1a1a1a" text-anchor="start" textLength="11.3" lengthAdjust="spacingAndGlyphs">tERK</text>
<text x="404.00" y="91.00" font-size="5.7" font-weight="bold" fill="#000" text-anchor="start" textLength="48" lengthAdjust="spacingAndGlyphs">EZR-ROS1 L2086F</text>
<text x="229.50" y="116.30" font-size="12.9" font-weight="bold" fill="#000" text-anchor="start">D</text>
<rect x="261.40" y="132.40" width="12.78" height="6.77" fill="#ffffff"/>
<rect x="274.18" y="132.40" width="12.78" height="6.77" fill="#ffffff"/>
<rect x="286.96" y="132.40" width="12.78" height="6.77" fill="#d0e1f4"/>
<rect x="299.74" y="132.40" width="12.78" height="6.77" fill="#ffffff"/>
<rect x="312.52" y="132.40" width="12.78" height="6.77" fill="#ffffff"/>
<rect x="325.30" y="132.40" width="12.78" height="6.77" fill="#ffffff"/>
<rect x="261.40" y="139.17" width="12.78" height="6.77" fill="#f9f29c"/>
<rect x="274.18" y="139.17" width="12.78" height="6.77" fill="#ffffff"/>
<rect x="286.96" y="139.17" width="12.78" height="6.77" fill="#d0e1f4"/>
<rect x="299.74" y="139.17" width="12.78" height="6.77" fill="#ffffff"/>
<rect x="312.52" y="139.17" width="12.78" height="6.77" fill="#ffffff"/>
<rect x="325.30" y="139.17" width="12.78" height="6.77" fill="#ffffff"/>
<rect x="261.40" y="145.94" width="12.78" height="6.77" fill="#f9f29c"/>
<rect x="274.18" y="145.94" width="12.78" height="6.77" fill="#ffffff"/>
<rect x="286.96" y="145.94" width="12.78" height="6.77" fill="#d0e1f4"/>
<rect x="299.74" y="145.94" width="12.78" height="6.77" fill="#d0e1f4"/>
<rect x="312.52" y="145.94" width="12.78" height="6.77" fill="#ffffff"/>
<rect x="325.30" y="145.94" width="12.78" height="6.77" fill="#ffffff"/>
<rect x="261.40" y="152.70" width="12.78" height="6.77" fill="#ffffff"/>
<rect x="274.18" y="152.70" width="12.78" height="6.77" fill="#ffffff"/>
<rect x="286.96" y="152.70" width="12.78" height="6.77" fill="#d0e1f4"/>
<rect x="299.74" y="152.70" width="12.78" height="6.77" fill="#d0e1f4"/>
<rect x="312.52" y="152.70" width="12.78" height="6.77" fill="#ffffff"/>
<rect x="325.30" y="152.70" width="12.78" height="6.77" fill="#ffffff"/>
<rect x="261.40" y="159.47" width="12.78" height="6.77" fill="#ffffff"/>
<rect x="274.18" y="159.47" width="12.78" height="6.77" fill="#ffffff"/>
<rect x="286.96" y="159.47" width="12.78" height="6.77" fill="#d0e1f4"/>
<rect x="299.74" y="159.47" width="12.78" height="6.77" fill="#d0e1f4"/>
<rect x="312.52" y="159.47" width="12.78" height="6.77" fill="#ffffff"/>
<rect x="325.30" y="159.47" width="12.78" height="6.77" fill="#ffffff"/>
<rect x="261.40" y="166.24" width="12.78" height="6.77" fill="#ffffff"/>
<rect x="274.18" y="166.24" width="12.78" height="6.77" fill="#ffffff"/>
<rect x="286.96" y="166.24" width="12.78" height="6.77" fill="#d0e1f4"/>
<rect x="299.74" y="166.24" width="12.78" height="6.77" fill="#d0e1f4"/>
<rect x="312.52" y="166.24" width="12.78" height="6.77" fill="#ffffff"/>
<rect x="325.30" y="166.24" width="12.78" height="6.77" fill="#d0e1f4"/>
<rect x="261.40" y="173.01" width="12.78" height="6.77" fill="#f9f29c"/>
<rect x="274.18" y="173.01" width="12.78" height="6.77" fill="#ffffff"/>
<rect x="286.96" y="173.01" width="12.78" height="6.77" fill="#d0e1f4"/>
<rect x="299.74" y="173.01" width="12.78" height="6.77" fill="#ffffff"/>
<rect x="312.52" y="173.01" width="12.78" height="6.77" fill="#ffffff"/>
<rect x="325.30" y="173.01" width="12.78" height="6.77" fill="#ffffff"/>
<rect x="261.40" y="179.78" width="12.78" height="6.77" fill="#f9f29c"/>
<rect x="274.18" y="179.78" width="12.78" height="6.77" fill="#f2963c"/>
<rect x="286.96" y="179.78" width="12.78" height="6.77" fill="#d0e1f4"/>
<rect x="299.74" y="179.78" width="12.78" height="6.77" fill="#ffffff"/>
<rect x="312.52" y="179.78" width="12.78" height="6.77" fill="#f2963c"/>
<rect x="325.30" y="179.78" width="12.78" height="6.77" fill="#ffffff"/>
<rect x="261.40" y="186.54" width="12.78" height="6.77" fill="#ffffff"/>
<rect x="274.18" y="186.54" width="12.78" height="6.77" fill="#f2963c"/>
<rect x="286.96" y="186.54" width="12.78" height="6.77" fill="#d0e1f4"/>
<rect x="299.74" y="186.54" width="12.78" height="6.77" fill="#ffffff"/>
<rect x="312.52" y="186.54" width="12.78" height="6.77" fill="#f2963c"/>
<rect x="325.30" y="186.54" width="12.78" height="6.77" fill="#f9f29c"/>
<rect x="261.40" y="193.31" width="12.78" height="6.77" fill="#f9f29c"/>
<rect x="274.18" y="193.31" width="12.78" height="6.77" fill="#f9f29c"/>
<rect x="286.96" y="193.31" width="12.78" height="6.77" fill="#d0e1f4"/>
<rect x="299.74" y="193.31" width="12.78" height="6.77" fill="#ffffff"/>
<rect x="312.52" y="193.31" width="12.78" height="6.77" fill="#f9f29c"/>
<rect x="325.30" y="193.31" width="12.78" height="6.77" fill="#ffffff"/>
<rect x="261.40" y="200.08" width="12.78" height="6.77" fill="#f9f29c"/>
<rect x="274.18" y="200.08" width="12.78" height="6.77" fill="#f9f29c"/>
<rect x="286.96" y="200.08" width="12.78" height="6.77" fill="#ffffff"/>
<rect x="299.74" y="200.08" width="12.78" height="6.77" fill="#ffffff"/>
<rect x="312.52" y="200.08" width="12.78" height="6.77" fill="#f9f29c"/>
<rect x="325.30" y="200.08" width="12.78" height="6.77" fill="#ffffff"/>
<rect x="261.40" y="206.85" width="12.78" height="6.77" fill="#f9f29c"/>
<rect x="274.18" y="206.85" width="12.78" height="6.77" fill="#ffffff"/>
<rect x="286.96" y="206.85" width="12.78" height="6.77" fill="#d0e1f4"/>
<rect x="299.74" y="206.85" width="12.78" height="6.77" fill="#ffffff"/>
<rect x="312.52" y="206.85" width="12.78" height="6.77" fill="#ffffff"/>
<rect x="325.30" y="206.85" width="12.78" height="6.77" fill="#ffffff"/>
<rect x="261.40" y="213.62" width="12.78" height="6.77" fill="#f9f29c"/>
<rect x="274.18" y="213.62" width="12.78" height="6.77" fill="#ffffff"/>
<rect x="286.96" y="213.62" width="12.78" height="6.77" fill="#d0e1f4"/>
<rect x="299.74" y="213.62" width="12.78" height="6.77" fill="#ffffff"/>
<rect x="312.52" y="213.62" width="12.78" height="6.77" fill="#ffffff"/>
<rect x="325.30" y="213.62" width="12.78" height="6.77" fill="#d0e1f4"/>
<rect x="261.40" y="220.38" width="25.56" height="6.77" fill="#ec1a1a"/>
<rect x="286.96" y="220.38" width="12.78" height="6.77" fill="#f9f29c"/>
<rect x="299.74" y="220.38" width="12.78" height="6.77" fill="#ffffff"/>
<rect x="312.52" y="220.38" width="12.78" height="6.77" fill="#ffffff"/>
<rect x="325.30" y="220.38" width="12.78" height="6.77" fill="#ffffff"/>
<rect x="261.40" y="227.15" width="12.78" height="6.77" fill="#f9f29c"/>
<rect x="274.18" y="227.15" width="12.78" height="6.77" fill="#ffffff"/>
<rect x="286.96" y="227.15" width="12.78" height="6.77" fill="#d0e1f4"/>
<rect x="299.74" y="227.15" width="12.78" height="6.77" fill="#d0e1f4"/>
<rect x="312.52" y="227.15" width="12.78" height="6.77" fill="#ffffff"/>
<rect x="325.30" y="227.15" width="12.78" height="6.77" fill="#d0e1f4"/>
<rect x="261.40" y="233.92" width="12.78" height="6.77" fill="#ffffff"/>
<rect x="274.18" y="233.92" width="12.78" height="6.77" fill="#ffffff"/>
<rect x="286.96" y="233.92" width="12.78" height="6.77" fill="#d0e1f4"/>
<rect x="299.74" y="233.92" width="12.78" height="6.77" fill="#d0e1f4"/>
<rect x="312.52" y="233.92" width="12.78" height="6.77" fill="#ffffff"/>
<rect x="325.30" y="233.92" width="12.78" height="6.77" fill="#ffffff"/>
<rect x="261.40" y="240.69" width="12.78" height="6.77" fill="#e8842e"/>
<rect x="274.18" y="240.69" width="38.34" height="6.77" fill="#ec1a1a"/>
<rect x="312.52" y="240.69" width="12.78" height="6.77" fill="#ffffff"/>
<rect x="325.30" y="240.69" width="12.78" height="6.77" fill="#d0e1f4"/>
<rect x="261.40" y="247.46" width="12.78" height="6.77" fill="#f9f29c"/>
<rect x="274.18" y="247.46" width="12.78" height="6.77" fill="#f9f29c"/>
<rect x="286.96" y="247.46" width="12.78" height="6.77" fill="#d0e1f4"/>
<rect x="299.74" y="247.46" width="12.78" height="6.77" fill="#ffffff"/>
<rect x="312.52" y="247.46" width="12.78" height="6.77" fill="#f9f29c"/>
<rect x="325.30" y="247.46" width="12.78" height="6.77" fill="#ffffff"/>
<rect x="261.40" y="254.22" width="12.78" height="6.77" fill="#f9f29c"/>
<rect x="274.18" y="254.22" width="12.78" height="6.77" fill="#ffffff"/>
<rect x="286.96" y="254.22" width="12.78" height="6.77" fill="#d0e1f4"/>
<rect x="299.74" y="254.22" width="12.78" height="6.77" fill="#ffffff"/>
<rect x="312.52" y="254.22" width="12.78" height="6.77" fill="#ffffff"/>
<rect x="325.30" y="254.22" width="12.78" height="6.77" fill="#d0e1f4"/>
<path d="M274.18 132.4V260.99" stroke="#d8d8d8" stroke-width="0.3"/>
<path d="M286.96 132.4V260.99" stroke="#d8d8d8" stroke-width="0.3"/>
<path d="M299.74 132.4V260.99" stroke="#d8d8d8" stroke-width="0.3"/>
<path d="M312.52 132.4V260.99" stroke="#d8d8d8" stroke-width="0.3"/>
<path d="M325.30 132.4V260.99" stroke="#d8d8d8" stroke-width="0.3"/>
<path d="M261.4 139.17H338.08" stroke="#e4e4e4" stroke-width="0.3"/>
<path d="M261.4 145.94H338.08" stroke="#e4e4e4" stroke-width="0.3"/>
<path d="M261.4 152.70H338.08" stroke="#e4e4e4" stroke-width="0.3"/>
<path d="M261.4 159.47H338.08" stroke="#e4e4e4" stroke-width="0.3"/>
<path d="M261.4 166.24H338.08" stroke="#e4e4e4" stroke-width="0.3"/>
<path d="M261.4 173.01H338.08" stroke="#e4e4e4" stroke-width="0.3"/>
<path d="M261.4 179.78H338.08" stroke="#e4e4e4" stroke-width="0.3"/>
<path d="M261.4 186.54H338.08" stroke="#e4e4e4" stroke-width="0.3"/>
<path d="M261.4 193.31H338.08" stroke="#e4e4e4" stroke-width="0.3"/>
<path d="M261.4 200.08H338.08" stroke="#e4e4e4" stroke-width="0.3"/>
<path d="M261.4 206.85H338.08" stroke="#e4e4e4" stroke-width="0.3"/>
<path d="M261.4 213.62H338.08" stroke="#e4e4e4" stroke-width="0.3"/>
<path d="M261.4 220.38H338.08" stroke="#e4e4e4" stroke-width="0.3"/>
<path d="M261.4 227.15H338.08" stroke="#e4e4e4" stroke-width="0.3"/>
<path d="M261.4 233.92H338.08" stroke="#e4e4e4" stroke-width="0.3"/>
<path d="M261.4 240.69H338.08" stroke="#e4e4e4" stroke-width="0.3"/>
<path d="M261.4 247.46H338.08" stroke="#e4e4e4" stroke-width="0.3"/>
<path d="M261.4 254.22H338.08" stroke="#e4e4e4" stroke-width="0.3"/>
<text x="267.79" y="137.18" font-size="4.0" font-weight="normal" fill="#2a2a2a" text-anchor="middle" stroke="#2a2a2a" stroke-width="0.08">19.5</text>
<text x="280.57" y="137.18" font-size="4.0" font-weight="normal" fill="#2a2a2a" text-anchor="middle" stroke="#2a2a2a" stroke-width="0.08">11.6</text>
<text x="293.35" y="137.18" font-size="4.0" font-weight="normal" fill="#2a2a2a" text-anchor="middle" stroke="#2a2a2a" stroke-width="0.08">0.7</text>
<text x="306.13" y="137.18" font-size="4.0" font-weight="normal" fill="#2a2a2a" text-anchor="middle" stroke="#2a2a2a" stroke-width="0.08">2.1</text>
<text x="318.91" y="137.18" font-size="4.0" font-weight="normal" fill="#2a2a2a" text-anchor="middle" stroke="#2a2a2a" stroke-width="0.08">5.5</text>
<text x="331.69" y="137.18" font-size="4.0" font-weight="normal" fill="#2a2a2a" text-anchor="middle" stroke="#2a2a2a" stroke-width="0.08">2.2</text>
<path d="M259.0 135.78H261.4" stroke="#444" stroke-width="0.5"/>
<text x="258.60" y="137.37" font-size="4.4" font-weight="normal" fill="#1e1e1e" text-anchor="end" textLength="15.1" lengthAdjust="spacingAndGlyphs" stroke="#1e1e1e" stroke-width="0.12">Wildtype</text>
<text x="267.79" y="143.95" font-size="4.0" font-weight="normal" fill="#2a2a2a" text-anchor="middle" stroke="#2a2a2a" stroke-width="0.08">72.5</text>
<text x="280.57" y="143.95" font-size="4.0" font-weight="normal" fill="#2a2a2a" text-anchor="middle" stroke="#2a2a2a" stroke-width="0.08">7.9</text>
<text x="293.35" y="143.95" font-size="4.0" font-weight="normal" fill="#2a2a2a" text-anchor="middle" stroke="#2a2a2a" stroke-width="0.08">0.4</text>
<text x="306.13" y="143.95" font-size="4.0" font-weight="normal" fill="#2a2a2a" text-anchor="middle" stroke="#2a2a2a" stroke-width="0.08">2.8</text>
<text x="318.91" y="143.95" font-size="4.0" font-weight="normal" fill="#2a2a2a" text-anchor="middle" stroke="#2a2a2a" stroke-width="0.08">5.9</text>
<text x="331.69" y="143.95" font-size="4.0" font-weight="normal" fill="#2a2a2a" text-anchor="middle" stroke="#2a2a2a" stroke-width="0.08">3.8</text>
<path d="M259.0 142.55H261.4" stroke="#444" stroke-width="0.5"/>
<text x="258.60" y="144.14" font-size="4.4" font-weight="normal" fill="#1e1e1e" text-anchor="end" stroke="#1e1e1e" stroke-width="0.12">V1979A</text>
<text x="267.79" y="150.72" font-size="4.0" font-weight="normal" fill="#2a2a2a" text-anchor="middle" stroke="#2a2a2a" stroke-width="0.08">33.9</text>
<text x="280.57" y="150.72" font-size="4.0" font-weight="normal" fill="#2a2a2a" text-anchor="middle" stroke="#2a2a2a" stroke-width="0.08">5.3</text>
<text x="293.35" y="150.72" font-size="4.0" font-weight="normal" fill="#2a2a2a" text-anchor="middle" stroke="#2a2a2a" stroke-width="0.08">0.1</text>
<text x="306.13" y="150.72" font-size="4.0" font-weight="normal" fill="#2a2a2a" text-anchor="middle" stroke="#2a2a2a" stroke-width="0.08">0.7</text>
<text x="318.91" y="150.72" font-size="4.0" font-weight="normal" fill="#2a2a2a" text-anchor="middle" stroke="#2a2a2a" stroke-width="0.08">7.2</text>
<text x="331.69" y="150.72" font-size="4.0" font-weight="normal" fill="#2a2a2a" text-anchor="middle" stroke="#2a2a2a" stroke-width="0.08">1.7</text>
<path d="M259.0 149.32H261.4" stroke="#444" stroke-width="0.5"/>
<text x="258.60" y="150.90" font-size="4.4" font-weight="normal" fill="#1e1e1e" text-anchor="end" stroke="#1e1e1e" stroke-width="0.12">L1982F</text>
<text x="267.79" y="157.49" font-size="4.0" font-weight="normal" fill="#2a2a2a" text-anchor="middle" stroke="#2a2a2a" stroke-width="0.08">22.5</text>
<text x="280.57" y="157.49" font-size="4.0" font-weight="normal" fill="#2a2a2a" text-anchor="middle" stroke="#2a2a2a" stroke-width="0.08">5.7</text>
<text x="293.35" y="157.49" font-size="4.0" font-weight="normal" fill="#2a2a2a" text-anchor="middle" stroke="#2a2a2a" stroke-width="0.08">0.2</text>
<text x="306.13" y="157.49" font-size="4.0" font-weight="normal" fill="#2a2a2a" text-anchor="middle" stroke="#2a2a2a" stroke-width="0.08">0.8</text>
<text x="318.91" y="157.49" font-size="4.0" font-weight="normal" fill="#2a2a2a" text-anchor="middle" stroke="#2a2a2a" stroke-width="0.08">3.0</text>
<text x="331.69" y="157.49" font-size="4.0" font-weight="normal" fill="#2a2a2a" text-anchor="middle" stroke="#2a2a2a" stroke-width="0.08">1.7</text>
<path d="M259.0 156.09H261.4" stroke="#444" stroke-width="0.5"/>
<text x="258.60" y="157.67" font-size="4.4" font-weight="normal" fill="#3a3ac0" text-anchor="end" stroke="#3a3ac0" stroke-width="0.12">S1986F</text>
<text x="267.79" y="164.26" font-size="4.0" font-weight="normal" fill="#2a2a2a" text-anchor="middle" stroke="#2a2a2a" stroke-width="0.08">16.5</text>
<text x="280.57" y="164.26" font-size="4.0" font-weight="normal" fill="#2a2a2a" text-anchor="middle" stroke="#2a2a2a" stroke-width="0.08">22.8</text>
<text x="293.35" y="164.26" font-size="4.0" font-weight="normal" fill="#2a2a2a" text-anchor="middle" stroke="#2a2a2a" stroke-width="0.08">0.7</text>
<text x="306.13" y="164.26" font-size="4.0" font-weight="normal" fill="#2a2a2a" text-anchor="middle" stroke="#2a2a2a" stroke-width="0.08">0.7</text>
<text x="318.91" y="164.26" font-size="4.0" font-weight="normal" fill="#2a2a2a" text-anchor="middle" stroke="#2a2a2a" stroke-width="0.08">8.1</text>
<text x="331.69" y="164.26" font-size="4.0" font-weight="normal" fill="#2a2a2a" text-anchor="middle" stroke="#2a2a2a" stroke-width="0.08">4.9</text>
<path d="M259.0 162.86H261.4" stroke="#444" stroke-width="0.5"/>
<text x="258.60" y="164.44" font-size="4.4" font-weight="normal" fill="#1e1e1e" text-anchor="end" stroke="#1e1e1e" stroke-width="0.12">S1986F/I2239*</text>
<text x="267.79" y="171.02" font-size="4.0" font-weight="normal" fill="#2a2a2a" text-anchor="middle" stroke="#2a2a2a" stroke-width="0.08">15.6</text>
<text x="280.57" y="171.02" font-size="4.0" font-weight="normal" fill="#2a2a2a" text-anchor="middle" stroke="#2a2a2a" stroke-width="0.08">8.2</text>
<text x="293.35" y="171.02" font-size="4.0" font-weight="normal" fill="#2a2a2a" text-anchor="middle" stroke="#2a2a2a" stroke-width="0.08">0.1</text>
<text x="306.13" y="171.02" font-size="4.0" font-weight="normal" fill="#2a2a2a" text-anchor="middle" stroke="#2a2a2a" stroke-width="0.08">0.5</text>
<text x="318.91" y="171.02" font-size="4.0" font-weight="normal" fill="#2a2a2a" text-anchor="middle" stroke="#2a2a2a" stroke-width="0.08">1.4</text>
<text x="331.69" y="171.02" font-size="4.0" font-weight="normal" fill="#2a2a2a" text-anchor="middle" stroke="#2a2a2a" stroke-width="0.08">0.8</text>
<path d="M259.0 169.62H261.4" stroke="#444" stroke-width="0.5"/>
<text x="258.60" y="171.21" font-size="4.4" font-weight="normal" fill="#1e1e1e" text-anchor="end" stroke="#1e1e1e" stroke-width="0.12">S1986T</text>
<text x="267.79" y="177.79" font-size="4.0" font-weight="normal" fill="#2a2a2a" text-anchor="middle" stroke="#2a2a2a" stroke-width="0.08">32.3</text>
<text x="280.57" y="177.79" font-size="4.0" font-weight="normal" fill="#2a2a2a" text-anchor="middle" stroke="#2a2a2a" stroke-width="0.08">11.7</text>
<text x="293.35" y="177.79" font-size="4.0" font-weight="normal" fill="#2a2a2a" text-anchor="middle" stroke="#2a2a2a" stroke-width="0.08">0.8</text>
<text x="306.13" y="177.79" font-size="4.0" font-weight="normal" fill="#2a2a2a" text-anchor="middle" stroke="#2a2a2a" stroke-width="0.08">1.9</text>
<text x="318.91" y="177.79" font-size="4.0" font-weight="normal" fill="#2a2a2a" text-anchor="middle" stroke="#2a2a2a" stroke-width="0.08">12.6</text>
<text x="331.69" y="177.79" font-size="4.0" font-weight="normal" fill="#2a2a2a" text-anchor="middle" stroke="#2a2a2a" stroke-width="0.08">2.5</text>
<path d="M259.0 176.39H261.4" stroke="#444" stroke-width="0.5"/>
<text x="258.60" y="177.98" font-size="4.4" font-weight="normal" fill="#1e1e1e" text-anchor="end" stroke="#1e1e1e" stroke-width="0.12">A1998G</text>
<text x="267.79" y="184.56" font-size="4.0" font-weight="normal" fill="#2a2a2a" text-anchor="middle" stroke="#2a2a2a" stroke-width="0.08">66.6</text>
<text x="280.57" y="184.56" font-size="4.0" font-weight="normal" fill="#2a2a2a" text-anchor="middle" stroke="#2a2a2a" stroke-width="0.08">108.8</text>
<text x="293.35" y="184.56" font-size="4.0" font-weight="normal" fill="#2a2a2a" text-anchor="middle" stroke="#2a2a2a" stroke-width="0.08">0.7</text>
<text x="306.13" y="184.56" font-size="4.0" font-weight="normal" fill="#2a2a2a" text-anchor="middle" stroke="#2a2a2a" stroke-width="0.08">6.4</text>
<text x="318.91" y="184.56" font-size="4.0" font-weight="normal" fill="#2a2a2a" text-anchor="middle" stroke="#2a2a2a" stroke-width="0.08">101.8</text>
<text x="331.69" y="184.56" font-size="4.0" font-weight="normal" fill="#2a2a2a" text-anchor="middle" stroke="#2a2a2a" stroke-width="0.08">17.2</text>
<path d="M259.0 183.16H261.4" stroke="#444" stroke-width="0.5"/>
<text x="258.60" y="184.74" font-size="4.4" font-weight="normal" fill="#3a3ac0" text-anchor="end" stroke="#3a3ac0" stroke-width="0.12">F2004C</text>
<text x="267.79" y="191.33" font-size="4.0" font-weight="normal" fill="#2a2a2a" text-anchor="middle" stroke="#2a2a2a" stroke-width="0.08">14.1</text>
<text x="280.57" y="191.33" font-size="4.0" font-weight="normal" fill="#2a2a2a" text-anchor="middle" stroke="#2a2a2a" stroke-width="0.08">116.8</text>
<text x="293.35" y="191.33" font-size="4.0" font-weight="normal" fill="#2a2a2a" text-anchor="middle" stroke="#2a2a2a" stroke-width="0.08">0.2</text>
<text x="306.13" y="191.33" font-size="4.0" font-weight="normal" fill="#2a2a2a" text-anchor="middle" stroke="#2a2a2a" stroke-width="0.08">2.7</text>
<text x="318.91" y="191.33" font-size="4.0" font-weight="normal" fill="#2a2a2a" text-anchor="middle" stroke="#2a2a2a" stroke-width="0.08">308.2</text>
<text x="331.69" y="191.33" font-size="4.0" font-weight="normal" fill="#2a2a2a" text-anchor="middle" stroke="#2a2a2a" stroke-width="0.08">40.3</text>
<path d="M259.0 189.93H261.4" stroke="#444" stroke-width="0.5"/>
<text x="258.60" y="191.51" font-size="4.4" font-weight="normal" fill="#1e1e1e" text-anchor="end" stroke="#1e1e1e" stroke-width="0.12">F2004C/I2239*</text>
<text x="267.79" y="198.10" font-size="4.0" font-weight="normal" fill="#2a2a2a" text-anchor="middle" stroke="#2a2a2a" stroke-width="0.08">25.6</text>
<text x="280.57" y="198.10" font-size="4.0" font-weight="normal" fill="#2a2a2a" text-anchor="middle" stroke="#2a2a2a" stroke-width="0.08">34.5</text>
<text x="293.35" y="198.10" font-size="4.0" font-weight="normal" fill="#2a2a2a" text-anchor="middle" stroke="#2a2a2a" stroke-width="0.08">0.6</text>
<text x="306.13" y="198.10" font-size="4.0" font-weight="normal" fill="#2a2a2a" text-anchor="middle" stroke="#2a2a2a" stroke-width="0.08">2.1</text>
<text x="318.91" y="198.10" font-size="4.0" font-weight="normal" fill="#2a2a2a" text-anchor="middle" stroke="#2a2a2a" stroke-width="0.08">28.7</text>
<text x="331.69" y="198.10" font-size="4.0" font-weight="normal" fill="#2a2a2a" text-anchor="middle" stroke="#2a2a2a" stroke-width="0.08">6.3</text>
<path d="M259.0 196.70H261.4" stroke="#444" stroke-width="0.5"/>
<text x="258.60" y="198.28" font-size="4.4" font-weight="normal" fill="#1e1e1e" text-anchor="end" stroke="#1e1e1e" stroke-width="0.12">F2004I</text>
<text x="267.79" y="204.86" font-size="4.0" font-weight="normal" fill="#2a2a2a" text-anchor="middle" stroke="#2a2a2a" stroke-width="0.08">46.0</text>
<text x="280.57" y="204.86" font-size="4.0" font-weight="normal" fill="#2a2a2a" text-anchor="middle" stroke="#2a2a2a" stroke-width="0.08">74.5</text>
<text x="293.35" y="204.86" font-size="4.0" font-weight="normal" fill="#2a2a2a" text-anchor="middle" stroke="#2a2a2a" stroke-width="0.08">1.2</text>
<text x="306.13" y="204.86" font-size="4.0" font-weight="normal" fill="#2a2a2a" text-anchor="middle" stroke="#2a2a2a" stroke-width="0.08">5.0</text>
<text x="318.91" y="204.86" font-size="4.0" font-weight="normal" fill="#2a2a2a" text-anchor="middle" stroke="#2a2a2a" stroke-width="0.08">44.5</text>
<text x="331.69" y="204.86" font-size="4.0" font-weight="normal" fill="#2a2a2a" text-anchor="middle" stroke="#2a2a2a" stroke-width="0.08">10.9</text>
<path d="M259.0 203.46H261.4" stroke="#444" stroke-width="0.5"/>
<text x="258.60" y="205.05" font-size="4.4" font-weight="normal" fill="#3a3ac0" text-anchor="end" stroke="#3a3ac0" stroke-width="0.12">F2004V</text>
<text x="267.79" y="211.63" font-size="4.0" font-weight="normal" fill="#2a2a2a" text-anchor="middle" stroke="#2a2a2a" stroke-width="0.08">40.0</text>
<text x="280.57" y="211.63" font-size="4.0" font-weight="normal" fill="#2a2a2a" text-anchor="middle" stroke="#2a2a2a" stroke-width="0.08">23.0</text>
<text x="293.35" y="211.63" font-size="4.0" font-weight="normal" fill="#2a2a2a" text-anchor="middle" stroke="#2a2a2a" stroke-width="0.08">0.3</text>
<text x="306.13" y="211.63" font-size="4.0" font-weight="normal" fill="#2a2a2a" text-anchor="middle" stroke="#2a2a2a" stroke-width="0.08">2.0</text>
<text x="318.91" y="211.63" font-size="4.0" font-weight="normal" fill="#2a2a2a" text-anchor="middle" stroke="#2a2a2a" stroke-width="0.08">3.7</text>
<text x="331.69" y="211.63" font-size="4.0" font-weight="normal" fill="#2a2a2a" text-anchor="middle" stroke="#2a2a2a" stroke-width="0.08">1.3</text>
<path d="M259.0 210.23H261.4" stroke="#444" stroke-width="0.5"/>
<text x="258.60" y="211.82" font-size="4.4" font-weight="normal" fill="#1e1e1e" text-anchor="end" stroke="#1e1e1e" stroke-width="0.12">G2012K</text>
<text x="267.79" y="218.40" font-size="4.0" font-weight="normal" fill="#2a2a2a" text-anchor="middle" stroke="#2a2a2a" stroke-width="0.08">88.8</text>
<text x="280.57" y="218.40" font-size="4.0" font-weight="normal" fill="#2a2a2a" text-anchor="middle" stroke="#2a2a2a" stroke-width="0.08">9.6</text>
<text x="293.35" y="218.40" font-size="4.0" font-weight="normal" fill="#2a2a2a" text-anchor="middle" stroke="#2a2a2a" stroke-width="0.08">0.2</text>
<text x="306.13" y="218.40" font-size="4.0" font-weight="normal" fill="#2a2a2a" text-anchor="middle" stroke="#2a2a2a" stroke-width="0.08">1.1</text>
<text x="318.91" y="218.40" font-size="4.0" font-weight="normal" fill="#2a2a2a" text-anchor="middle" stroke="#2a2a2a" stroke-width="0.08">2.0</text>
<text x="331.69" y="218.40" font-size="4.0" font-weight="normal" fill="#2a2a2a" text-anchor="middle" stroke="#2a2a2a" stroke-width="0.08">0.8</text>
<path d="M259.0 217.00H261.4" stroke="#444" stroke-width="0.5"/>
<text x="258.60" y="218.58" font-size="4.4" font-weight="normal" fill="#3a3ac0" text-anchor="end" stroke="#3a3ac0" stroke-width="0.12">L2026M</text>
<text x="293.35" y="225.17" font-size="4.0" font-weight="normal" fill="#2a2a2a" text-anchor="middle" stroke="#2a2a2a" stroke-width="0.08">43.1</text>
<text x="306.13" y="225.17" font-size="4.0" font-weight="normal" fill="#2a2a2a" text-anchor="middle" stroke="#2a2a2a" stroke-width="0.08">10.0</text>
<text x="318.91" y="225.17" font-size="4.0" font-weight="normal" fill="#2a2a2a" text-anchor="middle" stroke="#2a2a2a" stroke-width="0.08">21.0</text>
<text x="331.69" y="225.17" font-size="4.0" font-weight="normal" fill="#2a2a2a" text-anchor="middle" stroke="#2a2a2a" stroke-width="0.08">12.6</text>
<path d="M259.0 223.77H261.4" stroke="#444" stroke-width="0.5"/>
<text x="258.60" y="225.35" font-size="4.4" font-weight="normal" fill="#3a3ac0" text-anchor="end" stroke="#3a3ac0" stroke-width="0.12">G2032R</text>
<text x="267.79" y="231.94" font-size="4.0" font-weight="normal" fill="#2a2a2a" text-anchor="middle" stroke="#2a2a2a" stroke-width="0.08">56.5</text>
<text x="280.57" y="231.94" font-size="4.0" font-weight="normal" fill="#2a2a2a" text-anchor="middle" stroke="#2a2a2a" stroke-width="0.08">24.0</text>
<text x="293.35" y="231.94" font-size="4.0" font-weight="normal" fill="#2a2a2a" text-anchor="middle" stroke="#2a2a2a" stroke-width="0.08">0.1</text>
<text x="306.13" y="231.94" font-size="4.0" font-weight="normal" fill="#2a2a2a" text-anchor="middle" stroke="#2a2a2a" stroke-width="0.08">0.6</text>
<text x="318.91" y="231.94" font-size="4.0" font-weight="normal" fill="#2a2a2a" text-anchor="middle" stroke="#2a2a2a" stroke-width="0.08">1.3</text>
<text x="331.69" y="231.94" font-size="4.0" font-weight="normal" fill="#2a2a2a" text-anchor="middle" stroke="#2a2a2a" stroke-width="0.08">0.8</text>
<path d="M259.0 230.54H261.4" stroke="#444" stroke-width="0.5"/>
<text x="258.60" y="232.12" font-size="4.4" font-weight="normal" fill="#3a3ac0" text-anchor="end" stroke="#3a3ac0" stroke-width="0.12">D2033N</text>
<text x="267.79" y="238.70" font-size="4.0" font-weight="normal" fill="#2a2a2a" text-anchor="middle" stroke="#2a2a2a" stroke-width="0.08">4.7</text>
<text x="280.57" y="238.70" font-size="4.0" font-weight="normal" fill="#2a2a2a" text-anchor="middle" stroke="#2a2a2a" stroke-width="0.08">11.7</text>
<text x="293.35" y="238.70" font-size="4.0" font-weight="normal" fill="#2a2a2a" text-anchor="middle" stroke="#2a2a2a" stroke-width="0.08">0.3</text>
<text x="306.13" y="238.70" font-size="4.0" font-weight="normal" fill="#2a2a2a" text-anchor="middle" stroke="#2a2a2a" stroke-width="0.08">0.7</text>
<text x="318.91" y="238.70" font-size="4.0" font-weight="normal" fill="#2a2a2a" text-anchor="middle" stroke="#2a2a2a" stroke-width="0.08">3.2</text>
<text x="331.69" y="238.70" font-size="4.0" font-weight="normal" fill="#2a2a2a" text-anchor="middle" stroke="#2a2a2a" stroke-width="0.08">2.7</text>
<path d="M259.0 237.30H261.4" stroke="#444" stroke-width="0.5"/>
<text x="258.60" y="238.89" font-size="4.4" font-weight="normal" fill="#1e1e1e" text-anchor="end" stroke="#1e1e1e" stroke-width="0.12">M2073T</text>
<text x="267.79" y="245.47" font-size="4.0" font-weight="normal" fill="#2a2a2a" text-anchor="middle" stroke="#2a2a2a" stroke-width="0.08">868.9</text>
<text x="318.91" y="245.47" font-size="4.0" font-weight="normal" fill="#2a2a2a" text-anchor="middle" stroke="#2a2a2a" stroke-width="0.08">1.1</text>
<text x="331.69" y="245.47" font-size="4.0" font-weight="normal" fill="#2a2a2a" text-anchor="middle" stroke="#2a2a2a" stroke-width="0.08">0.5</text>
<path d="M259.0 244.07H261.4" stroke="#444" stroke-width="0.5"/>
<text x="258.60" y="245.66" font-size="4.4" font-weight="normal" fill="#3a3ac0" text-anchor="end" stroke="#3a3ac0" stroke-width="0.12">L2086F</text>
<text x="267.79" y="252.24" font-size="4.0" font-weight="normal" fill="#2a2a2a" text-anchor="middle" stroke="#2a2a2a" stroke-width="0.08">46.9</text>
<text x="280.57" y="252.24" font-size="4.0" font-weight="normal" fill="#2a2a2a" text-anchor="middle" stroke="#2a2a2a" stroke-width="0.08">27.9</text>
<text x="293.35" y="252.24" font-size="4.0" font-weight="normal" fill="#2a2a2a" text-anchor="middle" stroke="#2a2a2a" stroke-width="0.08">0.1</text>
<text x="306.13" y="252.24" font-size="4.0" font-weight="normal" fill="#2a2a2a" text-anchor="middle" stroke="#2a2a2a" stroke-width="0.08">3.3</text>
<text x="318.91" y="252.24" font-size="4.0" font-weight="normal" fill="#2a2a2a" text-anchor="middle" stroke="#2a2a2a" stroke-width="0.08">58.8</text>
<text x="331.69" y="252.24" font-size="4.0" font-weight="normal" fill="#2a2a2a" text-anchor="middle" stroke="#2a2a2a" stroke-width="0.08">2.7</text>
<path d="M259.0 250.84H261.4" stroke="#444" stroke-width="0.5"/>
<text x="258.60" y="252.42" font-size="4.4" font-weight="normal" fill="#1e1e1e" text-anchor="end" stroke="#1e1e1e" stroke-width="0.12">D2113G</text>
<text x="267.79" y="259.01" font-size="4.0" font-weight="normal" fill="#2a2a2a" text-anchor="middle" stroke="#2a2a2a" stroke-width="0.08">32.3</text>
<text x="280.57" y="259.01" font-size="4.0" font-weight="normal" fill="#2a2a2a" text-anchor="middle" stroke="#2a2a2a" stroke-width="0.08">10.5</text>
<text x="293.35" y="259.01" font-size="4.0" font-weight="normal" fill="#2a2a2a" text-anchor="middle" stroke="#2a2a2a" stroke-width="0.08">0.1</text>
<text x="306.13" y="259.01" font-size="4.0" font-weight="normal" fill="#2a2a2a" text-anchor="middle" stroke="#2a2a2a" stroke-width="0.08">1.6</text>
<text x="318.91" y="259.01" font-size="4.0" font-weight="normal" fill="#2a2a2a" text-anchor="middle" stroke="#2a2a2a" stroke-width="0.08">5.4</text>
<text x="331.69" y="259.01" font-size="4.0" font-weight="normal" fill="#2a2a2a" text-anchor="middle" stroke="#2a2a2a" stroke-width="0.08">0.9</text>
<path d="M259.0 257.61H261.4" stroke="#444" stroke-width="0.5"/>
<text x="258.60" y="259.19" font-size="4.4" font-weight="normal" fill="#1e1e1e" text-anchor="end" stroke="#1e1e1e" stroke-width="0.12">I2239*</text>
<rect x="261.4" y="132.4" width="76.68" height="128.59" fill="none" stroke="#555" stroke-width="0.6"/>
<path d="M267.79 130.0V132.4" stroke="#444" stroke-width="0.5"/>
<text transform="translate(269.49,129.4) rotate(-90)" font-size="4.9" fill="#111" stroke="#111" stroke-width="0.12" textLength="19" lengthAdjust="spacingAndGlyphs">Crizotinib</text>
<path d="M280.57 130.0V132.4" stroke="#444" stroke-width="0.5"/>
<text transform="translate(282.27,129.4) rotate(-90)" font-size="4.9" fill="#111" stroke="#111" stroke-width="0.12" textLength="19.5" lengthAdjust="spacingAndGlyphs">Entrectinib</text>
<path d="M293.35 130.0V132.4" stroke="#444" stroke-width="0.5"/>
<text transform="translate(295.05,129.4) rotate(-90)" font-size="4.9" fill="#111" stroke="#111" stroke-width="0.12" textLength="19" lengthAdjust="spacingAndGlyphs">Lorlatinib</text>
<path d="M306.13 130.0V132.4" stroke="#444" stroke-width="0.5"/>
<text transform="translate(307.83,129.4) rotate(-90)" font-size="4.9" fill="#111" stroke="#111" stroke-width="0.12" textLength="27.7" lengthAdjust="spacingAndGlyphs">Repotrectinib</text>
<path d="M318.91 130.0V132.4" stroke="#444" stroke-width="0.5"/>
<text transform="translate(320.61,129.4) rotate(-90)" font-size="4.9" fill="#111" stroke="#111" stroke-width="0.12" textLength="26.7" lengthAdjust="spacingAndGlyphs">Cabozantinib</text>
<path d="M331.69 130.0V132.4" stroke="#444" stroke-width="0.5"/>
<text transform="translate(333.39,129.4) rotate(-90)" font-size="4.9" fill="#111" stroke="#111" stroke-width="0.12" textLength="18" lengthAdjust="spacingAndGlyphs">Foretinib</text>
<text x="271.40" y="267.60" font-size="5.9" font-weight="bold" fill="#000" text-anchor="start" textLength="49.5" lengthAdjust="spacingAndGlyphs">Ba/F3 CD74-ROS1</text>
<linearGradient id="gD" x1="0" y1="0" x2="0" y2="1"><stop offset="0" stop-color="#b00808"/><stop offset="1" stop-color="#ec2418"/></linearGradient>
<rect x="342.2" y="166.7" width="5.4" height="12.36" fill="url(#gD)"/>
<rect x="342.2" y="179.06" width="5.4" height="12.41" fill="#f0862e"/>
<rect x="342.2" y="191.42" width="5.4" height="12.41" fill="#faf09a"/>
<rect x="342.2" y="203.78" width="5.4" height="12.41" fill="#ffffff"/>
<rect x="342.2" y="216.14" width="5.4" height="12.41" fill="#c9dcf2"/>
<rect x="342.2" y="166.7" width="5.4" height="61.80000000000001" fill="none" stroke="#666" stroke-width="0.5"/>
<text x="344.2" y="163.1" font-size="4.9" fill="#222">IC<tspan font-size="3.0" dy="1.1">50</tspan></text>
<path d="M347.59999999999997 172.88h1.4" stroke="#444" stroke-width="0.45"/>
<text x="350.00" y="174.58" font-size="4.7" font-weight="normal" fill="#1e1e1e" text-anchor="start" textLength="11.7" lengthAdjust="spacingAndGlyphs" stroke="#1e1e1e" stroke-width="0.08">&gt;1500</text>
<path d="M347.59999999999997 185.24h1.4" stroke="#444" stroke-width="0.45"/>
<text x="350.00" y="186.94" font-size="4.7" font-weight="normal" fill="#1e1e1e" text-anchor="start" textLength="19.5" lengthAdjust="spacingAndGlyphs" stroke="#1e1e1e" stroke-width="0.08">100–1500</text>
<path d="M347.59999999999997 197.60h1.4" stroke="#444" stroke-width="0.45"/>
<text x="350.00" y="199.30" font-size="4.7" font-weight="normal" fill="#1e1e1e" text-anchor="start" textLength="22" lengthAdjust="spacingAndGlyphs" stroke="#1e1e1e" stroke-width="0.08">25.01–100</text>
<path d="M347.59999999999997 209.96h1.4" stroke="#444" stroke-width="0.45"/>
<text x="350.00" y="211.66" font-size="4.7" font-weight="normal" fill="#1e1e1e" text-anchor="start" textLength="15.2" lengthAdjust="spacingAndGlyphs" stroke="#1e1e1e" stroke-width="0.08">1.01–25</text>
<path d="M347.59999999999997 222.32h1.4" stroke="#444" stroke-width="0.45"/>
<text x="350.00" y="224.02" font-size="4.7" font-weight="normal" fill="#1e1e1e" text-anchor="start" textLength="19.5" lengthAdjust="spacingAndGlyphs" stroke="#1e1e1e" stroke-width="0.08">&lt;1 nmol/L</text>
<text x="342.50" y="234.40" font-size="4.7" font-weight="normal" fill="#1e1e1e" text-anchor="start" textLength="21.8" lengthAdjust="spacingAndGlyphs" stroke="#1e1e1e" stroke-width="0.08">Nanomolar</text>
<text x="372.20" y="116.30" font-size="12.9" font-weight="bold" fill="#000" text-anchor="start">E</text>
<rect x="405.70" y="132.00" width="13.00" height="10.68" fill="#ffffff"/>
<rect x="418.70" y="132.00" width="13.00" height="10.68" fill="#ffffff"/>
<rect x="431.70" y="132.00" width="13.00" height="10.68" fill="#d0e1f4"/>
<rect x="444.70" y="132.00" width="13.00" height="10.68" fill="#d0e1f4"/>
<rect x="457.70" y="132.00" width="13.00" height="10.68" fill="#ffffff"/>
<rect x="470.70" y="132.00" width="13.00" height="10.68" fill="#ffffff"/>
<rect x="405.70" y="142.68" width="13.00" height="10.68" fill="#ffffff"/>
<rect x="418.70" y="142.68" width="13.00" height="10.68" fill="#ffffff"/>
<rect x="431.70" y="142.68" width="13.00" height="10.68" fill="#d0e1f4"/>
<rect x="444.70" y="142.68" width="13.00" height="10.68" fill="#d0e1f4"/>
<rect x="457.70" y="142.68" width="13.00" height="10.68" fill="#ffffff"/>
<rect x="470.70" y="142.68" width="13.00" height="10.68" fill="#d0e1f4"/>
<rect x="405.70" y="153.36" width="13.00" height="10.68" fill="#ffffff"/>
<rect x="418.70" y="153.36" width="13.00" height="10.68" fill="#ffffff"/>
<rect x="431.70" y="153.36" width="13.00" height="10.68" fill="#d0e1f4"/>
<rect x="444.70" y="153.36" width="13.00" height="10.68" fill="#d0e1f4"/>
<rect x="457.70" y="153.36" width="13.00" height="10.68" fill="#ffffff"/>
<rect x="470.70" y="153.36" width="13.00" height="10.68" fill="#ffffff"/>
<rect x="405.70" y="164.04" width="13.00" height="10.68" fill="#f9f29c"/>
<rect x="418.70" y="164.04" width="13.00" height="10.68" fill="#f2963c"/>
<rect x="431.70" y="164.04" width="13.00" height="10.68" fill="#ffffff"/>
<rect x="444.70" y="164.04" width="13.00" height="10.68" fill="#ffffff"/>
<rect x="457.70" y="164.04" width="13.00" height="10.68" fill="#f2963c"/>
<rect x="470.70" y="164.04" width="13.00" height="10.68" fill="#f9f29c"/>
<rect x="405.70" y="174.72" width="13.00" height="10.68" fill="#f9f29c"/>
<rect x="418.70" y="174.72" width="13.00" height="10.68" fill="#f9f29c"/>
<rect x="431.70" y="174.72" width="13.00" height="10.68" fill="#ffffff"/>
<rect x="444.70" y="174.72" width="13.00" height="10.68" fill="#ffffff"/>
<rect x="457.70" y="174.72" width="13.00" height="10.68" fill="#f9f29c"/>
<rect x="470.70" y="174.72" width="13.00" height="10.68" fill="#f2963c"/>
<rect x="405.70" y="185.40" width="13.00" height="10.68" fill="#f9f29c"/>
<rect x="418.70" y="185.40" width="13.00" height="10.68" fill="#f9f29c"/>
<rect x="431.70" y="185.40" width="13.00" height="10.68" fill="#ffffff"/>
<rect x="444.70" y="185.40" width="13.00" height="10.68" fill="#ffffff"/>
<rect x="457.70" y="185.40" width="13.00" height="10.68" fill="#f9f29c"/>
<rect x="470.70" y="185.40" width="13.00" height="10.68" fill="#ffffff"/>
<rect x="405.70" y="196.08" width="13.00" height="10.68" fill="#f2963c"/>
<rect x="418.70" y="196.08" width="13.00" height="10.68" fill="#ffffff"/>
<rect x="431.70" y="196.08" width="13.00" height="10.68" fill="#ffffff"/>
<rect x="444.70" y="196.08" width="13.00" height="10.68" fill="#ffffff"/>
<rect x="457.70" y="196.08" width="13.00" height="10.68" fill="#ffffff"/>
<rect x="470.70" y="196.08" width="13.00" height="10.68" fill="#ffffff"/>
<rect x="405.70" y="206.76" width="13.00" height="10.68" fill="#e8842e"/>
<rect x="418.70" y="206.76" width="13.00" height="10.68" fill="#e8842e"/>
<rect x="431.70" y="206.76" width="13.00" height="10.68" fill="#f9f29c"/>
<rect x="444.70" y="206.76" width="13.00" height="10.68" fill="#ffffff"/>
<rect x="457.70" y="206.76" width="13.00" height="10.68" fill="#ffffff"/>
<rect x="470.70" y="206.76" width="13.00" height="10.68" fill="#ffffff"/>
<rect x="405.70" y="217.44" width="13.00" height="10.68" fill="#f2963c"/>
<rect x="418.70" y="217.44" width="13.00" height="10.68" fill="#f9f29c"/>
<rect x="431.70" y="217.44" width="13.00" height="10.68" fill="#ffffff"/>
<rect x="444.70" y="217.44" width="13.00" height="10.68" fill="#ffffff"/>
<rect x="457.70" y="217.44" width="13.00" height="10.68" fill="#ffffff"/>
<rect x="470.70" y="217.44" width="13.00" height="10.68" fill="#ffffff"/>
<rect x="405.70" y="228.12" width="13.00" height="10.68" fill="#ec1a1a"/>
<rect x="418.70" y="228.12" width="13.00" height="10.68" fill="#e8842e"/>
<rect x="431.70" y="228.12" width="26.00" height="10.68" fill="#ec1a1a"/>
<rect x="457.70" y="228.12" width="13.00" height="10.68" fill="#ffffff"/>
<rect x="470.70" y="228.12" width="13.00" height="10.68" fill="#ffffff"/>
<rect x="405.70" y="238.80" width="13.00" height="10.68" fill="#f9f29c"/>
<rect x="418.70" y="238.80" width="13.00" height="10.68" fill="#ffffff"/>
<rect x="431.70" y="238.80" width="13.00" height="10.68" fill="#d0e1f4"/>
<rect x="444.70" y="238.80" width="13.00" height="10.68" fill="#ffffff"/>
<rect x="457.70" y="238.80" width="13.00" height="10.68" fill="#ffffff"/>
<rect x="470.70" y="238.80" width="13.00" height="10.68" fill="#d0e1f4"/>
<rect x="405.70" y="249.48" width="13.00" height="10.68" fill="#ffffff"/>
<rect x="418.70" y="249.48" width="13.00" height="10.68" fill="#ffffff"/>
<rect x="431.70" y="249.48" width="13.00" height="10.68" fill="#d0e1f4"/>
<rect x="444.70" y="249.48" width="13.00" height="10.68" fill="#ffffff"/>
<rect x="457.70" y="249.48" width="13.00" height="10.68" fill="#ffffff"/>
<rect x="470.70" y="249.48" width="13.00" height="10.68" fill="#ffffff"/>
<path d="M418.70 132V260.16" stroke="#d8d8d8" stroke-width="0.3"/>
<path d="M431.70 132V260.16" stroke="#d8d8d8" stroke-width="0.3"/>
<path d="M444.70 132V260.16" stroke="#d8d8d8" stroke-width="0.3"/>
<path d="M457.70 132V260.16" stroke="#d8d8d8" stroke-width="0.3"/>
<path d="M470.70 132V260.16" stroke="#d8d8d8" stroke-width="0.3"/>
<path d="M405.7 142.68H483.70" stroke="#e4e4e4" stroke-width="0.3"/>
<path d="M405.7 153.36H483.70" stroke="#e4e4e4" stroke-width="0.3"/>
<path d="M405.7 164.04H483.70" stroke="#e4e4e4" stroke-width="0.3"/>
<path d="M405.7 174.72H483.70" stroke="#e4e4e4" stroke-width="0.3"/>
<path d="M405.7 185.40H483.70" stroke="#e4e4e4" stroke-width="0.3"/>
<path d="M405.7 196.08H483.70" stroke="#e4e4e4" stroke-width="0.3"/>
<path d="M405.7 206.76H483.70" stroke="#e4e4e4" stroke-width="0.3"/>
<path d="M405.7 217.44H483.70" stroke="#e4e4e4" stroke-width="0.3"/>
<path d="M405.7 228.12H483.70" stroke="#e4e4e4" stroke-width="0.3"/>
<path d="M405.7 238.80H483.70" stroke="#e4e4e4" stroke-width="0.3"/>
<path d="M405.7 249.48H483.70" stroke="#e4e4e4" stroke-width="0.3"/>
<text x="412.20" y="138.74" font-size="4.0" font-weight="normal" fill="#2a2a2a" text-anchor="middle" stroke="#2a2a2a" stroke-width="0.08">10.7</text>
<text x="425.20" y="138.74" font-size="4.0" font-weight="normal" fill="#2a2a2a" text-anchor="middle" stroke="#2a2a2a" stroke-width="0.08">5.6</text>
<text x="438.20" y="138.74" font-size="4.0" font-weight="normal" fill="#2a2a2a" text-anchor="middle" stroke="#2a2a2a" stroke-width="0.08">0.2</text>
<text x="451.20" y="138.74" font-size="4.0" font-weight="normal" fill="#2a2a2a" text-anchor="middle" stroke="#2a2a2a" stroke-width="0.08">0.7</text>
<text x="464.20" y="138.74" font-size="4.0" font-weight="normal" fill="#2a2a2a" text-anchor="middle" stroke="#2a2a2a" stroke-width="0.08">4.3</text>
<text x="477.20" y="138.74" font-size="4.0" font-weight="normal" fill="#2a2a2a" text-anchor="middle" stroke="#2a2a2a" stroke-width="0.08">1.1</text>
<path d="M403.3 137.34H405.7" stroke="#444" stroke-width="0.5"/>
<text x="403.20" y="139.07" font-size="4.8" font-weight="normal" fill="#1e1e1e" text-anchor="end" textLength="15.6" lengthAdjust="spacingAndGlyphs" stroke="#1e1e1e" stroke-width="0.12">Wildtype</text>
<text x="412.20" y="149.42" font-size="4.0" font-weight="normal" fill="#2a2a2a" text-anchor="middle" stroke="#2a2a2a" stroke-width="0.08">6.3</text>
<text x="425.20" y="149.42" font-size="4.0" font-weight="normal" fill="#2a2a2a" text-anchor="middle" stroke="#2a2a2a" stroke-width="0.08">3.3</text>
<text x="438.20" y="149.42" font-size="4.0" font-weight="normal" fill="#2a2a2a" text-anchor="middle" stroke="#2a2a2a" stroke-width="0.08">0.02</text>
<text x="451.20" y="149.42" font-size="4.0" font-weight="normal" fill="#2a2a2a" text-anchor="middle" stroke="#2a2a2a" stroke-width="0.08">0.3</text>
<text x="464.20" y="149.42" font-size="4.0" font-weight="normal" fill="#2a2a2a" text-anchor="middle" stroke="#2a2a2a" stroke-width="0.08">1.6</text>
<text x="477.20" y="149.42" font-size="4.0" font-weight="normal" fill="#2a2a2a" text-anchor="middle" stroke="#2a2a2a" stroke-width="0.08">0.7</text>
<path d="M403.3 148.02H405.7" stroke="#444" stroke-width="0.5"/>
<text x="403.20" y="149.75" font-size="4.8" font-weight="normal" fill="#1e1e1e" text-anchor="end" textLength="31.9" lengthAdjust="spacingAndGlyphs" stroke="#1e1e1e" stroke-width="0.12">A1924_I1934del</text>
<text x="412.20" y="160.10" font-size="4.0" font-weight="normal" fill="#2a2a2a" text-anchor="middle" stroke="#2a2a2a" stroke-width="0.08">16.6</text>
<text x="425.20" y="160.10" font-size="4.0" font-weight="normal" fill="#2a2a2a" text-anchor="middle" stroke="#2a2a2a" stroke-width="0.08">6.8</text>
<text x="438.20" y="160.10" font-size="4.0" font-weight="normal" fill="#2a2a2a" text-anchor="middle" stroke="#2a2a2a" stroke-width="0.08">0.4</text>
<text x="451.20" y="160.10" font-size="4.0" font-weight="normal" fill="#2a2a2a" text-anchor="middle" stroke="#2a2a2a" stroke-width="0.08">0.7</text>
<text x="464.20" y="160.10" font-size="4.0" font-weight="normal" fill="#2a2a2a" text-anchor="middle" stroke="#2a2a2a" stroke-width="0.08">6.8</text>
<text x="477.20" y="160.10" font-size="4.0" font-weight="normal" fill="#2a2a2a" text-anchor="middle" stroke="#2a2a2a" stroke-width="0.08">3.0</text>
<path d="M403.3 158.70H405.7" stroke="#444" stroke-width="0.5"/>
<text x="403.20" y="160.43" font-size="4.8" font-weight="normal" fill="#3a3ac0" text-anchor="end" stroke="#3a3ac0" stroke-width="0.12">S1986F</text>
<text x="412.20" y="170.78" font-size="4.0" font-weight="normal" fill="#2a2a2a" text-anchor="middle" stroke="#2a2a2a" stroke-width="0.08">80.6</text>
<text x="425.20" y="170.78" font-size="4.0" font-weight="normal" fill="#2a2a2a" text-anchor="middle" stroke="#2a2a2a" stroke-width="0.08">128.4</text>
<text x="438.20" y="170.78" font-size="4.0" font-weight="normal" fill="#2a2a2a" text-anchor="middle" stroke="#2a2a2a" stroke-width="0.08">1.2</text>
<text x="451.20" y="170.78" font-size="4.0" font-weight="normal" fill="#2a2a2a" text-anchor="middle" stroke="#2a2a2a" stroke-width="0.08">5.6</text>
<text x="464.20" y="170.78" font-size="4.0" font-weight="normal" fill="#2a2a2a" text-anchor="middle" stroke="#2a2a2a" stroke-width="0.08">121.8</text>
<text x="477.20" y="170.78" font-size="4.0" font-weight="normal" fill="#2a2a2a" text-anchor="middle" stroke="#2a2a2a" stroke-width="0.08">32.5</text>
<path d="M403.3 169.38H405.7" stroke="#444" stroke-width="0.5"/>
<text x="403.20" y="171.11" font-size="4.8" font-weight="normal" fill="#3a3ac0" text-anchor="end" stroke="#3a3ac0" stroke-width="0.12">F2004C</text>
<text x="412.20" y="181.46" font-size="4.0" font-weight="normal" fill="#2a2a2a" text-anchor="middle" stroke="#2a2a2a" stroke-width="0.08">41.5</text>
<text x="425.20" y="181.46" font-size="4.0" font-weight="normal" fill="#2a2a2a" text-anchor="middle" stroke="#2a2a2a" stroke-width="0.08">56.8</text>
<text x="438.20" y="181.46" font-size="4.0" font-weight="normal" fill="#2a2a2a" text-anchor="middle" stroke="#2a2a2a" stroke-width="0.08">1.0</text>
<text x="451.20" y="181.46" font-size="4.0" font-weight="normal" fill="#2a2a2a" text-anchor="middle" stroke="#2a2a2a" stroke-width="0.08">2.0</text>
<text x="464.20" y="181.46" font-size="4.0" font-weight="normal" fill="#2a2a2a" text-anchor="middle" stroke="#2a2a2a" stroke-width="0.08">76.8</text>
<text x="477.20" y="181.46" font-size="4.0" font-weight="normal" fill="#2a2a2a" text-anchor="middle" stroke="#2a2a2a" stroke-width="0.08">237.1</text>
<path d="M403.3 180.06H405.7" stroke="#444" stroke-width="0.5"/>
<text x="403.20" y="181.79" font-size="4.8" font-weight="normal" fill="#1e1e1e" text-anchor="end" stroke="#1e1e1e" stroke-width="0.12">F2004I</text>
<text x="412.20" y="192.14" font-size="4.0" font-weight="normal" fill="#2a2a2a" text-anchor="middle" stroke="#2a2a2a" stroke-width="0.08">65.9</text>
<text x="425.20" y="192.14" font-size="4.0" font-weight="normal" fill="#2a2a2a" text-anchor="middle" stroke="#2a2a2a" stroke-width="0.08">92.6</text>
<text x="438.20" y="192.14" font-size="4.0" font-weight="normal" fill="#2a2a2a" text-anchor="middle" stroke="#2a2a2a" stroke-width="0.08">1.6</text>
<text x="451.20" y="192.14" font-size="4.0" font-weight="normal" fill="#2a2a2a" text-anchor="middle" stroke="#2a2a2a" stroke-width="0.08">5.9</text>
<text x="464.20" y="192.14" font-size="4.0" font-weight="normal" fill="#2a2a2a" text-anchor="middle" stroke="#2a2a2a" stroke-width="0.08">71.2</text>
<text x="477.20" y="192.14" font-size="4.0" font-weight="normal" fill="#2a2a2a" text-anchor="middle" stroke="#2a2a2a" stroke-width="0.08">19.7</text>
<path d="M403.3 190.74H405.7" stroke="#444" stroke-width="0.5"/>
<text x="403.20" y="192.47" font-size="4.8" font-weight="normal" fill="#3a3ac0" text-anchor="end" stroke="#3a3ac0" stroke-width="0.12">F2004V</text>
<text x="412.20" y="202.82" font-size="4.0" font-weight="normal" fill="#2a2a2a" text-anchor="middle" stroke="#2a2a2a" stroke-width="0.08">105.5</text>
<text x="425.20" y="202.82" font-size="4.0" font-weight="normal" fill="#2a2a2a" text-anchor="middle" stroke="#2a2a2a" stroke-width="0.08">16.4</text>
<text x="438.20" y="202.82" font-size="4.0" font-weight="normal" fill="#2a2a2a" text-anchor="middle" stroke="#2a2a2a" stroke-width="0.08">1.4</text>
<text x="451.20" y="202.82" font-size="4.0" font-weight="normal" fill="#2a2a2a" text-anchor="middle" stroke="#2a2a2a" stroke-width="0.08">2.3</text>
<text x="464.20" y="202.82" font-size="4.0" font-weight="normal" fill="#2a2a2a" text-anchor="middle" stroke="#2a2a2a" stroke-width="0.08">7.6</text>
<text x="477.20" y="202.82" font-size="4.0" font-weight="normal" fill="#2a2a2a" text-anchor="middle" stroke="#2a2a2a" stroke-width="0.08">3.6</text>
<path d="M403.3 201.42H405.7" stroke="#444" stroke-width="0.5"/>
<text x="403.20" y="203.15" font-size="4.8" font-weight="normal" fill="#3a3ac0" text-anchor="end" stroke="#3a3ac0" stroke-width="0.12">L2026M</text>
<text x="412.20" y="213.50" font-size="4.0" font-weight="normal" fill="#2a2a2a" text-anchor="middle" stroke="#2a2a2a" stroke-width="0.08">914.3</text>
<text x="425.20" y="213.50" font-size="4.0" font-weight="normal" fill="#2a2a2a" text-anchor="middle" stroke="#2a2a2a" stroke-width="0.08">864.8</text>
<text x="438.20" y="213.50" font-size="4.0" font-weight="normal" fill="#2a2a2a" text-anchor="middle" stroke="#2a2a2a" stroke-width="0.08">42.3</text>
<text x="451.20" y="213.50" font-size="4.0" font-weight="normal" fill="#2a2a2a" text-anchor="middle" stroke="#2a2a2a" stroke-width="0.08">2.8</text>
<text x="464.20" y="213.50" font-size="4.0" font-weight="normal" fill="#2a2a2a" text-anchor="middle" stroke="#2a2a2a" stroke-width="0.08">8.8</text>
<text x="477.20" y="213.50" font-size="4.0" font-weight="normal" fill="#2a2a2a" text-anchor="middle" stroke="#2a2a2a" stroke-width="0.08">4.3</text>
<path d="M403.3 212.10H405.7" stroke="#444" stroke-width="0.5"/>
<text x="403.20" y="213.83" font-size="4.8" font-weight="normal" fill="#3a3ac0" text-anchor="end" stroke="#3a3ac0" stroke-width="0.12">G2032R</text>
<text x="412.20" y="224.18" font-size="4.0" font-weight="normal" fill="#2a2a2a" text-anchor="middle" stroke="#2a2a2a" stroke-width="0.08">144.8</text>
<text x="425.20" y="224.18" font-size="4.0" font-weight="normal" fill="#2a2a2a" text-anchor="middle" stroke="#2a2a2a" stroke-width="0.08">97.1</text>
<text x="438.20" y="224.18" font-size="4.0" font-weight="normal" fill="#2a2a2a" text-anchor="middle" stroke="#2a2a2a" stroke-width="0.08">2.2</text>
<text x="451.20" y="224.18" font-size="4.0" font-weight="normal" fill="#2a2a2a" text-anchor="middle" stroke="#2a2a2a" stroke-width="0.08">6.2</text>
<text x="464.20" y="224.18" font-size="4.0" font-weight="normal" fill="#2a2a2a" text-anchor="middle" stroke="#2a2a2a" stroke-width="0.08">4.2</text>
<text x="477.20" y="224.18" font-size="4.0" font-weight="normal" fill="#2a2a2a" text-anchor="middle" stroke="#2a2a2a" stroke-width="0.08">1.8</text>
<path d="M403.3 222.78H405.7" stroke="#444" stroke-width="0.5"/>
<text x="403.20" y="224.51" font-size="4.8" font-weight="normal" fill="#3a3ac0" text-anchor="end" stroke="#3a3ac0" stroke-width="0.12">D2033N</text>
<text x="425.20" y="234.86" font-size="4.0" font-weight="normal" fill="#2a2a2a" text-anchor="middle" stroke="#2a2a2a" stroke-width="0.08">847.3</text>
<text x="464.20" y="234.86" font-size="4.0" font-weight="normal" fill="#2a2a2a" text-anchor="middle" stroke="#2a2a2a" stroke-width="0.08">9.4</text>
<text x="477.20" y="234.86" font-size="4.0" font-weight="normal" fill="#2a2a2a" text-anchor="middle" stroke="#2a2a2a" stroke-width="0.08">3.1</text>
<path d="M403.3 233.46H405.7" stroke="#444" stroke-width="0.5"/>
<text x="403.20" y="235.19" font-size="4.8" font-weight="normal" fill="#3a3ac0" text-anchor="end" stroke="#3a3ac0" stroke-width="0.12">L2086F</text>
<text x="412.20" y="245.54" font-size="4.0" font-weight="normal" fill="#2a2a2a" text-anchor="middle" stroke="#2a2a2a" stroke-width="0.08">44.8</text>
<text x="425.20" y="245.54" font-size="4.0" font-weight="normal" fill="#2a2a2a" text-anchor="middle" stroke="#2a2a2a" stroke-width="0.08">20.2</text>
<text x="438.20" y="245.54" font-size="4.0" font-weight="normal" fill="#2a2a2a" text-anchor="middle" stroke="#2a2a2a" stroke-width="0.08">0.8</text>
<text x="451.20" y="245.54" font-size="4.0" font-weight="normal" fill="#2a2a2a" text-anchor="middle" stroke="#2a2a2a" stroke-width="0.08">2.1</text>
<text x="464.20" y="245.54" font-size="4.0" font-weight="normal" fill="#2a2a2a" text-anchor="middle" stroke="#2a2a2a" stroke-width="0.08">1.2</text>
<text x="477.20" y="245.54" font-size="4.0" font-weight="normal" fill="#2a2a2a" text-anchor="middle" stroke="#2a2a2a" stroke-width="0.08">0.2</text>
<path d="M403.3 244.14H405.7" stroke="#444" stroke-width="0.5"/>
<text x="403.20" y="245.87" font-size="4.8" font-weight="normal" fill="#1e1e1e" text-anchor="end" stroke="#1e1e1e" stroke-width="0.12">G2101A</text>
<text x="412.20" y="256.22" font-size="4.0" font-weight="normal" fill="#2a2a2a" text-anchor="middle" stroke="#2a2a2a" stroke-width="0.08">14.0</text>
<text x="425.20" y="256.22" font-size="4.0" font-weight="normal" fill="#2a2a2a" text-anchor="middle" stroke="#2a2a2a" stroke-width="0.08">16.4</text>
<text x="438.20" y="256.22" font-size="4.0" font-weight="normal" fill="#2a2a2a" text-anchor="middle" stroke="#2a2a2a" stroke-width="0.08">0.2</text>
<text x="451.20" y="256.22" font-size="4.0" font-weight="normal" fill="#2a2a2a" text-anchor="middle" stroke="#2a2a2a" stroke-width="0.08">1.4</text>
<text x="464.20" y="256.22" font-size="4.0" font-weight="normal" fill="#2a2a2a" text-anchor="middle" stroke="#2a2a2a" stroke-width="0.08">5.7</text>
<text x="477.20" y="256.22" font-size="4.0" font-weight="normal" fill="#2a2a2a" text-anchor="middle" stroke="#2a2a2a" stroke-width="0.08">2.1</text>
<path d="M403.3 254.82H405.7" stroke="#444" stroke-width="0.5"/>
<text x="403.20" y="256.55" font-size="4.8" font-weight="normal" fill="#1e1e1e" text-anchor="end" stroke="#1e1e1e" stroke-width="0.12">D2113N</text>
<rect x="405.7" y="132" width="78.00" height="128.16" fill="none" stroke="#555" stroke-width="0.6"/>
<path d="M412.20 129.6V132" stroke="#444" stroke-width="0.5"/>
<text transform="translate(413.90,129.0) rotate(-90)" font-size="4.9" fill="#111" stroke="#111" stroke-width="0.12" textLength="19" lengthAdjust="spacingAndGlyphs">Crizotinib</text>
<path d="M425.20 129.6V132" stroke="#444" stroke-width="0.5"/>
<text transform="translate(426.90,129.0) rotate(-90)" font-size="4.9" fill="#111" stroke="#111" stroke-width="0.12" textLength="19.5" lengthAdjust="spacingAndGlyphs">Entrectinib</text>
<path d="M438.20 129.6V132" stroke="#444" stroke-width="0.5"/>
<text transform="translate(439.90,129.0) rotate(-90)" font-size="4.9" fill="#111" stroke="#111" stroke-width="0.12" textLength="19" lengthAdjust="spacingAndGlyphs">Lorlatinib</text>
<path d="M451.20 129.6V132" stroke="#444" stroke-width="0.5"/>
<text transform="translate(452.90,129.0) rotate(-90)" font-size="4.9" fill="#111" stroke="#111" stroke-width="0.12" textLength="27.7" lengthAdjust="spacingAndGlyphs">Repotrectinib</text>
<path d="M464.20 129.6V132" stroke="#444" stroke-width="0.5"/>
<text transform="translate(465.90,129.0) rotate(-90)" font-size="4.9" fill="#111" stroke="#111" stroke-width="0.12" textLength="26.7" lengthAdjust="spacingAndGlyphs">Cabozantinib</text>
<path d="M477.20 129.6V132" stroke="#444" stroke-width="0.5"/>
<text transform="translate(478.90,129.0) rotate(-90)" font-size="4.9" fill="#111" stroke="#111" stroke-width="0.12" textLength="18" lengthAdjust="spacingAndGlyphs">Foretinib</text>
<text x="421.50" y="266.60" font-size="5.9" font-weight="bold" fill="#000" text-anchor="start" textLength="46" lengthAdjust="spacingAndGlyphs">Ba/F3 EZR-ROS1</text>
<linearGradient id="gE" x1="0" y1="0" x2="0" y2="1"><stop offset="0" stop-color="#b00808"/><stop offset="1" stop-color="#ec2418"/></linearGradient>
<rect x="487.3" y="167" width="5.4" height="12.40" fill="url(#gE)"/>
<rect x="487.3" y="179.40" width="5.4" height="12.45" fill="#f0862e"/>
<rect x="487.3" y="191.80" width="5.4" height="12.45" fill="#faf09a"/>
<rect x="487.3" y="204.20" width="5.4" height="12.45" fill="#ffffff"/>
<rect x="487.3" y="216.60" width="5.4" height="12.45" fill="#c9dcf2"/>
<rect x="487.3" y="167" width="5.4" height="62" fill="none" stroke="#666" stroke-width="0.5"/>
<text x="489.3" y="163.4" font-size="4.9" fill="#222">IC<tspan font-size="3.0" dy="1.1">50</tspan></text>
<path d="M492.7 173.20h1.4" stroke="#444" stroke-width="0.45"/>
<text x="495.10" y="174.90" font-size="4.7" font-weight="normal" fill="#1e1e1e" text-anchor="start" textLength="11.7" lengthAdjust="spacingAndGlyphs" stroke="#1e1e1e" stroke-width="0.08">&gt;1500</text>
<path d="M492.7 185.60h1.4" stroke="#444" stroke-width="0.45"/>
<text x="495.10" y="187.30" font-size="4.7" font-weight="normal" fill="#1e1e1e" text-anchor="start" textLength="19.5" lengthAdjust="spacingAndGlyphs" stroke="#1e1e1e" stroke-width="0.08">100–1500</text>
<path d="M492.7 198.00h1.4" stroke="#444" stroke-width="0.45"/>
<text x="495.10" y="199.70" font-size="4.7" font-weight="normal" fill="#1e1e1e" text-anchor="start" textLength="22" lengthAdjust="spacingAndGlyphs" stroke="#1e1e1e" stroke-width="0.08">25.01–100</text>
<path d="M492.7 210.40h1.4" stroke="#444" stroke-width="0.45"/>
<text x="495.10" y="212.10" font-size="4.7" font-weight="normal" fill="#1e1e1e" text-anchor="start" textLength="15.2" lengthAdjust="spacingAndGlyphs" stroke="#1e1e1e" stroke-width="0.08">1.01–25</text>
<path d="M492.7 222.80h1.4" stroke="#444" stroke-width="0.45"/>
<text x="495.10" y="224.50" font-size="4.7" font-weight="normal" fill="#1e1e1e" text-anchor="start" textLength="19.5" lengthAdjust="spacingAndGlyphs" stroke="#1e1e1e" stroke-width="0.08">&lt;1 nmol/L</text>
<text x="487.60" y="234.90" font-size="4.7" font-weight="normal" fill="#1e1e1e" text-anchor="start" textLength="21.8" lengthAdjust="spacingAndGlyphs" stroke="#1e1e1e" stroke-width="0.08">Nanomolar</text>
</svg></body></html>
